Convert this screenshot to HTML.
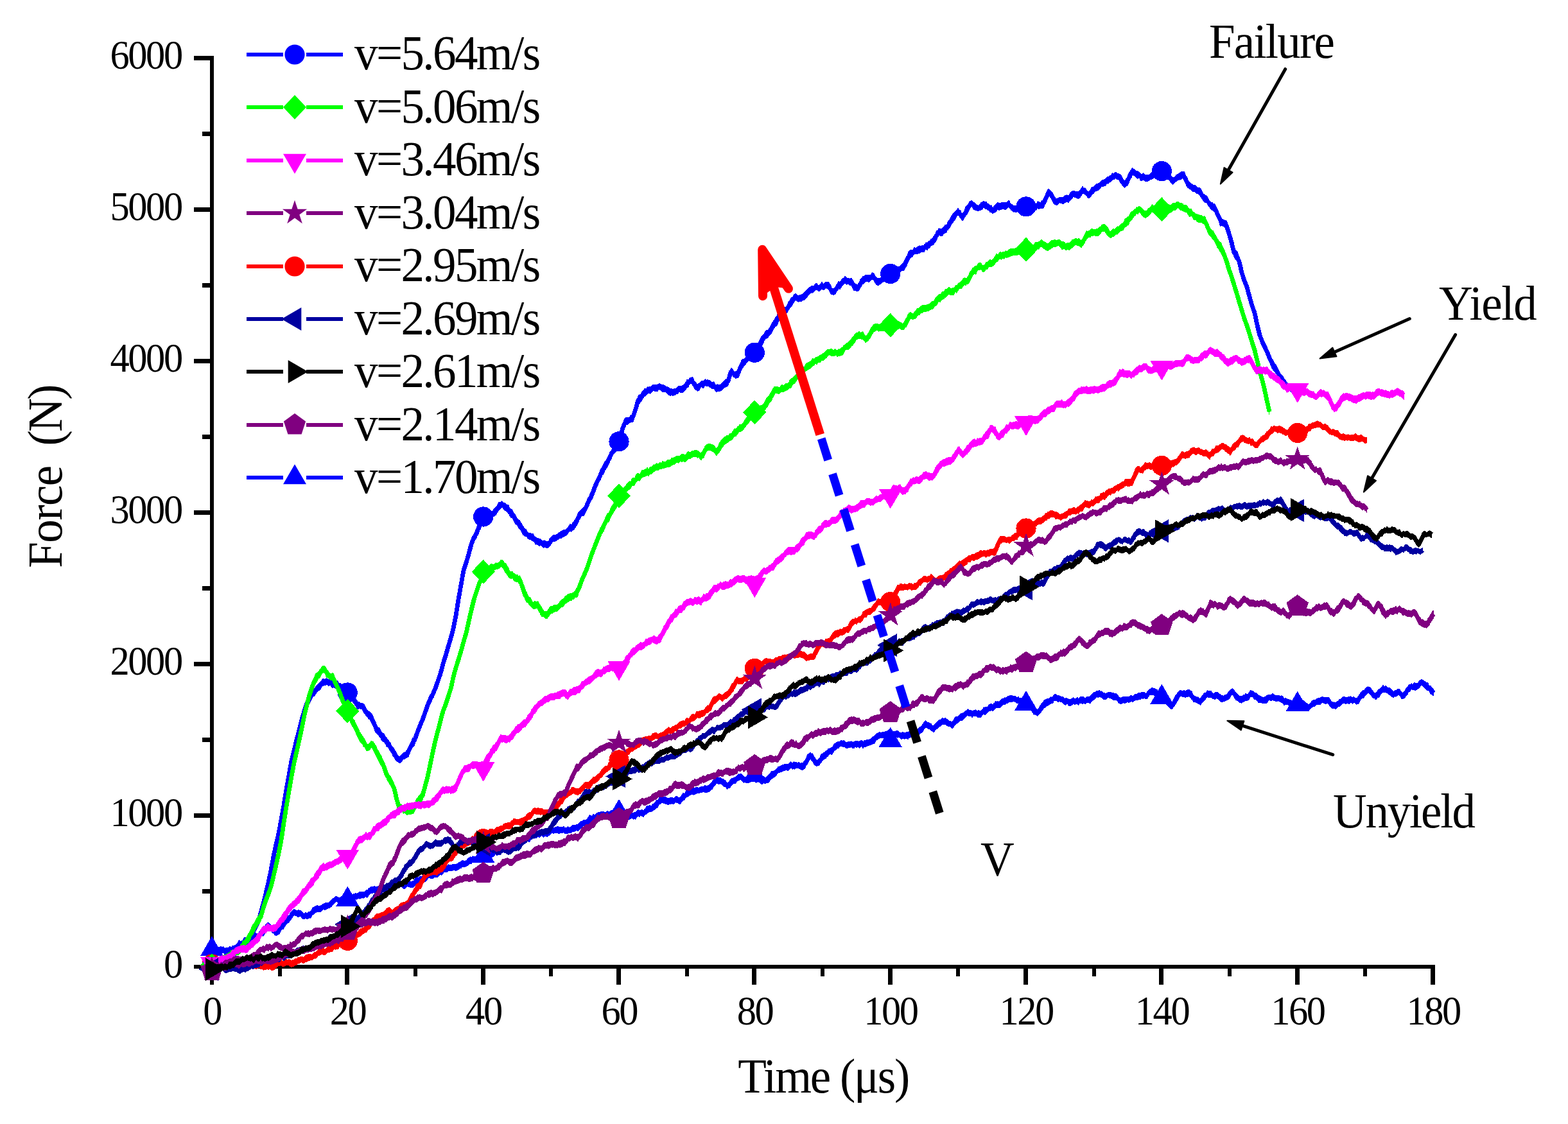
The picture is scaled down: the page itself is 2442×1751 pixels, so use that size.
<!DOCTYPE html>
<html lang="en"><head><meta charset="utf-8"><title>Force-time curves</title>
<style>html,body{margin:0;padding:0;background:#fff}svg{display:block}text{font-family:'Liberation Serif', serif;fill:#000;white-space:pre}</style></head><body>
<svg width="2442" height="1751" viewBox="0 0 2442 1751">
<rect width="2442" height="1751" fill="#fff"/>
<g fill="#000" shape-rendering="crispEdges">
<rect x="327" y="87" width="6" height="1422"/>
<rect x="327" y="1503" width="1908" height="6"/>
<rect x="302" y="1503" width="28" height="6"/>
<rect x="315" y="1385" width="15" height="7"/>
<rect x="302" y="1267" width="28" height="7"/>
<rect x="315" y="1149" width="15" height="7"/>
<rect x="302" y="1031" width="28" height="7"/>
<rect x="315" y="913" width="15" height="7"/>
<rect x="302" y="795" width="28" height="7"/>
<rect x="315" y="677" width="15" height="7"/>
<rect x="302" y="559" width="28" height="7"/>
<rect x="315" y="441" width="15" height="7"/>
<rect x="302" y="323" width="28" height="7"/>
<rect x="315" y="205" width="15" height="7"/>
<rect x="302" y="87" width="28" height="7"/>
<rect x="327" y="1506" width="6" height="28"/>
<rect x="433" y="1506" width="6" height="15"/>
<rect x="537" y="1506" width="7" height="28"/>
<rect x="644" y="1506" width="6" height="15"/>
<rect x="749" y="1506" width="7" height="28"/>
<rect x="855" y="1506" width="6" height="15"/>
<rect x="960" y="1506" width="7" height="28"/>
<rect x="1067" y="1506" width="6" height="15"/>
<rect x="1171" y="1506" width="7" height="28"/>
<rect x="1278" y="1506" width="6" height="15"/>
<rect x="1383" y="1506" width="7" height="28"/>
<rect x="1489" y="1506" width="6" height="15"/>
<rect x="1594" y="1506" width="7" height="28"/>
<rect x="1701" y="1506" width="6" height="15"/>
<rect x="1805" y="1506" width="7" height="28"/>
<rect x="1912" y="1506" width="6" height="15"/>
<rect x="2017" y="1506" width="7" height="28"/>
<rect x="2123" y="1506" width="6" height="15"/>
<rect x="2228" y="1506" width="7" height="28"/>
</g>
<g fill="none" stroke-width="6.8" stroke-linejoin="round" stroke-linecap="butt" shape-rendering="crispEdges">
<g><path d="M330 1479.9l2-.9 2-.6 2-2.7 2 .4 2-1 2-.1 2-1.9 2 2.3 2-1.2 2 3 2-1 2-.1 2-.4 2-2.6 2 2.1 2-2.7 2 .4 2-1 2-1 2-2.6 2-4.1 2 .9 2 2.5 2-4 2-3.5 2 .1 2-.7 2-2.1 2-1 2 .9 2-.8 2-1.1 2-1.5 2-.8 2 1.2 2 .3 2-3.9 2-4 2-.1 2-.6 2-2.7 2-4 2-1.7 2-.5 2 1.3 2 2.5 2 .5 2 .4 2 3.8 2 .2 2 .8 2-3 2-3.9 2-3.1 2-1.8 2-.4 2-3.8 2-3.1 2-1.3 2-.2 2-4.8 2-2.2 2-1.7 2-1.2 2 .8 2 1.3 2-.8 2-.1 2 .9 2 1.2 2 2.5 2 .9 2-2 2 1.7 2-2.4 2-.4 2-.7 2-4 2-2.3 2-.6 2-1.2 2-.9 2 .7 2 .6 2-.4 2-3 2-.4 2-1.3 2-.1 2-.1 2-.6 2-2.4 2-1.9 2-1.8 2-.9 2-2.3 2 .3 2 .2 2 2 2-1 2-2 2 .3 2-.4 2-.7 2 .3 2-1.9 2-.5 2 1.5 2-.4 2-1.7 2-.3 2-.8 2 .8 2-1.4 2-1.2 2-.3 2-.3 2 .7 2-.1 2-3 2 .4 2-2.8 2-1.4 2-2.1 2 1 2-1 2 .1 2 .6 2-.6 2-.5 2-.6 2-.2 2 1.2 2 .5 2-1.5 2-.6 2-.6 2-.1 2-.6 2-1.3 2-.8 2-.5 2-2 2-1.2 2 1.1 2-1.8 2 .5 2 .8 2 1.2 2 1.5 2-1.1 2-3 2 1.6 2-1 2 1.6 2-.2 2-1.3 2-3.1 2-1.4 2-1.2 2 1 2-2.7 2 .7 2-.5 2 1.1 2-2.4 2-1 2-3.5 2-1.4 2 .6 2 1.6 2-1.7 2-.6 2-1 2 1.8 2-2.2 2-2.3 2-.9 2-1.4 2-.1 2-3 2-.6 2 1.1 2-2.2 2 1 2-.1 2-.7 2 .1 2-1.2 2 1 2-1.4 2-1.2 2-1.4 2-.1 2-3 2 1.6 2 .7 2-1.4 2-2.3 2-1.8 2-1.8 2 .9 2-2.1 2 1.2 2-.4 2 0 2-4.2 2 0 2-.6 2-.3 2-2.5 2 .1 2-.1 2-1.6 2-.6 2-.3 2-.1 2 1 2-1.7 2-1.2 2-1 2 1.2 2 .6 2-1.2 2-2.4 2 .6 2-1.9 2 .4 2-1 2-1.2 2-1.5 2-.6 2-1.2 2-1.1 2-.1 2-2 2 2.1 2-.4 2-.4 2-2.6 2 .2 2-1.7 2-3.9 2-.1 2 .6 2-1.9 2 .1 2-3.3 2-1.9 2 .4 2-1.9 2-.7 2 .1 2 .7 2 .4 2-2.9 2-.3 2 1.7 2 .3 2-1.9 2 1.4 2-1.9 2-.4 2-2.9 2-.7 2 1.3 2-.1 2-1 2-.3 2-.1 2 1.3 2-.8 2 .5 2-1.5 2 2.3 2-.1 2-2 2 1.9 2-.8 2-1.8 2-1.4 2 .2 2-.2 2-.7 2-.5 2-2.5 2-2.2 2 .4 2-2.2 2-.6 2 .3 2-1.3 2-2.2 2-4.1 2 .8 2 .9 2-3.4 2 2 2-2.3 2-1.6 2-.5 2 .3 2-1.4 2 .5 2-.4 2 .7 2-.3 2-2.1 2 2.2 2-1.5 2-1.1 2 .3 2-1.7 2-.6 2 1.9 2 .5 2-.9 2 1.8 2-.9 2-.5 2 4.5 2-2 2 3.7 2-1.9 2 .3 2-.8 2-.2 2 .7 2-1.5 2 .2 2-2.4 2-2 2 1.9 2-1.1 2-.4 2 1.2 2-1.3 2-4.4 2-1.4 2 .1 2-1 2 1 2-2.5 2-.8 2-1.9 2-4 2 1.6 2-5.2 2-2 2-.3 2 0 2 .5 2 .5 2 .9 2 1.1 2-.5 2-.2 2-.6 2 .9 2 .2 2-2.2 2-1.1 2 1.6 2 1.3 2-1.8 2-3.4 2-2.6 2 1.3 2-4.3 2-2 2-1.1 2-.3 2-1 2-.1 2-.5 2 .8 2-2 2 0 2 1.5 2-.9 2-1.7 2 1.2 2-1.2 2-1.9 2 2.1 2-1 2-1.1 2-1.6 2-1.9 2-3.5 2-3.3 2-.2 2-2.1 2 .7 2 .5 2-.1 2 1.4 2 .6 2 1.5 2 1.3 2 2.7 2 0 2-2.6 2-2.4 2-1.5 2-.4 2-1.2 2-1.1 2-1.8 2-2.5 2 .7 2-1 2 1.4 2 2.1 2 2.6 2-1.3 2 .7 2-1.3 2 1.2 2-1.5 2-1.4 2-.6 2 .1 2 1.2 2 .6 2 .6 2-.2 2 1.9 2 .5 2-2.4 2 2.8 2-2.5 2-1.3 2-2.4 2-2.6 2-2 2 0 2-.6 2-2.1 2-1 2-3.6 2 .2 2-1.2 2-1.1 2-.3 2-1.7 2 .2 2 .7 2-.4 2-3 2-1 2 2.7 2-2.6 2 1.2 2-.7 2 1.8 2-1.7 2 2.2 2-.6 2 .1 2-2.8 2-2 2-5.4 2-3.6 2-.9 2-1.8 2 2.1 2-.8 2 5.2 2 3.4 2 2.8 2-1 2-2.6 2-5.5 2-1.4 2-1.5 2-1 2-1.7 2-1.6 2-2.7 2 0 2-1 2-1 2-4 2-1.5 2-1.5 2-1.2 2-.7 2-.1 2-1.9 2 1 2-.6 2 .8 2 2.7 2-1.1 2-.2 2-.2 2-.9 2 1.6 2-.4 2-2.2 2 1.3 2-.9 2 1.3 2-1.6 2-.7 2 3 2-3 2 .3 2-.8 2-.5 2 .2 2-1.7 2-1.6 2-1.6 2-1.5 2-1.5 2-1.9 2-.7 2-1.3 2 1.2 2-1.4 2 .7 2-1.2 2-.6 2-.7 2-1.5 2 2 2 1.2 2 0 2-1.1 2 1 2-1.9 2 0 2 1.8 2 1.5 2 .6 2-1.5 2 .9 2 0 2-.8 2 .1 2-1.7 2-.9 2-1.9 2 .3 2 .7 2 1.6 2-2.3 2-1.1 2-2.6 2-.4 2-3 2-2.9 2-3.1 2-.7 2 2.7 2-.1 2 1.1 2 .7 2 2.6 2 1.4 2-1.9 2-4 2-1.1 2-2.3 2 .1 2-1.6 2-2.1 2 1.1 2-1.2 2 2.2 2 .4 2 2.8 2-.6 2 1.4 2-.8 2-4.6 2-2.3 2-.1 2-.2 2-1.9 2-2.9 2 .4 2-1.6 2-1.4 2-1.5 2-1.5 2-1.5 2 2.2 2-.7 2 2.2 2-1.2 2-.5 2-.9 2 2.1 2-1.1 2 .9 2-.4 2-1.7 2-3.6 2 .5 2-1.2 2 .3 2-3.7 2-.7 2-.5 2 1.1 2-1.1 2-3.9 2 .5 2-.3 2 .4 2-2 2-2.4 2-.4 2-1.5 2 .2 2-1.3 2-1.3 2-.6 2-.1 2-.3 2 1.1 2-.5 2 .3 2 2.8 2-2.5 2 3.6 2-1.5 2 1.5 2 1.2 2 1.4 2-.3 2 1.8 2 1.5 2-.9 2 2 2 2.8 2 3.8 2 2.1 2 .1 2 1.9 2-3.1 2-3.7 2-3.4 2-1.5 2-2.8 2-1.2 2-1 2-.6 2 .1 2-2.8 2 .5 2-1.4 2-3.6 2-.2 2 2.3 2 .7 2-.1 2 1.1 2 .5 2 .3 2 2.5 2-.7 2 .2 2 1.5 2-.3 2 .3 2-1.5 2-1.3 2 2.6 2-1.3 2-1.7 2 2.6 2-2.8 2-.1 2-.4 2 .2 2 2.6 2-2.9 2 .8 2-.8 2-1.1 2-1.7 2-2.3 2-1.9 2-.2 2-2.1 2 .6 2-1.6 2 2.1 2-.2 2 2.6 2 .1 2 .8 2-.9 2-1.2 2 .4 2-.6 2 1.9 2-.3 2 .9 2-.4 2 2 2 2.3 2 2.3 2 .4 2-1 2-1.3 2 .8 2-.5 2 0 2 .3 2-1.5 2-1 2 2.4 2-2.3 2-1.8 2 .4 2-1.6 2-.7 2 .6 2-1.4 2-.6 2 .3 2 2.1 2-.6 2-3.2 2-3.3 2-.3 2-1.7 2 .8 2 .5 2 1 2 .8 2 2.4 2-1.1 2 1.7 2-.1 2 1.8 2 1.6 2 3.4 2 2.6 2 4.5 2 1.3 2 3 2-1.4 2-5.5 2-4.1 2-2.2 2-3.6 2-1.3 2-2.2 2 1 2 .5 2-1.5 2 1.3 2-1.2 2-.5 2-.4 2 2.1 2-.1 2 5.9 2 1.9 2 .8 2 1.1 2-.2 2 2.4 2-1.1 2-2.7 2-3.3 2-1.8 2-.4 2-3.8 2 1.5 2 .1 2-.9 2 3.1 2 1.4 2-1.3 2-.7 2 .4 2 .8 2 2 2 1.5 2 .4 2 .9 2-2.3 2 0 2-2.6 2-2.7 2-1.2 2-2.4 2-.6 2 2.4 2 2.8 2 2.7 2 .9 2 2.7 2 .7 2 .1 2-2 2-.2 2-2.5 2 2.1 2-1.7 2-3.2 2-2 2 1.6 2-.1 2 2.2 2 .6 2 .9 2 2.5 2 1 2 .9 2 1.1 2 .4 2-.8 2-1.7 2-1.2 2-.8 2 .7 2-.8 2-2.3 2 3 2 .5 2 .7 2-.7 2 .1 2 1.1 2-.5 2 1.2 2 3.3 2-.7 2 1.3 2 .4 2 .8 2 .2 2 1.4 2-1.6 2 .2 2 .4 2-1.8 2 3.2 2-.1 2 1.2 2-1.5 2-.1 2 1.4 2 1.9 2 .9 2 2.3 2-1.2 2-3.7 2-1.9 2-.6 2-.1 2-1.8 2-.7 2-.4 2-.6 2-1.2 2-.5 2 1 2 .2 2 .2 2-1 2 1.2 2 3.6 2 2.6 2 1 2-.3 2 .8 2-2 2-.6 2-3 2 .5 2-2.4 2-2 2-.1 2 1.3 2 .6 2-1.6 2 .8 2-1.7 2 2.8 2-1.9 2 1.5 2 .6 2-.2 2-3.9 2-2.5 2-3.5 2-1.5 2 .4 2-4 2-1 2-1.5 2 .6 2 .4 2 2.7 2 2.3 2 3.1 2 .6 2-1.1 2-3.6 2-1.3 2-1.9 2-1.3 2-3.6 2 3.3 2-1.5 2 1.6 2 1.7 2-.2 2 1.6 2 1.3 2 2.9 2-1.5 2-.6 2-1 2-1.6 2 1.6 2 2.8 2 2 2 .4 2-3.9 2-3.8 2-1 2-4.6 2 .9 2-2.7 2 2.3 2-2.9 2 .2 2 1.1 2-.8 2-3.2 2-1.6 2-1.6 2 1.5 2 1.7 2 1.2 2 1 2 .4 2 4.5 2 .2 2 2.3 3.1 3.2 0 11.2 -3.1-2 -2-1 -2-3.8 -2-1.8 -2 0 -2-2.5 -2-1.6 -2-2.8 -2-1.6 -2 2.3 -2 3 -2 .8 -2 1.7 -2 .5 -2-.4 -2 .1 -2-1.4 -2 3.6 -2 .5 -2 5.1 -2 .8 -2 3.4 -2 .9 -2 .9 -2-1 -2-3.9 -2-1.9 -2 1.8 -2 1.6 -2-.7 -2 2.1 -2-1.2 -2-1.8 -2-1.1 -2-2.2 -2-.8 -2-1.4 -2 0 -2-.3 -2 1.3 -2 3.5 -2 4.1 -2-1.1 -2 3 -2 1.5 -2-3.1 -2 .3 -2-2.9 -2-2.6 -2-1.9 -2-.9 -2 3.3 -2 1.2 -2 3.3 -2 .1 -2 2 -2 3 -2 4.1 -2 .5 -2 .5 -2-2.4 -2 .2 -2 1.7 -2-3.1 -2 2.4 -2 .1 -2-.5 -2 .9 -2-1 -2-.6 -2 2.3 -2 2.1 -2 1.4 -2 .1 -2 2.1 -2 1.8 -2-1.5 -2-.2 -2 .1 -2-2.1 -2-2.4 -2-3.4 -2 .8 -2 .5 -2-.7 -2-1.1 -2 .6 -2 2.4 -2-.3 -2 .4 -2-.2 -2 2.5 -2 .4 -2 1 -2 1.4 -2 2.3 -2 2.7 -2-3.7 -2 1.6 -2-1.6 -2-2 -2-2 -2 2.1 -2 .1 -2-1.7 -2-2.7 -2 2.8 -2-2.1 -2 1.2 -2 .3 -2 1.1 -2-1 -2-2.2 -2-.9 -2 .3 -2 1.4 -2-2.7 -2-1.7 -2-1.1 -2-.9 -2-.8 -2 1.4 -2-1.4 -2 .4 -2-2 -2 1.7 -2-.6 -2-.8 -2 3.6 -2 1.4 -2-.1 -2 .2 -2 .3 -2-1.4 -2-.5 -2 1 -2-3.5 -2-1.3 -2-.5 -2-2.1 -2-2.2 -2-.3 -2 3.8 -2 1.8 -2 .8 -2-.3 -2 1.5 -2 .6 -2 2.4 -2-1.5 -2 .4 -2-3.1 -2 0 -2-1.7 -2-3.4 -2-4.1 -2 .2 -2 4.1 -2 3.1 -2 0 -2 1.8 -2 .6 -2 .4 -2 1.6 -2-.6 -2-1.2 -2-2.5 -2-1.1 -2-.9 -2 1.8 -2-.7 -2-.5 -2-2 -2 .9 -2-.9 -2-1 -2 3.4 -2 2.2 -2 2 -2 2.1 -2 3.4 -2-1.2 -2-1.1 -2-1.3 -2-1 -2 .1 -2-.9 -2-4.6 -2-1.5 -2-2.5 -2 1.6 -2-.4 -2 1.3 -2-1.7 -2 1 -2-1.7 -2-.5 -2 4.7 -2 3.3 -2 3.9 -2 2.6 -2 2.5 -2 3.1 -2 .5 -2-1.6 -2-1.4 -2-2.6 -2-1.7 -2-4.6 -2-1.5 -2-2.5 -2-1.7 -2-.6 -2-1.4 -2-2.1 -2 .3 -2 .6 -2-1.7 -2 .1 -2-.2 -2 1 -2 3.6 -2 2.5 -2-.6 -2-.7 -2 .5 -2-.6 -2 2.3 -2-.4 -2 .6 -2 .5 -2 .4 -2 1.1 -2 1.1 -2-.6 -2 .7 -2 .9 -2-.5 -2 .3 -2 2 -2-1.2 -2 .4 -2 1.3 -2-.4 -2-1.5 -2-2.4 -2-2.4 -2 1.1 -2-.2 -2-2.2 -2-.5 -2-.6 -2-1 -2 1.6 -2 1.7 -2-.6 -2 .7 -2-3.7 -2-.1 -2-.8 -2 1.1 -2-.9 -2 2.5 -2 2.3 -2 .1 -2 2.6 -2 3 -2-1.2 -2-.7 -2 .9 -2 2.4 -2-1.9 -2 1 -2-1.3 -2-.1 -2 3.6 -2-2 -2-.4 -2 1.7 -2-2.4 -2 3.1 -2 .4 -2 .1 -2 .2 -2-3.2 -2 2.3 -2-1.1 -2-1.3 -2-2.4 -2 .2 -2-1.3 -2 1.3 -2-1.8 -2-.5 -2-.7 -2 4.2 -2 .2 -2 1.2 -2 1.3 -2 1.1 -2 .6 -2 2.5 -2 .8 -2 3.4 -2 2.3 -2 2.9 -2 .9 -2 3.3 -2-1.7 -2-1 -2 .2 -2-3.3 -2-2.9 -2-3.7 -2 .9 -2-.8 -2-3.5 -2 .9 -2-2.1 -2-.6 -2-1.3 -2 .8 -2-1.7 -2-.3 -2-1.3 -2-1.4 -2 0 -2 .4 -2 .2 -2-.4 -2 2.3 -2 .2 -2 1.7 -2 .6 -2-.3 -2 2.5 -2 2 -2 1 -2-.9 -2 .6 -2 .7 -2 2.7 -2 1.7 -2-1.7 -2 1.5 -2-.4 -2 2.9 -2 2 -2 1.4 -2-1 -2 1.4 -2 3.3 -2 .5 -2-.4 -2 0 -2-2.6 -2 1.4 -2-1 -2 2.9 -2-3 -2 0 -2 0 -2-.4 -2 2.9 -2 1.8 -2 1.2 -2 2.5 -2-.4 -2 1.3 -2 2.6 -2 0 -2 2 -2 2.9 -2 2.6 -2 .1 -2-2.4 -2 .2 -2-1 -2-.6 -2-2.1 -2 .3 -2-.3 -2 1.4 -2 1.9 -2 1.6 -2 1.8 -2 .9 -2 2.9 -2 2.4 -2-2.6 -2-.3 -2-2.8 -2 .4 -2-2 -2-.9 -2 1.7 -2 4 -2 2.7 -2 .8 -2 2.1 -2 .9 -2 2 -2 1.6 -2-1.5 -2-1.2 -2 .8 -2 1.8 -2 .8 -2 2.2 -2-.8 -2-.8 -2 1.4 -2-1.8 -2 2.2 -2-2.2 -2-1.3 -2 .8 -2-.3 -2 .8 -2 .1 -2 .1 -2-.8 -2-.3 -2-2.7 -2 1.5 -2 .8 -2-.4 -2 1.8 -2-.5 -2 .8 -2-.1 -2 1.3 -2 1.1 -2 2.2 -2 3.7 -2-.1 -2 1.7 -2 .6 -2 .8 -2 .3 -2 1.1 -2 1.3 -2-.9 -2 3.5 -2-4.4 -2 2.3 -2 .9 -2-1.9 -2 2 -2-2.2 -2 2.6 -2-.2 -2-1.7 -2 .3 -2 .2 -2 .9 -2 .2 -2-1.4 -2-.8 -2-.3 -2-.3 -2 .4 -2 2.8 -2 0 -2 1.8 -2 1.3 -2 3 -2 3 -2 0 -2-.1 -2 2.8 -2 1.5 -2 2.6 -2 .7 -2 1.8 -2 2.1 -2 2.6 -2 3.6 -2 0 -2 .8 -2-1.1 -2-.9 -2-3.8 -2-2.8 -2-2.7 -2 1.7 -2 5.9 -2 1.9 -2 5.5 -2 .9 -2 2 -2-1.2 -2-.5 -2-1.7 -2 .5 -2-1.1 -2 2.5 -2-1.1 -2 1 -2-2.4 -2 1.5 -2 2.5 -2 .2 -2-.9 -2 1.4 -2 .2 -2 1 -2 .5 -2 1.3 -2 0 -2 2.9 -2 1.9 -2 2.1 -2 1.3 -2 .7 -2 2.5 -2 3.3 -2 1 -2 .1 -2 1.8 -2-1.7 -2 1.5 -2 .6 -2-1.5 -2-2.1 -2-.3 -2 1.6 -2-1.5 -2-.9 -2 .5 -2-.4 -2 1.7 -2 .5 -2 .6 -2-.6 -2-.4 -2 .3 -2-2.4 -2-2 -2 .2 -2 1 -2 .8 -2 3.1 -2 .5 -2 .8 -2 1.8 -2 2.5 -2 2.4 -2 .1 -2 1.8 -2-4.3 -2 .1 -2-1.7 -2-2.1 -2-.9 -2 .4 -2-.2 -2-1.4 -2 3.4 -2 1.8 -2 3.7 -2 1.7 -2 1.2 -2 2.3 -2 .1 -2 1.3 -2-.9 -2-.9 -2 .8 -2 .3 -2 .5 -2 1 -2-.5 -2 1 -2 1.2 -2 .6 -2-1.2 -2 1 -2 .6 -2 1.8 -2 .9 -2 1.9 -2 2.6 -2 .6 -2 2.7 -2 2.7 -2 .8 -2-1.6 -2-.4 -2-1.1 -2 2.6 -2 .1 -2-.4 -2 .6 -2 .4 -2 .6 -2-1.5 -2 .1 -2-.6 -2-1.7 -2 1.2 -2 1.5 -2 1.3 -2 5.3 -2-.6 -2 2.2 -2 1.4 -2 1.4 -2 1.6 -2-.4 -2 1 -2 .9 -2 2.1 -2 1 -2 3.2 -2-1.5 -2-1.1 -2 2.4 -2-1.4 -2 1.9 -2 3.1 -2-1.1 -2 1.2 -2-2 -2 1.1 -2 1.4 -2 .1 -2-.1 -2-1.5 -2 .2 -2-3.4 -2-.1 -2 .8 -2-1.4 -2 .6 -2-1.7 -2 .1 -2 0 -2 .5 -2 1.1 -2 1.4 -2 1.4 -2-1.1 -2 1.1 -2 1.2 -2-1.9 -2-1.3 -2 .9 -2 2.2 -2-1.3 -2 1 -2 1.8 -2 1.9 -2 .1 -2 .9 -2 0 -2 1 -2 4.4 -2 .2 -2 .9 -2-1 -2 1.4 -2 3.3 -2 .4 -2 2 -2 1.5 -2-1.2 -2 1.1 -2 1.2 -2 0 -2 1.4 -2 .8 -2-.1 -2 1 -2-.7 -2 1 -2-2.6 -2 1.6 -2-.6 -2 .8 -2 0 -2-.3 -2-.5 -2 .2 -2 .9 -2-1.8 -2 1.9 -2 2.1 -2 1.6 -2 1.8 -2-1.5 -2 0 -2 2 -2-2.9 -2 .9 -2 2.6 -2-1.8 -2 1.5 -2 .5 -2 .5 -2-.3 -2 1.9 -2 1.7 -2 3.5 -2-2.8 -2 1.6 -2 2.4 -2 .5 -2 2.9 -2 2.6 -2-2.8 -2 3.3 -2 .6 -2 0 -2-2 -2 2.2 -2-.1 -2 .5 -2 .9 -2 2.9 -2 1.1 -2 .2 -2 2.1 -2-1.4 -2 1.2 -2 .6 -2 2.6 -2-.8 -2 2.2 -2-2.8 -2 2.4 -2 1.9 -2 .6 -2-1.7 -2-.5 -2 .1 -2 .4 -2 1.7 -2 2.3 -2 .5 -2 .7 -2 .9 -2-1.2 -2 1 -2 4 -2 .1 -2 0 -2-.8 -2 3.5 -2-1.2 -2 2.5 -2 .9 -2 .9 -2 1.4 -2-.1 -2-.4 -2 2.7 -2-.3 -2 1.8 -2 1 -2 1.5 -2-1.6 -2 .2 -2 1.1 -2-.7 -2 .7 -2 .1 -2 1.8 -2-.5 -2-.3 -2 3.1 -2 2.8 -2-2.2 -2 2.1 -2 2.2 -2 1.1 -2-.5 -2 .2 -2 1.9 -2-.2 -2-.2 -2-.9 -2 2.3 -2 2.4 -2 1.6 -2 1.4 -2-1 -2-.6 -2 2 -2 .2 -2 0 -2 1.1 -2 3.9 -2 1.6 -2 .6 -2-.1 -2-.6 -2-.1 -2-1.2 -2 1.9 -2 2.5 -2-.8 -2-2.3 -2-1.2 -2 .9 -2 1.8 -2-1 -2 1.4 -2 1.2 -2-1 -2 2.8 -2 2 -2 .5 -2-.9 -2 1.1 -2 0 -2 1.8 -2-1.9 -2-.7 -2 1.4 -2-.9 -2 1.4 -2-.8 -2 .4 -2-.2 -2 2 -2-.6 -2 1.5 -2 2.1 -2 3.8 -2-2.3 -2 1.5 -2 1.2 -2-.8 -2 .7 -2 1.1 -2-1.2 -2 2.5 -2-1.3 -2 3.6 -2-1.6 -2 2.7 -2-.5 -2-2.2 -2 1.3 -2 .8 -2 0 -2 .4 -2 1.4 -2-.4 -2 .3 -2 .9 -2-1.1 -2-1.4 -2 1.1 -2 2.1 -2 2.6 -2 2.3 -2 1.6 -2 .1 -2 1.4 -2 .8 -2 .7 -2-.7 -2 1.5 -2 2.2 -2 .6 -2-.9 -2 1 -2 .3 -2 2 -2 1.1 -2 1.8 -2 4 -2-.2 -2 .9 -2 1.6 -2-1.9 -2 .9 -2 .8 -2-2.1 -2-3.3 -2 1 -2 1 -2-1.8 -2-.7 -2-.7 -2 1.3 -2 4.7 -2 1.8 -2 4.5 -2-.2 -2 2.9 -2 1.4 -2 5.2 -2-.1 -2 2.2 -2 4.8 -2 1.8 -2 .4 -2 1 -2-.4 -2-2.8 -2-1.4 -2-2.5 -2-1.9 -2-.3 -2 1.1 -2 2.3 -2 4.5 -2 2.3 -2-.4 -2 1.7 -2 2.8 -2 3.1 -2 .1 -2-2.5 -2-.3 -2 2.7 -2-.1 -2 2 -2-.8 -2 .7 -2 2.2 -2 .9 -2 1.4 -2 2.4 -2 2 -2-1.1 -2 0 -2 4 -2 3 -2 .9 -2-.2 -2-.3 -2 1.6 -2-.3 -2 2 -2 1.4 -2 0 -2-.4 -2-2.6 -2 .8 -2-1.4 -2 .8 -2 1.3 -2-.2 -2 1.6 -2 2.8 -2-.8 -2-.8z" fill="#0000ff" stroke="none"/>
<path d="M330 1484.3l4-.1 4-2.9 4-1.1 4-.5 4 2.3 4-.2 4-2.9 4-.4 4-1.5 4-3.6 4-2.9 4-2.2 4-2.6 4-2.9 4-.7 4-1.4 4-2 4 .7 4-5.8 4-2.1 4-6.4 4-2.1 4 3 4 2.2 4 3.7 4-1.8 4-7 4-2.7 4-6.5 4-2.2 4-5.7 4-4.8 4 1.6 4 .7 4 1.3 4 2.7 4-.7 4-2 4-3.2 4-3.1 4-2.6 4-.3 4-2.8 4-1.2 4 .2 4-3.1 4-3.8 4-3.7 4 .5 4 .7 4-1.6 4-.4 4-1.9 4 1.1 4-1.7 4-1.5 4-1.3 4-1.1 4-.2 4-2.2 4-2.3 4-2.8 4-.2 4-.4 4-1.5 4-.9 4 2.7 4-1.9 4-.6 4-2.1 4-.8 4-3.3 4-1 4 1.1 4 2.3 4-3.7 4 .9 4 .7 4-3.5 4-2.9 4-1.7 4-.3 4-1.3 4-3.1 4-1.1 4-.8 4-2.2 4-.4 4-3.1 4-1.2 4-2.8 4-1 4-.9 4 .2 4-.3 4-1.4 4-2.6 4-2.2 4-.3 4-3 4-1.2 4-1.8 4-.1 4-4.7 4 .3 4-2.4 4-2.8 4 .1 4 .5 4-2.6 4 .5 4-1 4-2.1 4-.3 4-3.1 4-3 4-1.8 4-1.2 4 .7 4-2.9 4-1.2 4-4 4-2 4-1.9 4-2.6 4-1.4 4-.5 4-1.7 4 1.7 4-1.3 4-.8 4-4.5 4 .7 4-1.3 4 .6 4 0 4-.6 4 2.1 4-1 4-1 4-2.1 4-1.6 4-1.5 4-2.2 4-2.9 4-1.2 4-5.1 4-.3 4-1.2 4-2.8 4-.8 4-1.7 4 2.1 4-2.8 4 .3 4-1.8 4-.5 4 .9 4 1.3 4-.2 4 2.5 4 1 4-.3 4-.4 4 0 4-5.1 4 .6 4 .7 4-4.5 4-1.7 4-1.2 4-2.2 4-4.4 4-4.4 4-2.6 4 .6 4 1.2 4 0 4-1.3 4 .6 4-2 4 2.3 4-4.4 4-2.2 4-4.4 4-2.8 4-1.6 4 .2 4-.9 4-.7 4-.9 4-1.2 4 0 4-2.6 4-4 4-3.9 4-2.7 4 .8 4 1.7 4 3.2 4 1.7 4-2.9 4-3.4 4-2.4 4-3.8 4 .5 4 3.1 4 1.6 4-1.1 4-1.5 4-.3 4 1.1 4 0 4 2.3 4-1.1 4-.4 4-2.8 4-5.3 4-.8 4-3.6 4-3.3 4-2.6 4-.9 4 1 4-3.5 4 .6 4-.3 4 .2 4 .4 4 1.1 4-4.8 4-7.3 4-6.1 4 4.3 4 6.6 4 .7 4-5.3 4-4.1 4-3.4 4-3.7 4-2.2 4-3.2 4-3.1 4-2.6 4-2.4 4 .5 4 2.2 4-.4 4-.7 4 .4 4-.5 4-.1 4-2 4 .7 4-.7 4-1.1 4-1.8 4-2.7 4-5 4-1.4 4-.8 4-.8 4-1.5 4 1.2 4 .9 4-.1 4-.8 4 2 4 .1 4 .1 4 .3 4-2.5 4-2.6 4 2 4-2.9 4-2.8 4-5.1 4-4.4 4 3.3 4 1.2 4 3.4 4-5.6 4-3.1 4-1.9 4-1.6 4 1 4 3.3 4 1 4-3.6 4-3.2 4-2.9 4-2.1 4-3.4 4-3.1 4 0 4 2.7 4-2.5 4 1.3 4 .9 4-3.4 4-1.8 4-2.2 4-3.3 4-.1 4-4.4 4 .1 4-1.9 4-3.6 4 0 4-2.9 4-1.3 4 .7 4 .6 4 .6 4 2.2 4 2.4 4 .5 4 3.2 4 3.3 4 5.4 4 2.1 4-1.5 4-5.4 4-4.5 4-3.7 4-.7 4-2.6 4-3.8 4 .2 4 1.5 4 .8 4 3.9 4-1.5 4 2.1 4-1 4 0 4-1.4 4-.5 4 0 4 1.1 4-2.2 4 0 4-5.3 4-1.2 4-2.7 4 1.2 4 2.1 4 1.3 4-3.3 4 .7 4 2.6 4 0 4 3.6 4 3 4-1.7 4-.9 4 .7 4-2.5 4-.8 4-.7 4-1.5 4-.9 4-1.1 4 1.4 4-5.9 4-1.2 4 1.4 4 .4 4 2.5 4 1.6 4 4.1 4 6.6 4 4.8 4 .8 4-7.2 4-6.5 4-6 4 1.1 4 1.7 4-1.9 4 1.2 4 5.8 4 2 4 1.1 4 2.2 4-5.8 4-3.1 4-2.5 4 .3 4 2.7 4-.9 4 1.6 4 2.7 4 .9 4-1.2 4-4.4 4-4.4 4 2.4 4 4.9 4 2.9 4 1.4 4-3.2 4-.6 4-3.1 4-2.2 4 2.8 4 2.4 4 2.7 4 2.2 4-1.1 4-1.8 4-1.2 4-1.8 4 2.4 4-.8 4 2.4 4 1.4 4 2.5 4 .3 4 2.6 4-.4 4 .2 4 .2 4 1.4 4-.4 4 3.6 4 2 4-4.5 4-3.2 4-1.7 4-1.2 4-2 4 1.4 4 0 4 1.3 4 5.4 4-.1 4 .5 4-3.5 4-2.1 4-2.9 4 1.1 4 .3 4 .3 4-.8 4 1 4-5.6 4-4.9 4-3.6 4-2.5 4 1.5 4 4.7 4 3.5 4-4.3 4-3.3 4-4.9 4 1.7 4 1.8 4 2.1 4 3.2 4-1.8 4-2.2 4 4.9 4 1.3 4-5.4 4-5.7 4-3.3 4 .3 4-.1 4-2.1 4-4.1 4 3.3 4 3.1 4 3.2 4 3.9 3.1 2.7" stroke="#0000ff"/>
<g stroke="none"><path d="M312 1489.3L348 1489.3L330 1458.3Z" fill="#0000ff"/><path d="M523.3 1411.6L559.3 1411.6L541.3 1380.6Z" fill="#0000ff"/><path d="M734.7 1344.3L770.7 1344.3L752.7 1313.3Z" fill="#0000ff"/><path d="M946 1275.7L982 1275.7L964 1244.7Z" fill="#0000ff"/><path d="M1157.3 1217.5L1193.3 1217.5L1175.3 1186.5Z" fill="#0000ff"/><path d="M1368.7 1163.6L1404.7 1163.6L1386.7 1132.6Z" fill="#0000ff"/><path d="M1580 1106.9L1616 1106.9L1598 1075.9Z" fill="#0000ff"/><path d="M1791.3 1096.7L1827.3 1096.7L1809.3 1065.7Z" fill="#0000ff"/><path d="M2002.7 1107.7L2038.7 1107.7L2020.7 1076.7Z" fill="#0000ff"/></g></g>
<g><path d="M330 1499.7l2 .1 2 2.3 2-1 2-2.6 2 1.9 2-1.6 2 1.8 2-1.3 2 2.5 2-1.5 2 2.3 2 .7 2-1.2 2 1.5 2-.3 2-1.9 2 .3 2-1.6 2 1.9 2-1.2 2 .1 2-2.3 2 .3 2 1.5 2 .8 2-1.4 2-1.4 2 1.2 2-1.3 2-1.5 2 2.4 2-2.2 2 2.2 2-.4 2 .5 2-1.4 2 1.1 2 .1 2-.2 2 1.8 2-.5 2 1.1 2-1 2 .9 2-.6 2-.4 2 1.9 2-2 2-.8 2-1.4 2-2.2 2-.6 2-1.1 2-.4 2 3.3 2-1.2 2-1 2-.3 2 .3 2-.6 2 .8 2 1.7 2-1.5 2-.6 2-1.4 2 0 2-2.3 2 .8 2-2.1 2 0 2 1.3 2-.8 2-3.2 2 .2 2-1.5 2 1.2 2-1.5 2 2 2-3 2-1.4 2-.2 2-2.4 2-2.4 2 .1 2 .3 2-.7 2-.3 2 1.1 2-1.1 2-3.9 2-.5 2-.6 2-.6 2 .5 2-3.5 2-.1 2-.2 2-1.1 2-2 2-2.6 2-2.3 2-.6 2 .5 2-.3 2-1.1 2-.1 2 .8 2-3.3 2-1.4 2-3.6 2 2.2 2-3.1 2 1.2 2-1.2 2-3.2 2-1.4 2 0 2-1.3 2-1.7 2-1.8 2-.4 2-3.5 2-2.1 2-1 2-4.7 2-.2 2-3.7 2-1.7 2-.8 2 .1 2-1.3 2-.2 2-1.1 2-.5 2-2.5 2-2.6 2-.5 2-1 2 1.2 2 2.8 2-.9 2-1.5 2-1.9 2-1.2 2-.4 2-3.1 2-2.2 2 .1 2-1.6 2 .9 2-1.9 2-.9 2-3.1 2-5.1 2-2.7 2-2.8 2-3.9 2-2.1 2-6.2 2-.6 2-1.5 2-3.6 2-2.3 2-4.2 2-5.8 2-.4 2-1.9 2 0 2-.4 2-1.3 2-1.3 2 .2 2-.2 2-1.1 2 .6 2-1.3 2-2.3 2-.2 2-2.5 2-1.6 2-5.8 2-1.2 2-3.2 2-1.3 2-2.2 2-.4 2-.1 2-4 2-4.8 2-2.8 2-1 2-3.1 2-2.3 2-1.7 2 2.5 2-1 2-3.2 2 0 2-2 2-1.2 2-.4 2-2.7 2-2 2 1.9 2-1.9 2 .8 2-1.6 2-2.3 2-1.5 2-1.6 2 .8 2 .1 2-1.3 2-2.2 2 1.8 2-3.4 2 .8 2-.2 2 .1 2 .5 2-3 2-.8 2-.1 2-1.1 2-1.5 2 .9 2-2.7 2-.8 2-1.3 2 0 2-1.2 2 1.3 2-3.1 2-.6 2-3.3 2 .4 2 1.4 2-.4 2-.2 2-.4 2-1.3 2-.5 2-1.1 2-.9 2-3.6 2-1.2 2-1.5 2 .1 2-2.8 2-3.1 2-1 2-.2 2 1.2 2-1.5 2 1.3 2-.8 2 0 2 2 2 .9 2-.1 2-.2 2-.3 2-1 2-.1 2-.8 2-1.2 2-6.5 2-.5 2-1.9 2-1.3 2-6.1 2-1.9 2 1.3 2-4.8 2-2.9 2-2.5 2 1 2-.7 2-.9 2-4.4 2 .9 2-.3 2 1.7 2 .1 2-.3 2-.2 2-2 2-2.1 2-2.1 2-2.4 2-.7 2-.6 2 .9 2-1.9 2-1.7 2-2.2 2-3.3 2 .7 2-1 2-2.5 2-1.5 2-1.8 2-3.6 2-2.1 2-2.5 2-1.8 2-.3 2-.2 2-5.8 2 .2 2-2.8 2-2.7 2-2.1 2 .1 2-2.5 2-.8 2-.3 2-.4 2-2.5 2-1.6 2-.9 2-2.4 2-1.5 2-1.5 2-1 2-2.7 2-3.2 2 1.5 2-.8 2-3 2-2.2 2 .2 2-.8 2-2.8 2-1.6 2-.9 2-.4 2-1 2 .1 2-.7 2-.3 2 .2 2-3.4 2-.6 2-.6 2-.7 2 2.4 2-.5 2-1.2 2-.6 2-.7 2-1.8 2-1.8 2-1.2 2-2.1 2-1.1 2 2.7 2-2.6 2-1 2-.3 2-2.3 2 .1 2-2.6 2-1.7 2-.7 2-.4 2-1.5 2 1.5 2-4.4 2-.7 2 1.2 2-1.9 2-3.6 2-1.4 2-.4 2 .9 2-4.2 2-1.2 2 1 2-1.6 2-.4 2-.9 2 .1 2-2.7 2-2.9 2-1.8 2 .4 2-4.2 2-4.6 2-3.4 2-2.6 2 .9 2-1.6 2-1.7 2-2 2 1.5 2 1 2 .2 2-3.3 2-1 2-1.3 2-.9 2-4.2 2-3.7 2-3.4 2-.3 2-4.7 2-3.8 2-1.6 2 1.8 2-.3 2 .5 2-.9 2-2 2-1.8 2-.4 2-.7 2-2.9 2-2.6 2-3.6 2-1.4 2-.3 2-1.2 2-4.4 2-.4 2-3.3 2-.3 2 .4 2-2 2-1.9 2-.6 2-1.4 2 1.7 2-.3 2 .1 2 1.2 2 .2 2-1.6 2-2.3 2 .9 2-1.8 2-.4 2-.1 2-1.4 2-.1 2-1.1 2 .4 2-.4 2 .7 2-2.1 2-1.5 2-1.2 2 1.1 2-1.3 2-.6 2-.5 2 1.6 2-2.1 2 .2 2 1.3 2-.1 2 1.6 2 2.8 2 .7 2-1 2-.6 2 .1 2-.5 2-4.2 2-4.1 2-4.4 2-4.3 2 .2 2-3.5 2-.6 2 2 2-1.8 2-2.6 2 .9 2-1.5 2-.5 2-3.1 2-3.5 2-2 2-2.7 2-.4 2-.9 2 .5 2-2.2 2 1 2-1 2-2.3 2 .5 2-1.7 2-.3 2-2.6 2-4.9 2-2.8 2-1.6 2 1.2 2-3.3 2 1.8 2-2.2 2-1.6 2 .7 2-3 2-5.2 2-.5 2-1.2 2-1.3 2-.9 2-1.4 2 1.2 2-3.4 2-2.6 2-2.6 2-2.2 2-2.9 2-2.8 2 2.3 2-1.3 2 1.3 2 .6 2-.5 2 1.4 2-2.6 2-.1 2 1.4 2-5.1 2-2.6 2-5.9 2-1.8 2-4.1 2-3.8 2 1.3 2-3.2 2 .7 2 .6 2-.5 2 0 2 1.1 2-1.2 2-1.4 2 .8 2-.6 2 2.4 2-3 2 .4 2-.7 2-3.8 2-1.6 2-.5 2-1.8 2-2.5 2-.1 2 .6 2 .2 2-.3 2-1.1 2-2.4 2 1.8 2 2.3 2 1.2 2 1.5 2-2.9 2-.5 2-1.1 2 .2 2-.7 2-.8 2-3.4 2-1.1 2-1.7 2-.6 2-3.6 2 0 2-2.1 2-.3 2-3.1 2-1.5 2-1.9 2-2.6 2 1.2 2-1.7 2-.8 2-1.7 2-1.5 2-.7 2-2.8 2-.5 2 .7 2-3 2 1.6 2-1.2 2-1.5 2-1.1 2-.1 2-2.8 2-.1 2 1.5 2-1.9 2 0 2 1.3 2-1.6 2 .4 2-1.7 2 .3 2-.1 2-1.7 2-.7 2-6.9 2-5.5 2-2.8 2-2.8 2 .1 2 .4 2-.5 2 1.2 2 1.1 2-.9 2-.1 2 .2 2-3.1 2-.5 2-2.4 2 0 2-1.5 2-3.3 2-2.5 2-1.8 2-.8 2 1 2-.8 2-1.9 2-2.3 2-1.2 2-2.1 2 1.3 2-1.3 2-1.7 2-.5 2-2.6 2-1.4 2-.7 2-.4 2 .2 2-2.9 2 .1 2-3.8 2 0 2-2.8 2 .5 2-2.7 2 1.1 2-.3 2 1.5 2 .8 2-.3 2 1.3 2 2.3 2-.1 2-.9 2-.4 2-1.7 2-1 2-1.3 2-3.1 2 .1 2-.2 2-1.6 2-.2 2-.1 2 2 2-3.4 2 .1 2-2.2 2-1.2 2-1.5 2-2.4 2-3.4 2 1.8 2 0 2 1.3 2-1.2 2-2.7 2 1.7 2-1.6 2-4.2 2 .3 2-1.1 2 .5 2-5 2 .5 2-2.4 2 1.1 2-2.8 2-1.4 2-1.4 2-.8 2-.4 2-.6 2-1.2 2-1.7 2-.9 2-2.1 2 .3 2-1.5 2-1.7 2-1.5 2 .5 2-4.1 2 .1 2 .2 2 .1 2-.1 2-.6 2-3.6 2-6.7 2-5.8 2-2.7 2-1.3 2 .2 2 2.7 2-1.2 2-.6 2-5.4 2-1.2 2 1.3 2-.8 2-.3 2 .7 2 .8 2-.9 2 .4 2-1 2-1.4 2 1.1 2-.8 2 1.9 2-1.3 2-1.9 2 .4 2-1.7 2 .4 2 .6 2 .1 2-.5 2-.8 2 .1 2-1.5 2-.5 2-2.6 2-1.9 2-3.5 2-3.3 2-.5 2 2.3 2-1 2-.7 2-.8 2-1.1 2-3 2-1 2-.2 2-1.3 2 2.8 2-.9 2-.5 2-.2 2 2.9 2-.9 2 1.9 2 .1 2-1.1 2 1.5 2 1.2 2 4.2 2-5.1 2-3.7 2 1.8 2-2.8 2-3.6 2 .6 2-.2 2-2 2-1.3 2-.5 2 .2 2 2.1 2-.4 2 3.4 2-.6 2 4.4 2-3.5 2-4.6 2-1.6 2-1 2-2.2 2-1.4 2-3.2 2-4.1 2 0 2-.3 2 .9 2 2.3 2 .9 2 1 2-2 2 3.9 2-1.3 2 .8 2 4.3 2 0 2-.5 2-2.9 2-2.6 2-2.2 2-1.4 2-.7 2-1.4 2-3.8 2-.9 2-2.5 2-2.2 2-3.4 2 1.3 2-2.3 2 .7 2 .9 2 .3 2-1.5 2 .4 2 .8 2 1.5 2 1.3 2 1.3 2 1.6 2-.8 2-.7 2 1.5 2 1.1 2 1.1 2-2.3 2-.1 2-.4 2 1 2-.4 2 .4 2-1.6 2-.2 2-.5 2-4.2 2 .1 2-4.2 2 .3 2-.3 2-2.4 2 1.3 2-1.9 2-.4 2-1.1 2 1.5 2 .5 2 .9 2 2.4 2 .1 2-.7 2 1.8 2 .5 2 3.4 2 1.7 2 1.9 2-1 2 .9 2 .8 2-.3 2 .6 2 3.2 2 2.1 2 .7 2-1.9 2 2 2 .5 2-.1 2-.5 2 1.6 2-.6 2 .4 2-.4 2-2 2-.1 2 2.5 2 .3 2-.2 2-1.2 2 2.4 2 1.3 2 1 2.6-.4 0 9.5 -2.6 1.1 -2-1.8 -2-1.7 -2-.5 -2 2 -2 0 -2-1.2 -2-1.5 -2-.7 -2 1.4 -2 .1 -2-.1 -2-.7 -2-.9 -2 1 -2-1.6 -2 2.2 -2-1.9 -2 1.1 -2-2.3 -2 1 -2-3.7 -2-.6 -2-1.5 -2 .5 -2-2.7 -2 1.3 -2-1.5 -2-.1 -2-2.8 -2-1.3 -2-2.9 -2 .5 -2-.1 -2-2 -2-2.1 -2 0 -2-1 -2 1.6 -2-.3 -2 .9 -2 0 -2 2.6 -2 1.9 -2-.2 -2 4.9 -2-.7 -2 2.4 -2 .8 -2-.5 -2 1.7 -2 .4 -2 1 -2-3.3 -2 1 -2 .5 -2 2 -2-.7 -2-.1 -2-1.7 -2-.9 -2-.4 -2 1.7 -2-2.4 -2-.3 -2-1.7 -2-.2 -2-2.2 -2 2.2 -2-1.7 -2-1.4 -2 .6 -2 2.8 -2 .5 -2 1.7 -2 4.6 -2 2.4 -2 .7 -2 1.3 -2 2.2 -2-.3 -2 1.4 -2 2.7 -2 3.4 -2 2.3 -2-.5 -2-.6 -2-3.3 -2 .3 -2 .4 -2-4.1 -2 1.5 -2-1.7 -2 .1 -2-.5 -2-2.2 -2 1 -2 1.2 -2 4.4 -2 2.9 -2 .1 -2 3.3 -2 1.2 -2 .6 -2 4.1 -2 3.6 -2-3.1 -2-.8 -2-2.5 -2-.3 -2-2.8 -2-.8 -2 .1 -2 2.9 -2 1.6 -2 1.1 -2-.1 -2 1.2 -2 4 -2 .4 -2 1 -2 4.5 -2-2.3 -2-1.8 -2-1.6 -2 .3 -2-.2 -2-2.1 -2 .6 -2-1.6 -2-.8 -2 1.2 -2 1 -2-2.4 -2-.2 -2 2 -2 2 -2 2.8 -2-.2 -2 .7 -2 1.4 -2-1.5 -2 .2 -2 .5 -2 4.9 -2 2.2 -2 2 -2 1 -2 .7 -2 2.3 -2-.4 -2 .6 -2 1 -2-.8 -2-.8 -2-.5 -2 2.2 -2 .4 -2 1.6 -2-1.1 -2-.6 -2-.3 -2 .7 -2 1.6 -2-.2 -2-.7 -2 .8 -2 .9 -2-1.6 -2-.2 -2 .7 -2 1.2 -2 1.3 -2 4.7 -2-1.6 -2 .5 -2-1.6 -2 .1 -2 5.7 -2 4.8 -2 4.9 -2 5.8 -2 .5 -2 .1 -2 .4 -2 .2 -2-1.5 -2 1.3 -2 2.2 -2 1.2 -2 .8 -2 1.2 -2 2.9 -2-2.6 -2 2.5 -2 2.3 -2 1.3 -2-1 -2 3.2 -2-1.3 -2 1.8 -2 2.7 -2 1.7 -2 3 -2-2.5 -2 2.5 -2 .1 -2 4.1 -2 .3 -2-.5 -2 1.3 -2 2.8 -2 1.9 -2-1.8 -2 2.7 -2 2.1 -2-1.9 -2-.5 -2-1 -2 3.1 -2 4.2 -2-.2 -2 .3 -2 4.1 -2-1.2 -2 2.4 -2-1.1 -2-.4 -2 .1 -2 1.8 -2 .3 -2-.2 -2 4.3 -2 1.1 -2-.1 -2 .3 -2 1.7 -2 1.1 -2-1.8 -2 0 -2-1 -2 1.4 -2-3.4 -2-.6 -2 0 -2 .2 -2 2.9 -2-.3 -2 3 -2-.5 -2 3.1 -2 1.1 -2 1.5 -2 .1 -2 .3 -2 .8 -2 2.6 -2 .2 -2 1.7 -2 1.2 -2 .9 -2-.9 -2 3.1 -2 .2 -2 1.7 -2 1.1 -2 3 -2-2.7 -2 3 -2 2.4 -2 1.9 -2 4.5 -2-.9 -2 1.7 -2 .4 -2 .5 -2 2.6 -2 1.4 -2-2.1 -2 .8 -2-.7 -2-.2 -2-.8 -2 2 -2 .8 -2 4.6 -2 4.3 -2 6.6 -2 3.6 -2-.3 -2-.7 -2-.9 -2 2 -2 .9 -2-.9 -2 2.6 -2-1.2 -2-1.2 -2 .8 -2 1.3 -2 .5 -2 2.1 -2 .5 -2-.1 -2 2.2 -2 .2 -2-1.8 -2 2.9 -2 1.3 -2-1.3 -2 4.5 -2 .7 -2 1.6 -2 1.5 -2-.8 -2 1.4 -2-1.2 -2 3.8 -2 3.8 -2-.7 -2 3.8 -2 .7 -2 .1 -2 1.4 -2 4.4 -2 .6 -2 2.1 -2-.5 -2 2.7 -2 .5 -2 1.2 -2-.8 -2 2.9 -2 .2 -2 2.3 -2-1.4 -2-1.9 -2-2.2 -2-.3 -2 0 -2 1.3 -2 1.2 -2-1 -2-.5 -2 .8 -2 1.8 -2 3.7 -2-.9 -2 3.7 -2 1.6 -2 1.9 -2-.8 -2 .7 -2 .9 -2-1.6 -2-.6 -2 1.9 -2-.7 -2 .5 -2-.2 -2 1.1 -2-1 -2 .5 -2 1.7 -2 3.2 -2 3.4 -2 5.7 -2 2.4 -2 3.6 -2 2.2 -2 2 -2-.5 -2-.6 -2 1.2 -2 .7 -2-2 -2 .2 -2 .3 -2-.3 -2 0 -2 3.2 -2 3.4 -2 3.4 -2 .4 -2 1.6 -2 2.8 -2 0 -2-1.1 -2 4.7 -2 .6 -2 .5 -2 3.6 -2 2.8 -2 1.9 -2-.9 -2 .3 -2 3.5 -2-2.5 -2 2.5 -2 1.8 -2 1.4 -2 4.6 -2 4 -2 .7 -2-1.1 -2 1.9 -2 2.2 -2 .6 -2-.4 -2 .9 -2 2 -2 .5 -2 .8 -2 1.4 -2 .4 -2 4.6 -2 1.1 -2 2.4 -2 1.2 -2 1.5 -2-.6 -2 3.3 -2-.9 -2-.8 -2 2.4 -2 3.4 -2 2.7 -2 3.5 -2 5.8 -2 2.9 -2 .4 -2-.5 -2 .1 -2 1.2 -2-.5 -2 2.2 -2-2.9 -2-1.9 -2-.6 -2-.7 -2-.8 -2 .6 -2 1.1 -2-1.5 -2 2.5 -2-1.4 -2-.4 -2 1.3 -2 1.6 -2 3.2 -2-.4 -2 .3 -2-.1 -2-.3 -2-.2 -2 1.7 -2 .1 -2 .6 -2 1.5 -2 1.4 -2-.3 -2 3.7 -2-2.4 -2 .2 -2-1.2 -2-1.2 -2-.6 -2 .8 -2 3.6 -2 .2 -2 2.5 -2-.3 -2 1.7 -2 1.1 -2 1.9 -2 3.5 -2 1.7 -2-.1 -2 2.3 -2 5 -2 1.5 -2 2.2 -2 1.3 -2-1.2 -2 2.9 -2 2.4 -2-1.3 -2 1.1 -2-.4 -2-1.9 -2 5.4 -2 3.1 -2 5 -2 1.5 -2 3.3 -2 1.6 -2 2.8 -2 1.4 -2 .7 -2 .3 -2 3.8 -2-.4 -2-2.6 -2-.2 -2 2.6 -2 1.7 -2 2.6 -2-.4 -2 3.8 -2 6.1 -2 1.5 -2 2 -2 1.8 -2-1.3 -2 4.5 -2 1.2 -2 1.2 -2-.3 -2 2 -2 .2 -2-1.3 -2 1.6 -2 2.9 -2 1.3 -2 .3 -2 1.9 -2 1 -2 2.4 -2 1.1 -2-.1 -2 2.2 -2-.6 -2 1.4 -2 1.9 -2-.4 -2 2.1 -2 2.9 -2-.7 -2 1.2 -2 2.2 -2 .3 -2 .8 -2-.3 -2 0 -2 2.5 -2 1.3 -2 2.8 -2 .9 -2 .5 -2-1 -2 2.5 -2-1.4 -2-.5 -2 .7 -2 1.5 -2 .8 -2 2.3 -2 .7 -2-.6 -2 1.3 -2 .4 -2 0 -2-.8 -2 2.8 -2 2.8 -2 1.8 -2-.1 -2 1.9 -2 1.2 -2 1.1 -2 2.2 -2 0 -2 1 -2 3.8 -2 .4 -2 1.8 -2 2.4 -2 2.5 -2 .1 -2 .2 -2 1.9 -2 2.2 -2 .4 -2 .4 -2 2 -2 1.4 -2 1.1 -2 4.1 -2 2.9 -2 .5 -2 2.6 -2 .8 -2 2.8 -2 .6 -2 4.3 -2 .6 -2 2.3 -2 2.4 -2 2.7 -2 .2 -2 2.1 -2-.4 -2 3.6 -2 2.9 -2 1.5 -2-.2 -2 .9 -2-2.2 -2 2.8 -2 2.7 -2 1.9 -2 2.4 -2 .1 -2 1.9 -2-1 -2-.3 -2-1.8 -2 1 -2 1 -2 1.7 -2 .8 -2 1.9 -2 .2 -2 2.9 -2 3.2 -2 4.1 -2 .4 -2 .9 -2 5.1 -2 2.6 -2 1.3 -2 .7 -2 5.6 -2 .5 -2 .6 -2-.2 -2 .3 -2 1.6 -2-.2 -2-.6 -2-1.7 -2-1.3 -2 1.7 -2-1.2 -2 .4 -2-1 -2 0 -2-.2 -2 2.9 -2 3.3 -2 2.5 -2-.6 -2 1.8 -2 2.6 -2 2.2 -2 .8 -2 .7 -2 1.4 -2 1 -2-1.6 -2-.7 -2 .9 -2-.4 -2 1.1 -2 3.7 -2 1.2 -2 1.3 -2 .1 -2-1.3 -2 .9 -2 .5 -2 1.7 -2 1.5 -2 1.2 -2-.2 -2 1.1 -2 1.7 -2-.5 -2 4.1 -2-1.4 -2 .2 -2-.5 -2 0 -2 1.7 -2 .4 -2 .8 -2 .8 -2 0 -2 0 -2 3.6 -2 .5 -2 1.4 -2 1.9 -2-1.1 -2 1.6 -2-.8 -2 2.1 -2 2.6 -2 .2 -2 1.5 -2 .2 -2 2.6 -2 .7 -2 .8 -2 .1 -2 2.1 -2 2.4 -2 4.5 -2 1.7 -2 1.7 -2 4.8 -2 1.5 -2 .2 -2 .4 -2 2.4 -2 2.6 -2 4.6 -2 2.9 -2 2.4 -2 2.1 -2-.3 -2 2 -2 1.4 -2 1.8 -2-1.1 -2-.1 -2 0 -2 .8 -2 .5 -2 .7 -2 2.5 -2-1.1 -2 6 -2 2.4 -2 4.8 -2 5 -2 0 -2 2.8 -2 2.1 -2 .7 -2 6.8 -2 3.3 -2 2.5 -2 5.6 -2 2 -2 2.3 -2 1.6 -2-.6 -2 1.6 -2-.7 -2 2.2 -2-.2 -2 4.4 -2 1.1 -2 1.4 -2 1.2 -2 1.9 -2-.1 -2 1.2 -2-4.2 -2 1.4 -2 0 -2 1.7 -2 1.3 -2 3.2 -2 .4 -2-.9 -2 2.5 -2-.7 -2-.3 -2 4.2 -2 2.2 -2 1.6 -2 1.5 -2 3.1 -2 3.1 -2 .4 -2 2.6 -2 2.5 -2 0 -2 1.6 -2 .9 -2 2.8 -2 .9 -2 .7 -2 1.5 -2 .6 -2 .3 -2 .3 -2 1.4 -2 3.1 -2 1 -2 .8 -2-.9 -2 2 -2 .9 -2-.4 -2 1.4 -2 2.6 -2 2.1 -2 2 -2 0 -2 .7 -2-1 -2 3.8 -2 .4 -2 .6 -2 .3 -2 .1 -2 2.6 -2 1.8 -2-.5 -2-.9 -2 .8 -2 .8 -2 .1 -2 2.8 -2 2.3 -2-.4 -2 .9 -2 1.8 -2-.3 -2 1.4 -2 .5 -2 .8 -2 .6 -2 1.5 -2 .6 -2-2.1 -2 .7 -2 1.9 -2-.3 -2 2.3 -2 .1 -2 1.9 -2 .1 -2 1.7 -2-1.5 -2-1.3 -2-.7 -2 0 -2 1.1 -2 .8 -2 .9 -2-2.4 -2 .8 -2-.4 -2 2.1 -2 1 -2 2.5 -2 1 -2 1.1 -2-.7 -2-1.7 -2 1.1 -2-1 -2 1.1 -2-.1 -2 .8 -2-1.9 -2 .4 -2-2.8 -2 .9 -2 1.3 -2-.2 -2-.6 -2-.6 -2 .6 -2-1.7 -2 1.4 -2 .9 -2-1.2 -2 2.1 -2 1.8 -2-.8 -2-1.7 -2-.8 -2 .9 -2-.2 -2 1.2 -2 .1 -2 1.6 -2 .2 -2 1.7 -2-.3 -2-1.1 -2 .8 -2-.3 -2-1.4 -2-1.5 -2-1.1 -2 1.1 -2-.7 -2 .6 -2-1.7 -2 2.8 -2 1.3 -2-2.9 -2-1.2z" fill="#ff0000" stroke="none"/>
<path d="M330 1504.8l4 2.1 4-2.8 4 .6 4 0 4 1.7 4 2 4 .1 4-1.8 4-1.1 4-.2 4-1.2 4 1.6 4-.5 4-1.1 4-1.7 4-.3 4 2.5 4-1.2 4 1.6 4 1.2 4-.6 4-.3 4 .4 4-.1 4-2.6 4-3.3 4-.4 4 1.3 4-1.2 4 .8 4 1.4 4-1.9 4-2.1 4-1.4 4-1.5 4 .7 4-2.3 4-1.8 4 .2 4-3.1 4-3.2 4-2.1 4-1.5 4 .9 4-3.2 4-1.4 4-1.6 4-2.1 4-1.7 4-3.7 4-3.9 4 .3 4-1.7 4-2.4 4-4.1 4-.7 4-.7 4-3.5 4-2.8 4-2.6 4-4 4-3.5 4-4.9 4-4.3 4-2.4 4-2 4-1 4-4.3 4-1.5 4 2.9 4-1.2 4-3.1 4-2.9 4-4 4 0 4-1.5 4-6.5 4-6.6 4-6.7 4-6.2 4-5.1 4-5.4 4-7.6 4-3.6 4-1.6 4-1.8 4 .2 4-.8 4-3.3 4-3.5 4-6.3 4-5.4 4-2.4 4-3.1 4-6.6 4-5.1 4-4.9 4 .7 4-3.5 4-1.7 4-3.3 4-1.3 4-1.4 4-2.6 4-2.9 4-.4 4-2.1 4-1.7 4 0 4 .5 4-3 4-2 4-1.4 4-3 4-1 4 .5 4-3.8 4-3.1 4-.1 4 1 4-1.6 4-2.9 4-3.9 4-1.6 4-5.6 4-1.3 4-.4 4 .4 4 .9 4 1.4 4-.3 4-1.4 4-1.6 4-6.5 4-3.4 4-7.5 4-2.7 4-7.1 4 .3 4-4.4 4-1.3 4 2.7 4-1.3 4-3.1 4-4.3 4-1.1 4-1.1 4-4.4 4-2.7 4-2.8 4-3.7 4-4.3 4-5 4-2.1 4-3.8 4-6.6 4-1.7 4-3 4-2.1 4-2.5 4-2.7 4-4.4 4-4.3 4-.9 4-3.2 4-3 4-2.7 4-3.9 4-.8 4-.5 4-.9 4-2.3 4-1.8 4 .7 4-1.9 4-1.3 4-3.1 4-3.5 4-.2 4-2 4-1.7 4-4.3 4-1.6 4 .5 4-3.8 4-2.2 4-3.3 4-1.2 4-4.1 4-.4 4-1.8 4-2.7 4-3.4 4-3.9 4-7.1 4-3.7 4-3.6 4-1.4 4 1.8 4-3.6 4-2.5 4-5.8 4-4.9 4-7.7 4-2.4 4 .3 4-1.2 4-3.4 4-3.3 4-5.8 4-2.5 4-5 4-3.4 4-1.1 4-2.6 4-2.7 4 .5 4 1.5 4-.6 4-1.7 4-2.2 4-1.5 4-.5 4-.5 4-2 4-2.3 4 .6 4-.9 4-1.9 4 1.4 4 2.8 4 2.3 4-1.6 4 .8 4-6.6 4-8.6 4-4.7 4-.6 4-3 4-1.8 4-2.5 4-5.6 4-2.4 4-1.4 4-2 4-1.6 4-2.8 4-.7 4-8.8 4-1.5 4-1.1 4-3 4-2.8 4-4.6 4-2.5 4-2.8 4-2 4-4.3 4-5.4 4-1.8 4-.9 4 1.4 4-1.1 4 .9 4-5.8 4-7.5 4-7.6 4-4 4 1.3 4-1.9 4 .1 4 .2 4 .8 4-1.1 4-3.5 4-3.8 4-3.8 4-.3 4-.4 4-1.9 4 2.7 4 3 4-2.9 4-2 4-.1 4-3.7 4-3.1 4-4.7 4-.7 4-5.3 4-4.9 4-.2 4-1.7 4-3.3 4-2.8 4-2.1 4-.1 4-2.4 4-2.7 4-.2 4-.6 4-1.2 4-.1 4-.7 4-1.3 4-10.3 4-8.2 4-.8 4 .8 4 .8 4-.5 4-2.7 4-2.8 4-3.4 4-4.7 4-.2 4-3.3 4-3.1 4-.8 4-2.1 4-3.3 4-2.2 4-1.5 4-2.9 4-2.2 4-2.6 4-3.2 4 1.5 4 2 4 1.8 4-.4 4-1.8 4-2.2 4-2.7 4-2.4 4 .8 4-1.3 4-3.4 4-1.4 4-5.9 4 1.3 4-.7 4-.9 4-4.8 4-.8 4-3.8 4-2.7 4-1.2 4-2.9 4-1.4 4-3 4-2 4-1.1 4-3.7 4-1.2 4-4.1 4 .9 4-.1 4-8.9 4-8.1 4-4.3 4 .8 4-4.1 4-1.6 4-.8 4 1.1 4-.7 4-.6 4-.6 4 1 4-1.9 4-.5 4 .1 4-1.2 4-.8 4-2.8 4-5.3 4-4.1 4 1.1 4-1.8 4-3 4-3.4 4 2.1 4-1.9 4 2.9 4 .7 4 .7 4 2.3 4-2.4 4-1.4 4-4.7 4-1 4-3.8 4 .5 4 1.8 4 3.5 4-.3 4-5.2 4-3 4-5.1 4-4.4 4 1.1 4 2.1 4 .3 4 2.4 4 4.1 4-.6 4-4.9 4-3.9 4-1.3 4-3.9 4-5.8 4-2 4-2.5 4 2.1 4-.9 4 1.9 4 2.5 4 0 4 1.5 4 1.3 4-1.2 4 1 4-1.4 4-1.1 4-3.3 4-4.3 4-2.3 4-.8 4-2.3 4 .7 4 1.9 4 2.3 4 1.8 4 3.2 4 2.9 4 .2 4 1.9 4 3.6 4 1.7 4 .7 4 0 4 .5 4 .7 4-2.6 4 2.3 4 1 4 0 4 3.3 2.6-.9" stroke="#ff0000"/>
<g stroke="none"><circle cx="330" cy="1502" r="15.6" fill="#ff0000"/><circle cx="541.3" cy="1465.3" r="15.6" fill="#ff0000"/><circle cx="752.7" cy="1306.8" r="15.6" fill="#ff0000"/><circle cx="964" cy="1183.9" r="15.6" fill="#ff0000"/><circle cx="1175.3" cy="1041.4" r="15.6" fill="#ff0000"/><circle cx="1386.7" cy="937.7" r="15.6" fill="#ff0000"/><circle cx="1598" cy="823" r="15.6" fill="#ff0000"/><circle cx="1809.3" cy="725.4" r="15.6" fill="#ff0000"/><circle cx="2020.7" cy="674.5" r="15.6" fill="#ff0000"/></g></g>
<g><path d="M330 1499.3l2 1.3 2-.7 2-1 2-3.1 2-1.7 2-1.4 2-1.9 2-.7 2-.2 2-1.9 2-1.6 2-.6 2-1.1 2-2.9 2 .2 2 .5 2-.6 2-2.3 2-3.7 2-2.3 2-.5 2-.7 2 .6 2-2 2 .3 2-3.1 2-2.9 2-3.2 2-.6 2-5.9 2-4.2 2-5.5 2-3.7 2-6.1 2-3 2-4.2 2-8.6 2-6.2 2-4.5 2-9.5 2-7.2 2-7.8 2-8.8 2-8.2 2-11.1 2-9.4 2-10 2-11 2-9 2-10.5 2-6.8 2-10.3 2-10.2 2-9.9 2-8.6 2-14.3 2-13.4 2-10.6 2-13.5 2-10.2 2-9.5 2-12.8 2-7.3 2-6.9 2-10.4 2-7.1 2-8.1 2-7.4 2-8.3 2-7.6 2-7.1 2-7.5 2-6.5 2-5.7 2-2.4 2-5.2 2-.8 2-4.4 2-.7 2-2.3 2-2.9 2-2.4 2-1.7 2-2.1 2-1.1 2-3.9 2 0 2 .5 2-1.4 2 .5 2 1.9 2-1.4 2 2.3 2 1 2 1.1 2 1 2-1.3 2-1.6 2 3.7 2 .1 2 1.8 2 1.4 2 1.4 2 3.2 2 .4 2 1.6 2 .4 2 4 2 1.5 2 3.4 2 1.1 2 2.7 2 5.1 2 1.4 2 .1 2 2.3 2-.7 2 1.1 2 1.5 2 5.4 2 2.5 2 2.8 2 .5 2 2.1 2 2.2 2 4.4 2 5.5 2 4.6 2 5.2 2 0 2 2.1 2 5 2 1.8 2 1.1 2 4 2 2.2 2 3 2 2.4 2 1.9 2 5 2 2.2 2 3 2 3.9 2 2.7 2 3.8 2 1.5 2-1.5 2-2.2 2-1.6 2-1.2 2-.5 2-4.2 2-3.3 2-4.8 2-4 2-5 2-1.4 2-3.9 2-7 2-3.5 2-6.6 2-4.2 2-6.1 2-3.5 2-3.9 2-7.4 2-6.7 2-5.5 2-4.9 2-3.7 2-2.4 2-6.4 2-3.5 2-5 2-3.5 2-6.5 2-6.2 2-5.6 2-7.2 2-9.4 2-5.4 2-6.2 2-6.7 2-6.6 2-7.7 2-6.9 2-7.4 2-7 2-9.2 2-10 2-10.6 2-15.9 2-11.4 2-12 2-12.4 2-10.1 2-6.5 2-4.9 2-5.8 2-6.9 2-8.3 2-7.4 2-5.4 2-4 2-3.7 2-3.9 2-5.7 2-5.5 2-2.5 2-4.9 2-6.5 2-4.4 2 0 2 1.8 2-1.8 2-.2 2 1 2 1.6 2-2.5 2-1.9 2-2.8 2-2.1 2-4.5 2-.5 2-.5 2-1.8 2 3 2-.3 2 1.4 2 2.7 2-1 2 6.4 2 .6 2 1.2 2 4.4 2 1.8 2 4.3 2 3.2 2 1.6 2 1.7 2 4.4 2 2.7 2 3.2 2 2.1 2 1.6 2 3.9 2 1.5 2-.8 2 2.3 2-1.2 2 3.8 2 1.9 2 1.2 2 .7 2 .7 2 0 2 2.9 2 .1 2-.7 2 1.7 2 .4 2-.1 2-4.9 2-2.1 2-1.2 2-2 2-.1 2-.1 2-1.4 2-1.8 2-1.2 2-1.5 2-.8 2-.9 2-.1 2-1.3 2-2.4 2-3.1 2-2.4 2 1 2-3.4 2-.6 2-3.9 2-4.9 2-5.1 2-2 2-2.2 2-1.9 2-1.9 2-3.1 2-4.2 2-4.5 2-3.1 2-5.6 2-5 2-1.8 2-4.9 2-5.8 2-5.1 2-5.1 2-3.5 2-3.7 2-5.4 2-4.7 2-3.3 2-3.9 2-2.1 2-4.2 2-3.1 2-6.1 2-.5 2-4.9 2-4.9 2-.9 2-3.5 2-3.4 2-4.5 2-4.3 2-10.1 2-6 2-7.3 2-2.5 2 .1 2 .1 2-.6 2-2.8 2-.9 2-4.5 2-2.9 2-9.3 2-6.7 2-6.6 2-1.6 2-.7 2-4.4 2-.8 2-3.8 2 .8 2-3 2 .4 2-1.2 2 .3 2-2.4 2-.3 2 .2 2 .1 2-.6 2-1.7 2 .3 2 1.1 2 .2 2 .6 2 .9 2 1.9 2 .5 2 .8 2 2.3 2-1.2 2 1.4 2-1.1 2 0 2-.9 2-2.5 2-.3 2-.2 2-.2 2-.8 2-1.9 2-3.3 2-4.3 2 1.2 2-3.8 2 .3 2-1.6 2 1.9 2 5.5 2 .9 2 3.7 2-1.5 2-1.2 2-2.3 2-.3 2-.8 2-2.4 2 1.9 2-.8 2 1.3 2-.4 2 2.6 2 1.2 2-2.1 2 5 2 0 2-.4 2 1.3 2-1.2 2-2.1 2-1.2 2-2.9 2-1.5 2-1.4 2-2.5 2-7.3 2-6.4 2-.3 2 3.1 2 2.9 2-.5 2-.5 2-5.6 2-2.2 2-7.9 2-2.8 2-.3 2-1.6 2-2.4 2-2.9 2-1.8 2 .2 2-1.6 2-3.9 2-.4 2-.1 2-3.2 2-6.4 2-3.2 2-5.1 2-3.2 2-2.2 2-2.2 2-4 2-1 2-.3 2-3.3 2-3 2-4.2 2-3.5 2-2.6 2-3.6 2-1.4 2-3.7 2-5.8 2-2.1 2-.2 2-2.3 2-.1 2 0 2-3.5 2-5.5 2-1.3 2-4.3 2-.8 2-3.7 2-1.6 2 .1 2 2.2 2 .7 2-1.1 2-.6 2-1.3 2-1.8 2-1.3 2-3.1 2-1.2 2-2.1 2-1.4 2-1.7 2 1.1 2-1.5 2-2.9 2-.6 2 2.8 2 .4 2-1.9 2-3.6 2 4 2-1.2 2-2.5 2 0 2-.1 2 2.3 2 3 2 5.2 2 .2 2-1.3 2-4.3 2-2.3 2-3.9 2 1.5 2-2.9 2-2.8 2-.6 2-3.1 2 2.1 2 1.6 2 0 2 .6 2-1.8 2 5.3 2 2.4 2 1.8 2 1.1 2 .7 2-4.7 2-4.5 2-1.6 2-3 2 .1 2-1.8 2-.2 2-.1 2 .7 2-.7 2-3.3 2 .4 2 1.9 2 5.1 2 1 2 .8 2-.1 2-2 2-2.5 2-1.7 2-.8 2-1.9 2-.1 2-2.4 2-2.9 2 1.5 2-1.3 2-2.3 2 1 2-2 2-.8 2-.4 2-.9 2-2 2-2.4 2-1.8 2-5.3 2-2.3 2-6.7 2-3.5 2-1 2 .8 2-1.5 2-4.2 2 2.3 2-1.6 2-1.5 2-.9 2 .8 2-1.8 2 1.5 2-1.4 2-4.5 2 1.1 2-2.4 2-1.2 2-2.6 2-.4 2-4 2-2.2 2-5.6 2-.6 2-3.8 2 1.1 2 .1 2-1.5 2-2.3 2-3.2 2 .8 2-5.6 2-1.6 2-4.6 2-3.1 2-3.1 2-1.4 2-2.2 2-1.8 2-3.5 2 4 2-.2 2 4.9 2 .3 2-6.2 2-5 2-1.6 2-2.3 2-3.9 2-.9 2-.2 2 3 2 .3 2 2.4 2 1.2 2 .6 2-2.6 2-2.2 2-1.1 2-.5 2 .5 2-.3 2 2.7 2 1.4 2 2.4 2-.7 2 4 2-2.9 2-1.8 2-1.7 2-2.2 2 1.4 2-.1 2-1.2 2 .5 2 .1 2-.6 2-.1 2-2.3 2-.1 2 4.4 2 1.2 2 1.8 2 1 2-1 2 .2 2-1.3 2 .1 2 .2 2 1 2 .8 2 0 2-1.8 2-.8 2-1.1 2 .2 2 .1 2 1.3 2-3.9 2 2 2 .1 2-3.8 2 .7 2 1.8 2-3.1 2-.5 2-2.9 2-6.4 2-5.1 2-3.9 2 1.1 2 1.3 2 2.9 2 1.7 2 4.8 2 3.6 2 .3 2-1.2 2-1.4 2 .5 2-.5 2 .4 2-2.7 2-.5 2-.6 2 1.2 2-4 2-2.6 2-.2 2-.9 2 .8 2-.1 2 1 2-1.1 2-2.3 2-.7 2-5.5 2 4.4 2-1.3 2 2.7 2 3.8 2-.7 2-2.4 2-4.3 2-.1 2-1.6 2-1.5 2-2.1 2-.3 2-1.2 2-2 2-1.8 2-.5 2-1.1 2-.8 2-2.8 2-.1 2-1.6 2-.8 2-4.3 2 1.7 2-1.6 2-.7 2 1.6 2 .7 2 .7 2 1.8 2 2.8 2 4.5 2 2 2-3.7 2-4.4 2-5.5 2-2.4 2-3.3 2-1.6 2 2.1 2 .8 2 2.1 2 .5 2 .4 2 2.2 2 2.5 2-2.7 2 1.7 2 1.2 2 .4 2-.7 2-.1 2-1.8 2-2.5 2 .6 2-2.4 2-1.3 2-.8 2 2.4 2 1.1 2-3.3 2-.2 2 1.8 2-1 2 2.5 2 .9 2-.5 2 3.6 2 2.6 2 2.6 2 .4 2-1.8 2-2.7 2-.7 2-1.8 2-.7 2-1.9 2 .3 2-.4 2 4 2 5 2 3.9 2 3.2 2 2.3 2 1.1 2 1.4 2 .7 2 .5 2 2.3 2 1.1 2 0 2 .9 2 3.9 2 5.2 2 .6 2 1.8 2 .3 2 4.1 2 3.8 2 2.3 2-.1 2 2.5 2-.4 2 3.9 2 4.7 2 4 2 8.4 2 1.5 2 1.7 2 .7 2 1.4 2 .3 2 3.5 2 8.8 2 6.9 2 7.2 2 8.7 2 7.9 2 1.8 2 1.7 2 3.2 2 7.4 2 7.1 2 10.3 2 8 2 3.7 2 4.1 2 6.1 2 5.4 2 10.4 2 7.4 2 5.5 2 5.2 2 6.6 2 8.9 2 10.6 2 9 2 6.4 2 4.9 2 4.5 2 5.5 2 3.8 2 2.8 2 4.4 2 6.2 2 4.3 2 5.3 2 2.3 2 3.3 2 3.9 2 2.3 2 4.1 2 4 2 4 2 2.7 2 1.9 2 3.6 2 1.9 2 4.4 2 1.2 2 0 2 2 2 1.6 2 .9 2 0 2 .6 2.9 .3 0 11.9 -2.9-1.7 -2-1.4 -2 .3 -2-.5 -2 .1 -2-2.1 -2-1.1 -2-1.3 -2-.3 -2-2.2 -2-4 -2-2.2 -2-2.3 -2-3.2 -2-4.1 -2-4.3 -2-2.4 -2-3.2 -2-1.6 -2-3.7 -2-5.5 -2-4.1 -2-6 -2-4.2 -2-4.5 -2-3.5 -2-4.6 -2-3.1 -2-6.7 -2-7.3 -2-9.6 -2-10.4 -2-8 -2-7.5 -2-4.2 -2-5.9 -2-8.2 -2-10.3 -2-4.8 -2-4.4 -2-5.4 -2-4.4 -2-7.8 -2-8.5 -2-8.3 -2-6 -2-4.4 -2-.5 -2-3.1 -2-7.6 -2-9.1 -2-8.2 -2-4.4 -2-10.1 -2-2.2 -2-4.6 -2-2 -2-.7 -2-.4 -2 .8 -2-8.2 -2-3.5 -2-4 -2-6.1 -2-1.7 -2-1.4 -2-1.3 -2-3 -2-1.9 -2-4.1 -2-2.2 -2 .3 -2-2.4 -2-2.9 -2-3.9 -2-2.3 -2-1.9 -2-.3 -2-2.2 -2-1.1 -2 .1 -2-1.2 -2-2.2 -2-1.1 -2-1.4 -2-2.3 -2-4.9 -2-6.8 -2-1.6 -2 1.8 -2 1.4 -2-.5 -2 1.5 -2 1.3 -2 1.9 -2 1.8 -2 1.5 -2-3 -2-2.2 -2-2.8 -2-.4 -2-1.9 -2-2.8 -2 1.5 -2-2.9 -2 1.1 -2 3 -2-2.4 -2 .2 -2 .6 -2-.2 -2 2.2 -2 1.3 -2 .2 -2 1.5 -2 1.4 -2 .1 -2 .4 -2-2.1 -2 .1 -2 .9 -2-.3 -2-4.6 -2 1.8 -2-1.3 -2-2.7 -2-1.2 -2-.3 -2 4.3 -2 3.1 -2 5 -2 4.1 -2 .3 -2 2.8 -2-1.6 -2-1.7 -2-3 -2-2.6 -2-3.6 -2-.3 -2-2.2 -2 1.9 -2 .3 -2 0 -2 4.1 -2-.2 -2 3 -2-1.3 -2 4.2 -2 0 -2 1.2 -2-.7 -2 3.5 -2 1.6 -2 1.7 -2 .3 -2 0 -2 3.7 -2 1.2 -2 2.6 -2 2.3 -2 2 -2-.4 -2-4.6 -2-1 -2-.7 -2-.9 -2 4 -2 2.6 -2 1.2 -2-.1 -2-.9 -2-.5 -2-1.2 -2 2.2 -2 2.6 -2 1.7 -2 3.1 -2-1.8 -2 .7 -2 .7 -2 2.8 -2-1.8 -2 .5 -2-1.6 -2 2.2 -2 2.4 -2-1.2 -2-1.1 -2-2.1 -2-4.6 -2-3.8 -2-2 -2 .9 -2 7.9 -2 3.1 -2 6 -2 1.4 -2-.6 -2 .5 -2 1.1 -2-1.7 -2 3.3 -2 .3 -2-.9 -2 .9 -2 0 -2-.9 -2 0 -2 1.6 -2 1.3 -2 1.8 -2-.3 -2-1.1 -2 .2 -2-1.8 -2-.5 -2 2.9 -2 0 -2-.8 -2 .2 -2-1.7 -2-1.8 -2-2.5 -2-1.5 -2 2.8 -2 1.5 -2-.7 -2-.8 -2 .7 -2 .2 -2 1.6 -2-2.2 -2 3.2 -2 1.7 -2 .9 -2 1.6 -2-2.2 -2-.2 -2-2.7 -2-1.1 -2-1.7 -2-.2 -2-2.2 -2 3.2 -2 .9 -2 .5 -2 1.5 -2-.2 -2-1.3 -2-.4 -2-.9 -2-3.9 -2-1 -2 4.8 -2 4.1 -2 3.9 -2 2.6 -2 2.5 -2 4.9 -2-.7 -2-4.7 -2-1.2 -2-3.3 -2 3.3 -2 4.3 -2 2.2 -2 3.2 -2 2.1 -2 4.4 -2 2.5 -2 1.2 -2 5.6 -2-.2 -2 1.3 -2 3.3 -2-.3 -2 .1 -2-1 -2 5.2 -2 4.3 -2 2.5 -2 2.9 -2 1.3 -2 .1 -2 3.8 -2 .6 -2 3.1 -2-2.5 -2 4.6 -2 1.2 -2-.8 -2 .1 -2 2 -2 .3 -2 1.2 -2-.5 -2-.2 -2 3.2 -2 2.1 -2 1.2 -2 3.8 -2 3.7 -2 5.5 -2 2.9 -2 3.2 -2 .5 -2 .3 -2 2.1 -2 1.6 -2 0 -2 .9 -2 2.2 -2-.5 -2 .2 -2 3.1 -2-.2 -2 0 -2 5 -2 0 -2 1.2 -2 1.4 -2 1.3 -2 2.2 -2 .2 -2 2.5 -2-.7 -2-1.3 -2-3.6 -2-3.3 -2-.4 -2 .9 -2 3.2 -2-.9 -2-.7 -2 .1 -2 3.7 -2 .4 -2 1.5 -2 4.7 -2 4.2 -2 1.2 -2-.2 -2-1.7 -2 1 -2-3.5 -2-5.4 -2 .6 -2-2 -2-.4 -2 1.1 -2-2.5 -2 1.6 -2 2.9 -2 2.2 -2 3.8 -2-1.9 -2 2.7 -2 4.9 -2 1.7 -2 .7 -2-1.1 -2-.3 -2-3.9 -2-3.3 -2-1.2 -2-1.5 -2 3.7 -2 0 -2-1.8 -2 2.3 -2 1.3 -2-.6 -2-1.8 -2 .6 -2 2.6 -2 1.7 -2-.4 -2 1.4 -2 2 -2 2.4 -2 2.1 -2 2.6 -2 1.4 -2 .3 -2 1.4 -2 0 -2 .8 -2-.7 -2-1.7 -2-.1 -2 2.7 -2 5.9 -2 1.5 -2 2.5 -2 3.6 -2 3.7 -2 1.4 -2 .3 -2-.9 -2 2.4 -2 3.2 -2 2.5 -2 7.1 -2 3.9 -2 .8 -2 2.5 -2 3.5 -2 4.4 -2 2 -2 2.2 -2 3.2 -2 1 -2-.3 -2 5.6 -2 3.8 -2 3.5 -2 3.3 -2 4.4 -2 3.9 -2 2.8 -2 2.5 -2 .8 -2-1.7 -2 4.1 -2 1.3 -2-.1 -2 2.8 -2 2.7 -2 2.6 -2 2.2 -2 2.9 -2 4 -2 6.3 -2 3.5 -2 0 -2 1.6 -2-1.3 -2-1.4 -2-2.9 -2 2.9 -2 8.1 -2 6 -2 1.3 -2 .8 -2 .6 -2 2.5 -2 1.6 -2 1.5 -2 0 -2 .1 -2 .9 -2-1.1 -2-4.3 -2 1.4 -2-1.7 -2-.8 -2-2 -2-.3 -2-.1 -2-1.1 -2 4.3 -2-.7 -2-1.2 -2 4.3 -2 1.5 -2 .7 -2-1.9 -2-.8 -2-4.5 -2-4 -2-.9 -2 1.4 -2 4.8 -2 0 -2 4.1 -2 2 -2 1.6 -2 0 -2 .3 -2-1 -2 2.7 -2 .2 -2 1.8 -2 .1 -2 1.6 -2-1.7 -2 1.4 -2-.7 -2-1.2 -2-2.6 -2-1.9 -2 .4 -2 0 -2-1.1 -2-1.9 -2-1.1 -2 3.7 -2-1.3 -2 1.3 -2-1.4 -2 1.5 -2 2.4 -2 .7 -2-1.1 -2 1.3 -2 3.5 -2 .3 -2 2.5 -2 3.9 -2 2 -2 3.4 -2 1.4 -2 6.8 -2 6.2 -2 9.5 -2 4.4 -2-.3 -2 .6 -2 1.7 -2 1.7 -2 .3 -2 1.4 -2 6 -2 5 -2 5.2 -2 10.6 -2 5.7 -2 4.1 -2 3.5 -2 1.9 -2 2.5 -2 3.1 -2 5.4 -2 2.5 -2 5.5 -2 3.7 -2 3.4 -2 2.8 -2 5.8 -2-.3 -2 7.5 -2 2.4 -2 5.3 -2 3.3 -2 4.9 -2 5.3 -2 6.4 -2 4.1 -2 2.8 -2 4.3 -2 4.3 -2 4.2 -2 4.9 -2 4.2 -2 .3 -2 .7 -2 3.4 -2 3.5 -2 4.8 -2 3.4 -2 2.9 -2 3.2 -2 .1 -2 3.3 -2-1.3 -2 1.9 -2 2.9 -2 1.7 -2 1.5 -2 .3 -2 1.8 -2 1.8 -2-1.2 -2 2.3 -2 .7 -2 1.9 -2 .2 -2 .3 -2 1.4 -2 4 -2 1.9 -2 2.9 -2 0 -2-.4 -2-1.3 -2 1.6 -2-2.6 -2-1.5 -2 1.7 -2-2.1 -2-1.2 -2 .4 -2-4.2 -2-.9 -2-1 -2-2.1 -2 .1 -2-.8 -2-3.4 -2 .1 -2-1.9 -2-1.2 -2-5 -2-3.1 -2-1.6 -2-3.8 -2-2.2 -2-1.5 -2-4.1 -2-4.7 -2-.1 -2-2.4 -2-5.4 -2-.7 -2-2.9 -2 .1 -2-2.8 -2-2.4 -2 1.6 -2 2.6 -2 .2 -2 5.4 -2 2.6 -2 1.2 -2 1 -2 2 -2-1.9 -2 .7 -2-1.6 -2 2.4 -2-2.4 -2 3.3 -2 5.6 -2 7.6 -2 4.8 -2 1.5 -2 6.3 -2 5.3 -2 3.2 -2 4 -2 5.7 -2 3.8 -2 7.7 -2 7.9 -2 6.5 -2 6 -2 6.4 -2 6 -2 9.7 -2 12.8 -2 11.8 -2 11.4 -2 15 -2 10.4 -2 9.9 -2 8.7 -2 8 -2 7.1 -2 8.8 -2 5 -2 8.1 -2 6 -2 5.5 -2 7.9 -2 8 -2 7.1 -2 6 -2 5.3 -2 6.3 -2 5.8 -2 4.9 -2 3.4 -2 5.4 -2 3.3 -2 3 -2 6.1 -2 4.7 -2 6.7 -2 5.7 -2 5.4 -2 4.5 -2 3.7 -2 5.3 -2 5.5 -2 3.9 -2 8.6 -2 3.2 -2 1.1 -2 4.8 -2 5.2 -2 4.6 -2 .6 -2 1.1 -2 1.9 -2 0 -2 3.4 -2 2 -2 .8 -2-2.5 -2-.3 -2-2.2 -2-3.7 -2-2.2 -2-4.6 -2-3.1 -2-2.8 -2-3.8 -2-.5 -2-5 -2-2.4 -2-1.2 -2-1.2 -2-5.4 -2-1.5 -2-2.8 -2-2.3 -2-1.9 -2-6.2 -2-4.4 -2-3.3 -2-5.1 -2-.1 -2-4.1 -2-.8 -2-3.6 -2-2.5 -2-4.7 -2-.2 -2-1.2 -2 1.1 -2-.7 -2-3.3 -2-3 -2-2.7 -2-2.7 -2-2.8 -2-3.5 -2 .6 -2-3.8 -2-1.1 -2-2 -2-.6 -2-2 -2-2.3 -2-1.4 -2-1.3 -2 .3 -2-.3 -2-1.3 -2 1 -2-1.8 -2-2.8 -2 1.7 -2-2 -2 .2 -2 .9 -2-.1 -2 1.2 -2 3.7 -2 2.9 -2 .2 -2 2.2 -2 3.2 -2 2.6 -2 1.5 -2 2.7 -2 4 -2 4.5 -2 2.6 -2 4.1 -2 6.3 -2 5.4 -2 6.6 -2 5.8 -2 8.6 -2 8.8 -2 6.7 -2 8.4 -2 7.4 -2 8.4 -2 9.8 -2 7.7 -2 11.1 -2 10.7 -2 9.3 -2 12.8 -2 10.4 -2 13.9 -2 13.8 -2 8.9 -2 9.5 -2 11.6 -2 7.7 -2 9.2 -2 10.6 -2 8.4 -2 11.4 -2 9.7 -2 8.8 -2 10.5 -2 11 -2 6.6 -2 7.8 -2 7.5 -2 9.1 -2 4.9 -2 6.9 -2 8.2 -2 3.8 -2 4.7 -2 4.9 -2 3.5 -2 6.2 -2 3.5 -2 4.5 -2 .8 -2 2.5 -2 .8 -2 3.6 -2 .6 -2 1.1 -2 0 -2-.8 -2 1.2 -2 4.3 -2 2.1 -2 1.5 -2 .1 -2 1.1 -2-.4 -2 2.7 -2 1.5 -2-1.1 -2 2.8 -2 1.2 -2 2 -2-1.7 -2 3 -2 3.4 -2-.1 -2 3.7 -2-.6 -2 1.6 -2-.9z" fill="#0000ff" stroke="none"/>
<path d="M330 1505.4l4-.6 4-2.7 4-4.4 4-1.4 4-3 4-1.4 4-3.7 4-.5 4-2.5 4-5.6 4-1.6 4-.7 4-3.6 4-4 4-7.2 4-9.2 4-9.5 4-7.4 4-14.2 4-14.1 4-16.3 4-17.1 4-19 4-21.7 4-18.7 4-16.9 4-21.9 4-22.1 4-25 4-22 4-22.2 4-15.9 4-17.1 4-15 4-16.5 4-13.3 4-11.8 4-7.4 4-6.5 4-4.2 4-4.9 4-3.7 4-5 4-1.3 4-.4 4 .9 4 2.5 4 2.1 4-1.6 4 3.5 4 3.3 4 3.7 4 3.7 4 3.5 4 5.1 4 4.8 4 5 4 1.6 4 2.6 4 5.9 4 5.4 4 4.4 4 7.2 4 9 4 5 4 6.9 4 3.2 4 6.6 4 4.1 4 7.1 4 4.9 4 7.5 4 3.9 4-2.9 4-3.8 4-3.5 4-7.4 4-8.2 4-6 4-11.2 4-10.4 4-9.2 4-11.2 4-11.6 4-9.2 4-8.1 4-8.6 4-11.8 4-11.5 4-15.4 4-12.5 4-14 4-13.1 4-15.2 4-20.1 4-25.2 4-22.8 4-22.8 4-11.9 4-12.9 4-15.9 4-9.7 4-6.6 4-10.8 4-8.1 4-10.6 4-.9 4-1.1 4 1.9 4-2.8 4-4.9 4-6 4-2.3 4 3.7 4 3.1 4 5.8 4 2.7 4 7.3 4 5.1 4 3.8 4 8.3 4 4.2 4 4 4 2.2 4 1.1 4 4.7 4 2.7 4-.4 4 4 4-.6 4 1.3 4-5.9 4-3.6 4-1 4-2.9 4-1.9 4-3.1 4-1.4 4-5.1 4-1.3 4-3.4 4-8 4-7.3 4-5.4 4-2.8 4-8.5 4-9.3 4-7 4-11.1 4-9.6 4-7.4 4-10.2 4-6.2 4-6.3 4-8.4 4-7.7 4-4.8 4-6.6 4-10.1 4-15.9 4-9.1 4-1.2 4-3.5 4-3.5 4-12 4-14.1 4-4 4-4.4 4-3.2 4-3.9 4-.7 4-3.1 4 .4 4-2 4 2 4 1.6 4 2 4 2 4 .9 4 .3 4-2 4-3.2 4 .1 4-1.9 4-6.2 4-3.8 4-.7 4 6.7 4 4.7 4-3.8 4-1.9 4-3 4 .4 4 2.2 4 2.5 4 2.9 4-.2 4 .4 4-2.9 4-3.6 4-4 4-13.9 4 1.6 4 2.5 4-3.4 4-10.5 4-4.8 4-3.7 4-4.9 4-1.3 4-4.2 4-3.4 4-7.9 4-7.8 4-6 4-5.7 4-3.4 4-6 4-6.5 4-5.1 4-9.5 4-3.7 4-2.4 4-2.5 4-6.9 4-4.9 4-6.3 4 2.5 4-1.2 4-2 4-1.6 4-4.9 4-3.6 4-1.7 4-2.9 4 .6 4-1.4 4 .1 4-3.8 4 2.5 4 5.7 4 3.6 4-4 4-6.8 4-1.9 4-4.7 4 .1 4 1.1 4-.6 4 7.8 4 2.9 4-3 4-7.5 4-2.5 4-2.6 4 1 4-4.3 4 3.6 4 5.4 4-.7 4-2.7 4-3 4-3 4-4 4-1.6 4-1.1 4-1.8 4-1.8 4-3.6 4-5.8 4-8.4 4-5.5 4-2.7 4-1.9 4-1.8 4-1.8 4 .1 4-5.2 4-.7 4-4.2 4-3.4 4-6.5 4-6.8 4 1.1 4-3.2 4-2.7 4-6.7 4-6.5 4-6.3 4-4.7 4 .5 4 4.9 4-3.8 4-6.6 4-6.9 4-2.6 4 4.6 4 2 4-1.8 4-2.4 4-1 4 2.9 4 3 4 3 4-2.5 4-4.3 4-.3 4 .2 4 .1 4-3.2 4 3.9 4 2.6 4 1 4-2 4 1.8 4 .2 4-1 4-2.3 4 1 4-2.2 4 .5 4-1.2 4-1.5 4-3.1 4-9.5 4-5.8 4 4.9 4 6.1 4 3.2 4-3.3 4 1.3 4-1.9 4-2.1 4-1.7 4-3.6 4-1.1 4 1.6 4-1.4 4-7 4 2.8 4 4.9 4-2.1 4-3.8 4-4.4 4-.7 4-4 4-2.5 4-1.5 4-2.6 4-2.9 4-3.2 4-2.1 4 2 4 4.2 4 6.2 4-.9 4-7.5 4-7 4-2.5 4 3.8 4 .8 4 4.1 4-.4 4 1.6 4-1.1 4-2.6 4-3.1 4-1.4 4 2.2 4-2.5 4 .9 4 3.9 4 2.3 4 5.6 4-1.9 4-3.8 4-1.2 4-3.2 4 6.1 4 9 4 3.2 4 3.4 4 1.4 4 2.3 4 3.6 4 7 4 2.3 4 5.1 4 5.3 4 3.4 4 4.8 4 9.3 4 7.7 4 2.4 4 3.3 4 12.4 4 13.7 4 16.7 4 4.2 4 9.5 4 16.9 4 12.8 4 9.6 4 15.2 4 13.8 4 11.5 4 18.8 4 16 4 10.2 4 8.5 4 8.5 4 10.1 4 8.1 4 5.4 4 7.3 4 7.9 4 4 4 6.3 4 3.7 4 2.4 4 .9 4 1.1 2.9 1.3" stroke="#0000ff"/>
<g stroke="none"><circle cx="330" cy="1504.5" r="15.6" fill="#0000ff"/><circle cx="541.3" cy="1079" r="15.6" fill="#0000ff"/><circle cx="752.7" cy="805" r="15.6" fill="#0000ff"/><circle cx="964" cy="687.8" r="15.6" fill="#0000ff"/><circle cx="1175.3" cy="549.2" r="15.6" fill="#0000ff"/><circle cx="1386.7" cy="426.5" r="15.6" fill="#0000ff"/><circle cx="1598" cy="321.9" r="15.6" fill="#0000ff"/><circle cx="1809.3" cy="266.6" r="15.6" fill="#0000ff"/></g></g>
<g><path d="M330 1501l2-1.9 2-1.8 2-3.1 2-1.6 2 .6 2-2.9 2-1.2 2-1 2-.2 2-.6 2-.9 2-1.6 2-.8 2-1.9 2-2.2 2 .6 2-1.6 2-.5 2-1.4 2-1.7 2 .3 2-3.6 2-2.1 2-4.5 2-.4 2-3 2-3.3 2-3.8 2-2.1 2-4.3 2-5.4 2-3.5 2-2.2 2-4.5 2-3.6 2-2.5 2-3.2 2-3.6 2-5.5 2-7.9 2-5.4 2-5.9 2-4.7 2-5.6 2-5 2-7.3 2-7 2-8.5 2-9.1 2-8.5 2-10.3 2-7.8 2-10.5 2-10.4 2-12.5 2-14.2 2-12.4 2-12.1 2-12.3 2-11.7 2-11.5 2-11.1 2-10.1 2-11.1 2-9.9 2-8.3 2-10 2-7.7 2-9.2 2-9.8 2-9.5 2-9.2 2-9.2 2-8 2-7.9 2-7.1 2-6.7 2-6.3 2-3.8 2-6.9 2-4.1 2 0 2-2.3 2-3 2-2.5 2-2.9 2-.2 2 .1 2 3 2 3.5 2 2.4 2 2.6 2 .6 2-1.5 2 1.4 2 6.9 2 2.4 2 4.4 2 5.5 2 4.7 2 4 2 7.2 2 5.3 2 2.9 2 5 2 2.5 2 5.5 2 4.8 2 4.3 2 4.5 2 2 2 5.1 2 4.4 2 2.9 2 5.5 2 3 2 3.3 2 2.9 2 2.3 2 4.7 2 3.2 2 .9 2-3.1 2-2.6 2 .7 2 1.4 2 3.5 2 2.9 2 5 2 3.1 2 4.3 2 2 2 5.8 2 5.5 2 2.1 2 7.9 2 4.1 2 4.5 2 1.8 2 3.3 2 5.3 2 4 2 8.3 2 9.5 2 6.4 2 6 2 1.2 2 1.1 2 3.1 2-1.1 2 1.1 2 3.4 2-.9 2 0 2-1.6 2-2.5 2-.3 2-4.2 2-5.3 2-2.3 2-3.5 2-1.1 2-3.9 2-1.9 2-7.3 2-7.7 2-8.8 2-6.9 2-8 2-10.6 2-9 2-8.7 2-9.4 2-9.2 2-9.6 2-6.7 2-6.8 2-9.3 2-5 2-9.1 2-6 2-5 2-4.8 2-7.1 2-4.7 2-6.7 2-9.5 2-9.7 2-6.1 2-9.4 2-3.8 2-7.6 2-5.8 2-8.3 2-6.3 2-6.7 2-5.5 2-9 2-7 2-10.1 2-9.8 2-8.8 2-10.3 2-5.9 2-6 2-6.7 2-7.1 2-3.4 2-6.4 2-4.2 2-5.1 2-1.5 2-.2 2-1.4 2-1.9 2-1.5 2-2.3 2-1.2 2 1.6 2-1 2-1.9 2 .8 2-.9 2-1.7 2-2.6 2 .4 2 .9 2 4.2 2 .1 2 4 2 2.8 2 5.3 2 .6 2-.6 2 3.3 2 1 2 1.1 2 0 2 2.4 2-1 2 5.3 2 5.7 2 6.1 2 6.8 2 .7 2 5.1 2 3.9 2 .5 2 3.5 2 4.7 2-2.5 2 .6 2 .6 2-1.6 2 3.9 2 4.9 2 1.3 2 3.9 2 2.8 2-.2 2 0 2-3.8 2-3.1 2-1.1 2 .2 2-1.9 2-.4 2-.4 2 .1 2-2.5 2-2.5 2-2 2-1.9 2-1.2 2-4 2-.1 2-2.1 2-.3 2-1.6 2 .3 2-.6 2-1.5 2-2.2 2-4.4 2-1.5 2-5.7 2-5.4 2-6.3 2-4.6 2-4.6 2-5.9 2-2.1 2-7.7 2-4.4 2-5.3 2-7.5 2-3.2 2-7.6 2-5.9 2-4.5 2-3.9 2-5.9 2-3.3 2-3.8 2-3.1 2-5.5 2-4.7 2-3.2 2-.8 2-5.4 2-4.9 2-2.6 2-2.4 2-4.9 2-3.4 2-4.3 2-2.1 2-4 2-.7 2-2.3 2-3.7 2-1.4 2-3.5 2-1 2-3.2 2 .8 2-4.5 2-1.7 2 1.2 2-4.8 2-2.5 2-.9 2 2 2-3.5 2-3.7 2 .7 2-1.4 2-.5 2-2.7 2 3.4 2-3.8 2-.2 2-1.1 2-3 2 1.4 2-3.5 2 1.4 2-.1 2-2.1 2 1.3 2-3.9 2 1.7 2 .5 2-2.2 2-1.4 2 .1 2-.4 2-2.8 2 .2 2-.8 2-1.5 2-.3 2-.9 2 .7 2-2.2 2-.7 2 .1 2 .4 2-.2 2-3 2-1.7 2 1.4 2-.4 2-2.4 2 1 2-1.4 2 .1 2 .3 2 1.1 2 2 2 .5 2-3.2 2-3.2 2-4.6 2-1.5 2-1.2 2-.3 2 .2 2 .3 2 1 2 .1 2 3.6 2 2.8 2-3.6 2-5.3 2-3.4 2-1.8 2-2.3 2-2.9 2 0 2-2.1 2 .9 2-4 2 .5 2-1.7 2-3.6 2-2.8 2 .8 2-3 2-1.3 2-2.7 2 .6 2-1.7 2-2.9 2-3.5 2-2.5 2-2.8 2-2.6 2-3.1 2-.6 2-3.5 2-1.2 2-.2 2-1.2 2-.4 2 0 2-4.5 2 .5 2-1.1 2-3.2 2-3.5 2-3.9 2-1.7 2-2.9 2-3.3 2-3.1 2-4.1 2-2.7 2 .7 2-.5 2 .7 2 1.1 2-3.1 2-1.5 2 1.2 2-1.7 2-2 2 .4 2-1.1 2-4.9 2-1.5 2-.8 2-2.3 2-1.2 2-3.2 2-3.1 2-2 2-1 2-1 2-2.2 2 .1 2-5 2-2.9 2-.3 2-1.4 2-.5 2-2.8 2-2.1 2 1.1 2-2.5 2-.5 2-.8 2-1.8 2-.7 2-1.2 2-1.2 2-1.3 2-2.2 2-2 2-1 2 .3 2-.9 2 .1 2 1.8 2-1.8 2 1.2 2 1.4 2-2.4 2 .4 2-2.2 2-.9 2-3.1 2-1.3 2-1.9 2-.7 2-1.6 2-2.4 2-2.7 2-2.6 2-2.3 2-2.7 2-1.7 2-.2 2-1.6 2 2.1 2-.7 2-1.2 2 4.4 2 2.1 2-.3 2-4.1 2-2.5 2-5.4 2-1.1 2-4.4 2-.3 2-1 2 .1 2 1.2 2-.1 2-.8 2 .8 2-1.3 2 2.2 2-1.4 2 .6 2-1.2 2-.3 2 .7 2-.3 2-1.5 2-1.9 2-.6 2 1.4 2-.9 2 1.7 2 .8 2 1.2 2-2.3 2-5.2 2-2.4 2-4.7 2-2.4 2-1 2 1.5 2 .8 2-2.6 2-2 2-3 2-1 2-.3 2-3.4 2-.5 2-.1 2-.4 2 0 2-1.1 2-.1 2-.9 2-2.3 2-1.4 2-.5 2-3.4 2-3.1 2-.8 2-3.3 2 .6 2-2.5 2-2.5 2 .1 2-3.4 2 .1 2-1.9 2-1.5 2 1.6 2 .8 2-1.4 2-.5 2-3.1 2 .1 2-2.9 2-1.6 2-1.9 2-1.1 2-3.5 2-1.3 2 .9 2-.6 2-3.2 2-5.4 2-2.3 2-3.9 2-1.5 2-1.8 2-.3 2-1.8 2-3.5 2 .8 2-.9 2 4.2 2-.2 2-1.5 2-3.6 2 .3 2-2.3 2-1.5 2 .7 2-.8 2-3 2-2.7 2-4 2 2.4 2-3.8 2-1.1 2 2.1 2-2.3 2 .7 2-2.3 2 1.3 2-2 2-1.1 2-1.2 2 0 2-.2 2 .1 2-1.2 2 .1 2-.8 2 .4 2-.7 2-1.4 2 1.1 2-.5 2-.1 2-.8 2-3.6 2 1.7 2-1.1 2 .9 2-.4 2-3 2-.9 2 .5 2-.8 2-1.3 2-2.2 2 1.7 2 1.7 2 .6 2 1.6 2 1 2-1.4 2-2.9 2-.8 2 .2 2-2 2 1.1 2 .4 2-1 2 .2 2 1.2 2 1.8 2-.2 2 .9 2 2.2 2-1.4 2 0 2 .2 2-2.8 2-2.3 2-.2 2-1.4 2-.2 2 1.6 2-2.4 2 2.6 2 1.4 2-3.4 2-4 2-3.3 2-4.6 2 1.2 2-1.2 2-1.3 2-2.3 2 1.6 2 .3 2 .2 2-1.8 2 .3 2-2.7 2-.6 2-2.9 2-.6 2-.7 2 2 2 1.8 2 2.6 2 4.6 2 .5 2-2.9 2-.8 2 .6 2-1.8 2-2.8 2 1.2 2-3.6 2-.9 2-1.7 2-2.1 2-5 2-.7 2-2 2-1.1 2-4.7 2-2.7 2 0 2-2.4 2-1 2-3.9 2 1.5 2-2.6 2 1.4 2 1.5 2 2.4 2 2.2 2 .3 2-.4 2-3.3 2-1.3 2-1 2-4.3 2 1.6 2 0 2-.2 2 1.5 2-1.3 2 3.1 2 0 2-.3 2-1.5 2-4.9 2 1.6 2-1 2 1.3 2 1.8 2-.9 2-2.1 2-1.4 2 1.1 2-2.1 2-.9 2 .6 2 2.1 2-.6 2 1.4 2 2.3 2-.6 2 .4 2 3.3 2 2.7 2-.4 2 1.1 2 3.8 2 .8 2 2.3 2 0 2 1.4 2 .4 2 1.2 2-.4 2 2 2-1.6 2 3.8 2 4.8 2 5.3 2 4 2 3.1 2 1.9 2 1 2 4.2 2 3.7 2 3.4 2 3.2 2 2.5 2 1.3 2 5.3 2 5.1 2 4.1 2 6 2 7.8 2 5.7 2 6.4 2 5.1 2 7.2 2 6.1 2 4.5 2 7.6 2 7.4 2 5.7 2 7.9 2 5.9 2 7.8 2 5.4 2 4 2 7.6 2 5.3 2 7.4 2 4.9 2 8.3 2 4.8 2 6 2 10.8 2 7.1 2 8.4 2 9 2 5.7 2 7 2 8.7 2 8.9 2 9.8 2 8.2 2 8.9 1.2 5.5 0 13.9 -1.2-5.3 -2-8.6 -2-9 -2-8.3 -2-9.8 -2-8 -2-6.9 -2-6.8 -2-6.4 -2-10.6 -2-6.1 -2-11 -2-5.9 -2-4.7 -2-6.7 -2-7.6 -2-7.3 -2-5.7 -2-4.4 -2-6.2 -2-4.7 -2-8.2 -2-5.3 -2-8 -2-7.3 -2-6.3 -2-6.2 -2-5.7 -2-5.3 -2-8.1 -2-6.3 -2-5.4 -2-5.3 -2-7 -2-6.4 -2-4.7 -2-3 -2-5.2 -2-2.7 -2-4.1 -2-1.7 -2-4.6 -2-4.2 -2-3.8 -2-1.7 -2-3 -2-2.2 -2-1.9 -2-5.1 -2-5.7 -2-4.5 -2-1.1 -2-1.9 -2 .2 -2 .2 -2-.8 -2-1.5 -2-2.3 -2 0 -2-1.5 -2-4.3 -2 .4 -2 .2 -2-3 -2-3.2 -2-.6 -2-.7 -2-1.3 -2-1.1 -2 .3 -2-3.8 -2 .1 -2 2.4 -2 1.1 -2 .3 -2 1 -2 2.1 -2 .3 -2-3.1 -2-.4 -2 1.1 -2-1.4 -2 4.5 -2 3.1 -2-1.3 -2-.4 -2-2.6 -2 .8 -2-.6 -2 .1 -2 .4 -2-1.5 -2 3.6 -2 2.1 -2 1.5 -2 .5 -2 2 -2-.9 -2-1.7 -2-1.6 -2-3.9 -2-.6 -2 3.3 -2-2 -2 3.9 -2 1.2 -2 3.3 -2 2.3 -2 1.9 -2 4.9 -2 1.8 -2 1.8 -2 .2 -2 4.2 -2 1.7 -2 .5 -2 .2 -2 3.5 -2 1.7 -2-.4 -2 1.7 -2 2.1 -2 .2 -2 2 -2-1.3 -2-1.8 -2-1.4 -2-3.4 -2-2.8 -2 .3 -2 .2 -2 3.5 -2 2.2 -2 1.4 -2-.8 -2 .7 -2-1.2 -2 1.3 -2-.7 -2 2.9 -2-.7 -2 2 -2-.1 -2 6 -2 3.7 -2 2.6 -2 2.2 -2-1.5 -2-1.4 -2 .3 -2-1.4 -2-.1 -2 2.3 -2 2.4 -2 .5 -2 3 -2-.9 -2 .2 -2 .7 -2-2 -2 0 -2 1.3 -2-3 -2-2.5 -2-1.5 -2 1.5 -2 1.8 -2-1.4 -2 1.3 -2 1.4 -2 1.3 -2 1.3 -2 1.2 -2-.5 -2-.7 -2-1.8 -2-.7 -2-3 -2 1.3 -2 3.6 -2-1.5 -2 1.5 -2 .2 -2 2.2 -2-.2 -2 .1 -2 1 -2-1 -2 2.2 -2 2.1 -2-1.1 -2 1.5 -2-1.4 -2 2 -2-.7 -2 1.3 -2 .8 -2-.3 -2 .1 -2 .2 -2 1.3 -2-.2 -2 1.4 -2 .4 -2 1 -2-.7 -2 2.6 -2-.8 -2 1.6 -2-.3 -2-1.3 -2 4.9 -2 .2 -2 2.5 -2 3.3 -2 .8 -2 1.5 -2 .1 -2 .1 -2 3 -2 .2 -2 3.2 -2 .9 -2 .4 -2-3.9 -2 .8 -2-.5 -2 2.4 -2 4.7 -2-.7 -2 1.2 -2 4.3 -2 3.2 -2 4.4 -2 2.6 -2 .2 -2 2.3 -2-1 -2 2 -2 3.7 -2-.3 -2 1.2 -2 2.6 -2 3.7 -2-2.2 -2 4.8 -2 .2 -2-.3 -2 .8 -2-2 -2 2.5 -2 2.1 -2 .8 -2 2.3 -2 .7 -2 1 -2 3.8 -2-1.5 -2 4 -2 2.4 -2 .3 -2 4.1 -2 1.2 -2 .3 -2 1.1 -2 1.6 -2-.6 -2 2 -2-1.1 -2 1.4 -2 1.5 -2 .2 -2 2.7 -2 .1 -2 2.9 -2 2.8 -2-.4 -2 1.4 -2-.5 -2-.3 -2 2.9 -2 4.8 -2 4.7 -2 1 -2 3.2 -2 .7 -2-.5 -2-1.9 -2 .5 -2-.3 -2-.3 -2-.7 -2 3.1 -2 .7 -2-.5 -2-1.6 -2 3 -2 .3 -2-.7 -2 1.1 -2-1.4 -2 .9 -2-.4 -2 .3 -2 .8 -2-2.5 -2 1 -2 2 -2 .3 -2 4.2 -2 4.1 -2 2.7 -2 2.8 -2 .7 -2 1.9 -2-2.3 -2-3.2 -2 .7 -2-1.1 -2-.7 -2 .7 -2 1.3 -2 3.4 -2 2.7 -2 2.6 -2 1.6 -2 3.1 -2 2 -2 .5 -2-.9 -2 2.5 -2 4.1 -2 2.5 -2 .2 -2 1.6 -2-.2 -2 1.1 -2-2.5 -2 .5 -2 1 -2-.8 -2 0 -2-1.1 -2 .4 -2 3.6 -2 .9 -2 2.5 -2 1.7 -2-.7 -2 2.6 -2 .9 -2 .2 -2 2.7 -2-2 -2 3.7 -2 .8 -2 1.7 -2 1.9 -2 1.2 -2 1.3 -2 1.2 -2 1.4 -2 6.2 -2 .5 -2 .7 -2 .5 -2 1.2 -2 2.6 -2 3.1 -2 3.4 -2 1.1 -2 1.8 -2 4.1 -2 .4 -2 1.4 -2 1.8 -2 .6 -2 1.3 -2 1.3 -2-.4 -2 .6 -2 2.1 -2 1 -2-1.6 -2 0 -2 .4 -2 5.1 -2 5.5 -2 2 -2 3.1 -2 4 -2 2.4 -2 2.6 -2 2.9 -2 1 -2 1.4 -2-1.3 -2 3 -2 2.2 -2-.5 -2 1.4 -2 1.5 -2 1.5 -2 2.1 -2 3.1 -2 3.6 -2 .9 -2 3.3 -2 2.2 -2 2.7 -2 1.9 -2 1.8 -2-.1 -2 2.2 -2 2.8 -2 2.3 -2 .3 -2 2.5 -2 2.7 -2 .8 -2 1 -2 2 -2 1 -2 1.7 -2 1.5 -2 2.9 -2 2.5 -2 3.6 -2 2.8 -2 2 -2 3.5 -2-3 -2-4.3 -2 .4 -2-1.4 -2-.2 -2-.2 -2-.5 -2 3 -2 4.5 -2 5 -2-.1 -2 3.4 -2-2.3 -2-2.4 -2 1 -2-2.1 -2-.1 -2 .5 -2 .6 -2 1.9 -2 0 -2 .4 -2 2.7 -2 2 -2 .5 -2-1.9 -2 2.2 -2-2.2 -2 2.7 -2 .9 -2-1.6 -2 2.6 -2 1.2 -2 .3 -2 1 -2 1.8 -2 .9 -2-.5 -2 .8 -2 .8 -2 1.2 -2-.4 -2 .7 -2-.1 -2 2.4 -2-.3 -2-.2 -2 2.1 -2 .7 -2 2.6 -2 1.4 -2 .1 -2 3 -2-1.6 -2 1.3 -2 .9 -2 .6 -2 1.2 -2 2 -2 3.6 -2-2.3 -2 2.2 -2 2.6 -2 3.8 -2 .4 -2 .5 -2 4.8 -2 .4 -2 2 -2 1.7 -2 4.9 -2-.1 -2 3.5 -2 2.5 -2 1.6 -2 4.7 -2 3.5 -2 4.6 -2 3.4 -2 3.2 -2 3.5 -2 2.4 -2 5.6 -2 4.5 -2 .2 -2 3.6 -2 5.9 -2 4.9 -2 2.3 -2 3.9 -2 4 -2 4.2 -2 5.7 -2 5.8 -2 5.6 -2 5.1 -2 5.6 -2 4.9 -2 5.7 -2 5.8 -2 6.3 -2 3.9 -2 6.3 -2 3.9 -2 3.2 -2 6.6 -2 4.9 -2 7.3 -2 1.1 -2-.6 -2 3.7 -2-.7 -2 3.1 -2-.8 -2 1.9 -2 .9 -2 1.7 -2 .5 -2 4.4 -2 1.1 -2-.1 -2 3.1 -2 1.2 -2 2.8 -2-.3 -2 .3 -2 1.7 -2 1.2 -2-.1 -2 3 -2 2.8 -2 2.4 -2 .2 -2-1.9 -2-1.8 -2 .5 -2-2.4 -2-4.6 -2-4.3 -2-2.7 -2 1.6 -2-.2 -2 .1 -2-1.6 -2-2.8 -2-1.2 -2-4.1 -2-.6 -2-3 -2-7.4 -2-4.5 -2-7.4 -2-4.2 -2-1.9 -2-3.5 -2 .9 -2-1.4 -2-1.1 -2-3.8 -2 .7 -2-.7 -2-1.2 -2-3.5 -2-2.7 -2-2.9 -2-5.1 -2-1.8 -2-.7 -2 2.3 -2 1.1 -2 .9 -2-.2 -2 1.3 -2 2.6 -2-2.7 -2 2.8 -2 1.8 -2 1.1 -2 2.7 -2 .9 -2 3.5 -2 0 -2 6.8 -2 4.8 -2 4.5 -2 5.2 -2 6.9 -2 5.7 -2 6.4 -2 6 -2 10.5 -2 8.4 -2 9.2 -2 10.7 -2 7.8 -2 7.8 -2 6.1 -2 8.3 -2 5 -2 6.6 -2 6.4 -2 7.3 -2 6.2 -2 7.7 -2 7.2 -2 8.2 -2 10.6 -2 6.8 -2 5.2 -2 6.7 -2 5.8 -2 4.7 -2 4.4 -2 7.7 -2 6.8 -2 8.9 -2 7.8 -2 5.4 -2 8.7 -2 10.2 -2 9.2 -2 9.4 -2 9.6 -2 9.1 -2 10.2 -2 5.6 -2 8.2 -2 9.5 -2 6.6 -2 .8 -2 2.9 -2 1.5 -2 4.2 -2 3.2 -2 3 -2 4.4 -2-.3 -2 1.5 -2 .2 -2-1.2 -2 2.1 -2-1.7 -2-1.7 -2 .8 -2-3.1 -2 .6 -2 2.8 -2-6.8 -2-7.5 -2-9.8 -2-7.4 -2-5.8 -2-2.2 -2-4.6 -2-3.2 -2-3.3 -2-3.5 -2-8.2 -2-3.8 -2-3.6 -2-4.7 -2-2.2 -2-5.1 -2-3.1 -2-5 -2-2.6 -2-5.3 -2-5.2 -2-.2 -2 3.5 -2 .7 -2 1.4 -2-1.4 -2-4.9 -2-.6 -2-4.5 -2-2 -2-2.2 -2-4.1 -2-4.1 -2-4.1 -2-6 -2-2.3 -2-3.7 -2-3.8 -2-5.2 -2-5.2 -2-3.3 -2-4.4 -2-3.4 -2-5.1 -2-7.1 -2-4.7 -2-3 -2-6.8 -2-3.7 -2-4.1 -2-6.3 -2-4.4 -2 .1 -2-.6 -2-2.1 -2-1.7 -2-.5 -2-5.7 -2-1.2 -2-.6 -2 5.3 -2 3.7 -2 .6 -2 4.3 -2 3.2 -2 2.8 -2 5.3 -2 4.2 -2 7.5 -2 5 -2 8.3 -2 6.5 -2 9.2 -2 8.3 -2 9.1 -2 10 -2 8.6 -2 10.8 -2 9.4 -2 8.3 -2 9.6 -2 8.5 -2 11.7 -2 8.9 -2 11.4 -2 12 -2 12.6 -2 10.1 -2 12.3 -2 13.2 -2 15.3 -2 11.7 -2 10.8 -2 10.3 -2 7.4 -2 9.9 -2 9.9 -2 8.3 -2 9.1 -2 6.7 -2 6.6 -2 5.9 -2 4.7 -2 5.2 -2 5.8 -2 5.5 -2 7.3 -2 7.5 -2 2.9 -2 2.6 -2 3.4 -2 3 -2 5.4 -2 2.4 -2 2.7 -2 5.3 -2 4.3 -2 1.2 -2 2.2 -2 3.7 -2 4.4 -2-.4 -2 2.5 -2 3.4 -2 2.4 -2-.2 -2 .9 -2 .1 -2 1.7 -2 1.3 -2 1.6 -2 .4 -2 2.4 -2 .3 -2 1 -2 .9 -2 1.7 -2-1.2 -2 2.2 -2 2.7 -2 1 -2 .1 -2 1 -2 4 -2 1.1 -2 1.6z" fill="#00ff00" stroke="none"/>
<path d="M330 1506.6l4-3.3 4-3.9 4-2.1 4-4.2 4-.1 4-2.3 4-2.4 4-3 4-1.5 4-2 4-2.8 4-6.4 4-3.6 4-6.3 4-7.1 4-7.3 4-7.3 4-7.1 4-5.2 4-13.9 4-12.1 4-10 4-11.7 4-16.4 4-17.2 4-17.9 4-20.6 4-27.3 4-24.9 4-24 4-23.1 4-21.1 4-17.4 4-18 4-18.5 4-20 4-17.1 4-14.9 4-12.2 4-10.2 4-6.2 4-4.4 4-6.8 4 .6 4 6.5 4 3.6 4 .5 4 9.3 4 8.1 4 9.6 4 11.2 4 8.6 4 7.8 4 10.1 4 8 4 7.2 4 8.3 4 7.7 4 5.9 4 6.2 4 2.4 4-4.9 4 4.3 4 7.2 4 7 4 7.2 4 9.4 4 11.6 4 7.3 4 6.3 4 9.1 4 16.9 4 14 4 .1 4 1.1 4 3.5 4-.7 4-2.4 4-4.2 4-6.4 4-6.5 4-4.8 4-14.3 4-15.3 4-18.8 4-19.2 4-18.3 4-15 4-16 4-14.6 4-10.3 4-12.3 4-12.2 4-18.1 4-15.2 4-12.3 4-13.3 4-14.6 4-13.4 4-18 4-17.8 4-16 4-12.7 4-11.8 4-9 4-7.4 4-3 4-4.4 4-3.2 4 .2 4-1.2 4-2.9 4-1 4 5.7 4 5.7 4 5.8 4 .7 4 3.7 4 1.5 4 3.3 4 10.8 4 12.4 4 4.5 4 5.5 4 5.9 4-.6 4-.2 4 8.5 4 4.3 4 2.4 4-3.5 4-4.4 4-1.2 4-1.2 4-3 4-4.3 4-2.3 4-4.8 4-2.1 4-1.2 4-3 4-3.9 4-7.8 4-11.2 4-9 4-9.1 4-12 4-11.6 4-10.5 4-10.2 4-10 4-8 4-7.9 4-8.5 4-5.9 4-6.8 4-8.2 4-7.1 4-6.8 4-4.2 4-4.5 4-5.2 4-3.4 4-4.7 4-3.5 4-4 4-1.8 4-3.3 4-1.9 4-.2 4-2.4 4-4.7 4-1.5 4 .1 4-1.4 4-1.9 4-2 4 .2 4-3.4 4-1 4-2.7 4 .1 4-1.3 4-.2 4-2.4 4-1.7 4-2.3 4-.5 4 .4 4 3.2 4-2.1 4-6.4 4-5.5 4 .1 4 2.1 4 4.1 4-1.7 4-6.1 4-5.8 4-3.6 4-1.7 4-2.9 4-4.9 4-2.7 4-4.8 4-1.2 4-4.6 4-4.5 4-5.9 4-4.6 4-3.7 4-3.1 4-.9 4-3.1 4-2.6 4-6.7 4-5.8 4-5.6 4-8.6 4 .7 4 .2 4-2.7 4-1.3 4-2.3 4-3.9 4-4.2 4-2.7 4-6.5 4-3.3 4-2.2 4-5.7 4-2.4 4-2.9 4-4.2 4-2.9 4-1 4-1.3 4-3.2 4-3.4 4-3.7 4-.6 4 1.8 4-.9 4 .7 4-1.3 4-4.4 4-4.6 4-1.1 4-5.2 4-4.6 4-4.4 4-1.7 4 .4 4 3.8 4 .6 4-5.1 4-6.2 4-4.4 4-1.7 4 .4 4-.3 4 1.1 4-.1 4-2.8 4 1.4 4-3.4 4 1 4-.2 4 2.2 4-4.9 4-6.8 4-5.9 4 1.9 4-3.1 4-4.9 4-2.8 4-2 4-.3 4-1.8 4-2.2 4-2.5 4-4.5 4-5 4-3.3 4-1.8 4-2.8 4-3 4 1 4-1.3 4-3.1 4-4.6 4-2.4 4-4.9 4-.6 4-5.1 4-7.5 4-3.8 4-3.3 4-2.8 4 2.9 4-.9 4-3.6 4-3 4-1.3 4-4.5 4-2.8 4-3.3 4-.8 4-1.3 4-.7 4-2 4-1.1 4-.7 4-.3 4-1.3 4-.7 4-.4 4-3.8 4 .3 4-.3 4-2.5 4-.5 4-3.4 4 3.7 4 1.9 4-1.5 4-2.5 4-1.8 4 .1 4-1 4 4.7 4 .6 4 .7 4 .4 4-4.6 4-3.6 4 2 4 1.3 4-2.2 4-6.3 4-5.3 4-1.3 4-1.6 4-.3 4 0 4-4.3 4-3.2 4 2 4 5.2 4 3.4 4-2.6 4-2.9 4-1.3 4-3.9 4-3.7 4-4.6 4-4.2 4-6.5 4-3.9 4-4.3 4-1.9 4 3.9 4 3.7 4-.6 4-3.7 4-5 4 2.2 4 1 4 1.6 4 .4 4-6.9 4-.1 4 3.7 4-2.7 4-1.1 4-3.8 4 4.2 4 .9 4 1.8 4 2.8 4 3.5 4 3.6 4 2.6 4 2.9 4 1.3 4 .5 4 4.6 4 10 4 6 4 4.1 4 7.6 4 6.9 4 4.8 4 9.1 4 10.7 4 13.6 4 11.1 4 12.8 4 13.2 4 13.4 4 13.1 4 13 4 11.1 4 12.3 4 13.5 4 12.1 4 16.5 4 17.6 4 13.3 4 16.8 4 18.6 3.2 13.5" stroke="#00ff00"/>
<g stroke="none"><path d="M312 1504L330 1485L348 1504L330 1523Z" fill="#00ff00"/><path d="M523.3 1107.7L541.3 1088.7L559.3 1107.7L541.3 1126.7Z" fill="#00ff00"/><path d="M734.7 890.6L752.7 871.6L770.7 890.6L752.7 909.6Z" fill="#00ff00"/><path d="M946 772.5L964 753.5L982 772.5L964 791.5Z" fill="#00ff00"/><path d="M1157.3 642.3L1175.3 623.3L1193.3 642.3L1175.3 661.3Z" fill="#00ff00"/><path d="M1368.7 506.6L1386.7 487.6L1404.7 506.6L1386.7 525.6Z" fill="#00ff00"/><path d="M1580 388.8L1598 369.8L1616 388.8L1598 407.8Z" fill="#00ff00"/><path d="M1791.3 326.2L1809.3 307.2L1827.3 326.2L1809.3 345.2Z" fill="#00ff00"/></g></g>
<g><path d="M330 1497.8l2-2 2-1.2 2-1.6 2-3.3 2 1.3 2-1.8 2-.3 2-1 2 1.5 2-1.3 2 .5 2-2.9 2-.1 2-.7 2-2.6 2-3.6 2 1.3 2-3.6 2-.9 2-.9 2-.5 2-1.1 2-.6 2 .2 2-.5 2 .6 2-.5 2-1.2 2-3.1 2-1.1 2-2.6 2-.3 2-2.6 2-1.2 2-4.1 2-2.1 2-1.7 2-4.9 2-3 2-1.6 2-1.4 2 1.2 2-4.1 2 .4 2 1.7 2 .8 2-.5 2-.9 2 .3 2-2.2 2-3 2-2.9 2-2.8 2-1.7 2-4.5 2-2.2 2-2 2-3.7 2-3.5 2-1.7 2-2.3 2-1.4 2-3.7 2 .5 2-3.2 2-1.7 2-3.2 2-2 2-3.1 2-4 2-2 2-.8 2-2.3 2-3.3 2-2.9 2-2.6 2-3.4 2-1.8 2-.5 2-6.2 2-2.1 2-2.2 2-2.6 2-4.3 2-1.8 2-1.4 2-1.9 2 2.6 2-1.9 2-1.1 2-1 2-.7 2 .2 2-1.1 2-1.2 2-1.6 2-.5 2-1.2 2-1.6 2-1.7 2 .2 2-2.7 2 .3 2-2 2-.5 2-1.4 2-1 2-.2 2-2.6 2-6.1 2-2.4 2-5.6 2-2.5 2-3 2-1.1 2-.8 2-.1 2-1.5 2-1.3 2-3.3 2 3.1 2-2 2-.5 2-1.9 2-4.6 2-2.8 2-.1 2-3.5 2-1.3 2-.5 2-.7 2-1.7 2-2.8 2-.7 2-.2 2-3.6 2-1.9 2-1.4 2-2.9 2-.4 2-2.3 2-.6 2 .2 2-3.4 2-1.3 2-1 2-2 2-.3 2 0 2-2.3 2 1.4 2-3.6 2 1.4 2-.8 2 .3 2-.9 2 .2 2-1.5 2 0 2 .5 2-1.6 2 1.5 2 1 2-2.4 2 1 2-1 2 .1 2-1.3 2 .9 2-.2 2-1.9 2-3 2-.3 2-3.4 2-2.4 2-1 2-3.6 2-2.1 2-3.2 2-1.4 2 1.2 2-1.1 2-.6 2 1.5 2-.8 2 1.2 2-2.5 2 .5 2-2.6 2-2.6 2-5.1 2-5.4 2-3.3 2-5.6 2-2 2-3.4 2-2.6 2 .9 2-1.8 2-.3 2-.9 2-2.5 2-.8 2 .5 2-.7 2-.3 2 .9 2 .9 2 .4 2-1.9 2 .5 2-2.6 2-5.6 2-2.3 2-1.9 2-2.8 2-5.2 2-1.8 2-3.9 2-.8 2-2.8 2-2.9 2-4.1 2-3.6 2-2.2 2 1.8 2-1 2 .5 2 .4 2 .8 2-.7 2-1.7 2-3.1 2-2.2 2-1.5 2-4.8 2-1.2 2-2.7 2-.2 2-2 2-1.4 2-2.7 2-1.8 2 .2 2-2.9 2-4.4 2-1.2 2-3.2 2-4.5 2-2.5 2-3 2-1.8 2-1.9 2-2.7 2-1.2 2-1.5 2-1.1 2-1.8 2-2.4 2-.5 2-.5 2-1.5 2-.9 2-.8 2 0 2-.2 2-1.1 2-.1 2-1.3 2-.6 2-.9 2-1.3 2-.5 2-.2 2-.1 2 1.9 2 2.2 2-2.2 2-3.5 2 .6 2-2 2-.7 2-.1 2-1.3 2-.5 2 0 2-3.1 2-4.5 2 .4 2-1.2 2-3.2 2 .3 2-3 2-.5 2-1.3 2-.1 2-3.2 2-3.3 2-2.2 2-.7 2-1.2 2 1.7 2-.3 2-1 2-3.9 2 .8 2-1.9 2-.7 2-1 2-.3 2-.5 2 .9 2-1.1 2 .8 2-.6 2-.7 2 2.8 2-1.6 2-2.9 2-2.9 2-.6 2-5.8 2-2.6 2-.3 2-2.6 2-5 2-1.9 2-2 2 .3 2-2.9 2-1.5 2-1.5 2-1.1 2-1.8 2 1.3 2-1 2-2 2-3.7 2 .7 2-2.1 2-.4 2-.3 2-1.1 2-1.4 2 .5 2 1.9 2 0 2-4.3 2-1.2 2-2.8 2-5.2 2-4.8 2-1.7 2-4.5 2-3.5 2-2 2-4.9 2-.7 2-1.7 2-2.7 2-4.2 2 1.2 2-4.6 2-.8 2-1.7 2 .6 2-5.1 2-1.6 2-1.2 2-2.5 2 .6 2-1.3 2-.6 2 1.7 2 .6 2-3.9 2 1.3 2-.7 2-1 2 1.5 2 .3 2-2.9 2-3.6 2 1.8 2-2.4 2 .8 2-3.9 2-1.8 2-2.2 2-3.3 2-2.8 2 .1 2 1 2-3.1 2 .8 2-4 2 2.5 2-1.5 2-.5 2-1 2 .9 2 .4 2-2.5 2-2.2 2 1.4 2-2.4 2-2.4 2-.3 2-1.5 2 .1 2 .3 2 .5 2-1.5 2 .4 2 .5 2 1.5 2 0 2-.8 2-.6 2-.6 2 .7 2 .3 2 .7 2-1.2 2-.8 2-3.4 2-2.4 2-2.8 2-2.1 2-2 2 2 2-2.1 2-.1 2-3.3 2 .5 2-2.6 2-1.2 2-4 2-2.6 2-1.4 2-1.4 2-.7 2-3.4 2-.8 2-1.7 2-3 2-2.1 2-1.3 2-2 2-.1 2 .7 2-.7 2 .5 2-.9 2-3.5 2-.9 2-1.5 2-3.4 2-3.8 2-1.6 2-1 2-3.9 2-3.2 2 0 2-1.1 2 .8 2 0 2 .7 2 .9 2-4.5 2-1.8 2-3.3 2-1.8 2 .2 2-4.6 2-2.1 2-1.1 2-1.6 2 1.3 2 .1 2-1.1 2-3.3 2-1.9 2 1.4 2-1.3 2 .5 2-2.7 2-2.3 2-4.7 2-2.1 2 1 2-3.6 2 .1 2-.8 2-3 2-.7 2 1.1 2 .8 2-.4 2 .2 2-.9 2-1.7 2-.8 2-2.1 2-3.2 2 .3 2-.4 2 .3 2-1.8 2-1.6 2 .2 2 0 2 .8 2-.5 2 .3 2-1.9 2-3.1 2 .7 2 0 2-2.2 2 0 2-1.4 2-1.3 2-1.5 2 1.1 2-2.4 2 .5 2-2.4 2-3.1 2-3.4 2-1.5 2 1 2 0 2 1 2-2.2 2-.4 2 3.5 2 1.2 2 .5 2-1.4 2-3.2 2-2.1 2-3.2 2-5 2 1.3 2-3.1 2 1.3 2-2 2-.4 2 1.6 2-2.2 2-1.2 2-1.2 2-4.1 2 .5 2-1.8 2 2.5 2 .3 2 .4 2 .4 2 .6 2-2.4 2-6 2-3.1 2-2.7 2-1.5 2-4 2 .3 2-2.4 2-.6 2-.4 2-1.6 2-.7 2-.1 2-.5 2-.2 2-4.3 2-1.8 2-4.1 2-2.5 2-3.2 2-.6 2 3.8 2 2.4 2 1.5 2-3.2 2-2.7 2-3.6 2-.7 2-3.3 2-1.4 2-2.3 2-1.5 2-.8 2 2.1 2-3.2 2 .9 2-.8 2 0 2-1.8 2-4.1 2-2.4 2-3.2 2-1 2-2.3 2-5.6 2-.3 2 1.1 2 2.1 2-.6 2 5 2 4.9 2 2 2-4.8 2-2.2 2-.4 2-1.4 2-4.6 2-1.6 2 1 2-4.3 2-1.5 2 1.8 2-.8 2-.4 2-1.3 2 1.2 2 .1 2-2.1 2-1.1 2-2.1 2 1.8 2-1.8 2-.5 2-3.3 2-.6 2-.3 2 0 2 .7 2 .8 2 .6 2-.2 2-1.1 2-1.3 2-3.4 2-1 2-2.8 2-1.9 2 .5 2-2.4 2-2.3 2 .9 2-2.1 2-.6 2-.6 2-2.8 2-2.8 2-1.1 2-.2 2 .1 2-.4 2-1.4 2 3.2 2-.7 2 .5 2-2.6 2-1.4 2-1.1 2-2.5 2-1.9 2-4.7 2-2 2-1.7 2-1.8 2-1.8 2 .9 2-3.1 2 1.4 2-1.1 2 1.1 2-1.8 2 1.5 2 .2 2-.6 2-.7 2 .7 2-.9 2 .3 2 .2 2 .2 2-.7 2-1.6 2-1.1 2-.6 2 .5 2-.1 2-3.9 2-.8 2-2 2 .9 2-.9 2-1.4 2-3.2 2-1 2-4.7 2-3.4 2-3.2 2 1.7 2-2.2 2 .5 2 3 2-1 2 .4 2-.7 2 .7 2 2.3 2-2.1 2-1.7 2-2.1 2-2 2-.4 2-2.8 2 .4 2 .3 2-2.6 2-.3 2-.7 2 1.1 2 3.9 2 .1 2 1 2 .1 2-1.8 2-1.1 2 .5 2 .2 2 .5 2-1.4 2-2.9 2 .4 2 .1 2 .1 2-.2 2-3.6 2 .7 2 .7 2 .9 2-.5 2-1.3 2-1.7 2 .2 2-.8 2 .1 2 .3 2-.4 2-.7 2-2.7 2-3.2 2-2.3 2-.1 2 .7 2 1.1 2 1.7 2 1.5 2-.3 2-.7 2 .3 2-.3 2-2 2-3.1 2-1.6 2-.9 2-2.4 2 1.1 2-1 2-4 2-.4 2-1.1 2 2.2 2 .3 2 2.2 2-1.3 2-.2 2 1.6 2 3.1 2 .5 2 2.7 2 .3 2 2.8 2 3 2 .7 2 .8 2-2.4 2-.3 2-2.2 2 .1 2-1 2-.1 2 2 2 1.1 2 1.6 2 .2 2 .3 2-2.4 2 .2 2-2.4 2-.1 2-1 2 2.3 2 3 2 3.7 2 4.5 2 3.5 2 2.5 2-.8 2-1.2 2 .9 2 1.2 2-1.9 2 2.6 2-2.2 2 .9 2 3.3 2 1.9 2 1.1 2 2.4 2 .9 2 1 2 2.2 2 .8 2 1.8 2 1.9 2 3.1 2 .4 2 1.8 2 2.7 2 2.9 2 .8 2-3.2 2 1.9 2 .1 2 .8 2 .4 2 2.4 2-.4 2 1.9 2-.2 2-.3 2 .7 2 .8 2 1.1 2-1.4 2-.6 2 2.6 2 1 2 .6 2 .9 2-.2 2 2.9 2 .9 2-2.4 2-2.4 2-2.2 2-.1 2 1.9 2-.7 2 2.1 2 .7 2-.7 2 3.3 2 4.9 2 4.2 2 4.4 2 3.5 2-.4 2-2.4 2-2.3 2-5 2-3.8 2-1.1 2-2.6 2 1.5 2-1.7 2-.3 2 1.5 2-.3 2 1.2 2 .9 2 1.6 2-.2 2 .2 2-.8 2-1.6 2-.2 2-1.6 2-1 2-1 2 1.7 2-2.2 2 .7 2-.4 2-.2 2 1.9 2-1.9 2 .9 2-2.8 2-2.1 2-1.4 2 .4 2 2.1 2-1.3 2 1.6 2 .7 2-.7 2 1.6 2 .2 2 1.1 2-2.4 2-.9 2 .9 2-.6 2-1.6 2-1.4 2 .5 2 1.7 2 1.4 2 .3 2.5 1.5 0 12.9 -2.5-1.5 -2-2.5 -2-.4 -2-1.8 -2-1 -2 1.2 -2 1.7 -2 1.2 -2 .2 -2-.3 -2 1.7 -2-.9 -2-.4 -2-.7 -2-.2 -2-1.1 -2 0 -2-.6 -2-.9 -2 .5 -2 2.4 -2 1.1 -2 3 -2-1.3 -2 .9 -2-.3 -2-.7 -2-.5 -2 .5 -2 1 -2-1.8 -2 2.2 -2 1.1 -2 1.4 -2 .2 -2 1.1 -2 2.2 -2-1.2 -2-.3 -2-.7 -2-1.5 -2-.3 -2-.5 -2-1.6 -2 .2 -2 1.5 -2 .8 -2 1.8 -2 4.7 -2 2.9 -2 1.9 -2 4.6 -2-.6 -2 1.2 -2-2.3 -2-1.4 -2-5.6 -2-4.3 -2-4 -2-2.5 -2-1.7 -2-1.8 -2-.7 -2 1 -2-1.1 -2 1.2 -2 1.9 -2 2.4 -2-.8 -2-.5 -2-2.1 -2 .4 -2-1.4 -2-.2 -2-2.7 -2-.6 -2 1.2 -2 .1 -2-.7 -2-1.9 -2 .6 -2 .5 -2-2.9 -2 .8 -2-2.7 -2 2.1 -2-2.4 -2-.7 -2 .2 -2 1.5 -2 .8 -2-3.6 -2-1.1 -2-.7 -2-2 -2-3.5 -2-2.1 -2-2.1 -2-.3 -2-1.8 -2-1.5 -2-1.4 -2-1.7 -2-.6 -2-2 -2-4.6 -2-.3 -2 1.5 -2-2.4 -2 1.4 -2-.6 -2 .2 -2-1.1 -2 1.9 -2-1.1 -2-2.9 -2-2.9 -2-2.9 -2-5.5 -2-3.2 -2 1.3 -2-1.2 -2 2.5 -2 1 -2 .1 -2 1.7 -2-1.6 -2-1.8 -2-.3 -2-4 -2 .9 -2 2.1 -2 2 -2 0 -2 1.3 -2 2 -2 .2 -2-2 -2-1.7 -2-1.1 -2-3.7 -2-1.3 -2-1.9 -2-3 -2 .1 -2-.8 -2 .3 -2-1.5 -2-1.4 -2-1.7 -2 .3 -2 2.5 -2 3.1 -2 1.6 -2-1.3 -2 2.6 -2 2.8 -2-.4 -2 3.6 -2-.1 -2 .3 -2 .1 -2-.1 -2 .7 -2-1.1 -2-.6 -2-3.5 -2 1.7 -2-.8 -2 4.7 -2 2.7 -2 1.6 -2-.2 -2-.6 -2 .2 -2 .4 -2 .6 -2 .2 -2 1.4 -2 1.3 -2 .6 -2 .1 -2-1 -2-1.2 -2 2.9 -2 .7 -2 .4 -2-.3 -2 .3 -2 3.4 -2 .4 -2-1.9 -2 .6 -2 .3 -2 1.3 -2 .4 -2 .6 -2-1.2 -2 .3 -2-3 -2-3.4 -2 1.6 -2 1.6 -2 1.6 -2 .4 -2-.4 -2 3.4 -2 1.2 -2-.2 -2 4 -2-1.4 -2 3.8 -2-2.7 -2-1.2 -2 1.9 -2-.4 -2-.7 -2-.3 -2-.2 -2-.1 -2 1.2 -2 3.6 -2 3.7 -2 3.7 -2 1.7 -2 .6 -2 .8 -2 2.1 -2-1 -2 1.1 -2 1.7 -2 2.2 -2 2 -2-1.3 -2 2.1 -2-.8 -2 1.6 -2 .7 -2-.7 -2-.8 -2 2.4 -2-.8 -2 0 -2 1.1 -2-.6 -2 1.1 -2-1.4 -2 .2 -2-.4 -2 .4 -2 .1 -2 .6 -2 .9 -2 2.2 -2 2.6 -2 4.8 -2 .2 -2 3.5 -2 1.9 -2 1.7 -2 2.5 -2-1.8 -2 3.5 -2-.9 -2 .5 -2-1.1 -2-.2 -2 0 -2 .7 -2-.6 -2 3.3 -2 3.6 -2 .4 -2-.5 -2 1.9 -2 2 -2 .6 -2 2.3 -2 2 -2-.9 -2 2.6 -2 2.9 -2 1.1 -2 2.4 -2 2.2 -2-.3 -2 .7 -2-.6 -2-.6 -2-2 -2 .3 -2 .6 -2 1.6 -2 3.7 -2-2 -2 1.7 -2-.1 -2 2.7 -2 1 -2 2.2 -2-.5 -2-1 -2 .5 -2 .4 -2 .1 -2-1.2 -2 2.3 -2 2.3 -2 3.5 -2-.6 -2 4.3 -2 2.7 -2 .4 -2 1.6 -2 2.8 -2-2 -2-1.3 -2-4.4 -2-2.2 -2-2.4 -2-1.9 -2 3.8 -2 5.5 -2 2.2 -2 0 -2 2 -2 4.3 -2 2.2 -2 0 -2 1.4 -2-.5 -2 1.4 -2 .6 -2-.1 -2 1.6 -2-.4 -2 3.8 -2 2.9 -2 2.1 -2 2.7 -2 .8 -2 2.5 -2 2.4 -2-.7 -2-3.5 -2-3.8 -2 2.1 -2 4.8 -2 2.4 -2 4.2 -2 .8 -2 2.7 -2 1.4 -2-.3 -2 .7 -2 .4 -2 1.3 -2 .3 -2-.3 -2 3.1 -2 1.8 -2 3.4 -2 3.1 -2 4 -2 2.3 -2 2.7 -2 2.1 -2-.7 -2 .6 -2 0 -2-2.4 -2-.6 -2 1.3 -2 .2 -2 3.3 -2 1.5 -2 1.8 -2 .6 -2-2.1 -2 1.7 -2 .4 -2-.2 -2 2.9 -2 1.5 -2 3.5 -2 4.9 -2-.1 -2 3.3 -2-.7 -2 1.5 -2-2.2 -2-1.6 -2-1.1 -2 .8 -2-.6 -2 1.2 -2 .2 -2 3 -2 3 -2 1.7 -2 3 -2-2.1 -2 1.7 -2 .6 -2-1.4 -2 1.6 -2 3.1 -2 0 -2 .2 -2 .5 -2 1.3 -2 .6 -2 3.6 -2-1.3 -2 .9 -2-1.3 -2-.2 -2 .1 -2 2.4 -2 2.5 -2-.4 -2 1.4 -2 .4 -2 1.6 -2 2.2 -2 .1 -2 1.4 -2 .1 -2 .5 -2 2.3 -2-2.1 -2-1.7 -2 2.3 -2 2.9 -2-.3 -2-.5 -2 3.6 -2 2 -2 2 -2 3.4 -2 2.5 -2 .5 -2-.1 -2 .4 -2 .3 -2 2.4 -2 1.9 -2 .8 -2 .2 -2 .4 -2 0 -2 4.2 -2 2.4 -2 2.5 -2 .4 -2 1.5 -2 4.5 -2 .6 -2 3.6 -2-.7 -2-1.7 -2-.8 -2 1.5 -2 .4 -2 2.1 -2 2.6 -2 4.7 -2 .6 -2 1.3 -2 4.7 -2 1.9 -2 2.7 -2-1 -2 3.8 -2 .1 -2 .5 -2 .5 -2-1 -2 .7 -2 .1 -2 3.3 -2 .8 -2 4.3 -2 1.3 -2 1.7 -2 1.4 -2 1.6 -2 1.7 -2 3 -2 3.2 -2 2.6 -2-.5 -2 1.8 -2 1 -2 2 -2 1.5 -2 .1 -2-1.2 -2 4.2 -2 1.5 -2 3.6 -2 .4 -2 5.6 -2-1 -2 1.5 -2-1.9 -2 .7 -2 .2 -2-.3 -2-1.1 -2 1.5 -2 1.3 -2-1.7 -2-1.9 -2 .7 -2 1 -2-.4 -2-.7 -2-.5 -2 2.7 -2 2.1 -2 .7 -2 2.2 -2 .1 -2 1.1 -2 1.3 -2 .1 -2 .8 -2 .7 -2 0 -2-.1 -2-1.9 -2 2.7 -2 1.9 -2 1.7 -2-.7 -2 1.6 -2 3.2 -2 2.7 -2 3.7 -2 1 -2 1.7 -2 .9 -2 .2 -2 .2 -2 1.9 -2 4.3 -2-1.5 -2-1.5 -2 1.5 -2-.9 -2-.2 -2 2.4 -2 0 -2-1.3 -2 1 -2 .3 -2 .9 -2 2.6 -2 3.8 -2-.5 -2 4.6 -2-.2 -2 1 -2 2 -2 4.1 -2 .5 -2 1.3 -2 4.9 -2 1.4 -2 2.3 -2 5.1 -2 3 -2 2.3 -2 5.2 -2 2.6 -2 3.8 -2 4.4 -2 3.7 -2-.9 -2 2 -2 1.2 -2-2 -2-.2 -2-1.6 -2 2.8 -2 .8 -2 .5 -2 1.6 -2 0 -2 3.7 -2 .9 -2 1.5 -2-.1 -2 .4 -2 2.1 -2 .9 -2 3.1 -2 1.4 -2 1 -2 2.9 -2 .8 -2 5.5 -2 2.2 -2 2.7 -2 2.3 -2 3 -2 2.9 -2 1 -2 1.6 -2 1 -2-.8 -2 .9 -2-.8 -2-1.5 -2 .9 -2-1.9 -2 2.7 -2 .1 -2-.2 -2 1.1 -2 3 -2-.5 -2 3.5 -2 1 -2-.3 -2-.1 -2 .7 -2 2.2 -2 .8 -2 2.4 -2 2.4 -2 2 -2 1.1 -2 .2 -2 1.7 -2 .2 -2 3.1 -2 3 -2-.1 -2 4 -2 2.3 -2-.2 -2 .9 -2 2 -2-.2 -2 .4 -2 .8 -2 1 -2 3.1 -2 2 -2-1.3 -2-1.8 -2-2.7 -2 1 -2 1.1 -2 2.8 -2-.3 -2 .5 -2-.8 -2 2.1 -2 .8 -2-.8 -2-.2 -2 1.4 -2 2.2 -2-.6 -2 2.3 -2 .7 -2 1.3 -2 2.5 -2 .1 -2 2.6 -2 1.6 -2 3 -2 3.7 -2 .5 -2 4.8 -2 3.3 -2 2.1 -2 4 -2 1.4 -2 2.8 -2 3.2 -2-.1 -2 1.1 -2 2.7 -2 2.1 -2 2.1 -2 .5 -2 1.9 -2 2.5 -2 3.4 -2 3.4 -2-.6 -2 4.3 -2-.8 -2 1.7 -2-.1 -2-.3 -2-1.1 -2 .8 -2-.7 -2 5 -2 3.2 -2 5.3 -2 0 -2 4.9 -2-.9 -2 6 -2 1.7 -2 5.8 -2 .6 -2 1.8 -2 1.9 -2 5.3 -2 2.8 -2-1.8 -2 .5 -2-1.7 -2 .1 -2-.7 -2 .9 -2 1.6 -2-.8 -2-.5 -2 4.1 -2 1.3 -2 .1 -2 .6 -2 .4 -2 2.9 -2 5.4 -2 2.7 -2 5.6 -2 3.8 -2 6.6 -2 3.3 -2 .7 -2 1.6 -2-1.1 -2 1.9 -2-2.7 -2 2.2 -2-1.2 -2 .4 -2 1.8 -2-1.8 -2 2.4 -2 4.5 -2 2.2 -2 3.5 -2 1.3 -2 2.1 -2 2.2 -2 .8 -2 .8 -2 2 -2 1.3 -2-.6 -2 0 -2 .6 -2 .8 -2-1.9 -2 3.3 -2-1.1 -2-.4 -2-.5 -2 .5 -2-.7 -2 1.4 -2 .8 -2 .1 -2 .7 -2 .1 -2-.8 -2 2.2 -2 1.3 -2-.8 -2 1.4 -2 .8 -2 3.6 -2-.1 -2 1.9 -2 2.7 -2 1.1 -2-1.1 -2 1.6 -2 .1 -2 4.7 -2 2.2 -2 2.2 -2 1.7 -2 .4 -2 1.8 -2 1.2 -2 1.5 -2 2.8 -2 .1 -2 .7 -2 3.9 -2 2.2 -2 1.2 -2 4.7 -2 1.4 -2-.6 -2 1 -2-2.1 -2 2.1 -2 2.5 -2 2.2 -2-.4 -2 1.4 -2 2.2 -2 4.1 -2 4.1 -2 4.7 -2 3.6 -2 2.9 -2 .4 -2 .9 -2 1.6 -2 .9 -2 .2 -2 .5 -2 .8 -2 2.5 -2 .9 -2 1.6 -2 0 -2 .7 -2 1.7 -2 1.2 -2 1.5 -2 .8 -2-.2 -2 1.5 -2 1.9 -2 .3 -2 .4 -2 0 -2 1.3 -2 4.8 -2 1.8 -2 4.4 -2 1.6 -2 1.9 -2 2.6 -2 5.3 -2 1 -2 2.1 -2 1.5 -2 4 -2 2.6 -2 1.8 -2 2.1 -2 1.7 -2 3.5 -2 4 -2 2.8 -2 1.6 -2 2.3 -2 .6 -2 2.9 -2 .6 -2 3.9 -2 1.2 -2 2 -2 4.8 -2 4.3 -2 2.3 -2 2.6 -2 1 -2 2.7 -2 3.9 -2 1.8 -2 2 -2 3.3 -2 0 -2 .7 -2-.3 -2-.2 -2 .2 -2-.1 -2-.2 -2 3.1 -2-.7 -2 .8 -2 4.2 -2 3.6 -2 4.5 -2 2.3 -2 .7 -2 1.7 -2 2 -2 3 -2 .2 -2 2.6 -2 .8 -2 3.8 -2 .7 -2 0 -2-.7 -2-.2 -2 .6 -2-.7 -2 2.5 -2 0 -2 .5 -2 3.1 -2 2.5 -2 .3 -2 1.4 -2 2.3 -2 .5 -2 1 -2 2.8 -2-1 -2 .3 -2-.3 -2 .9 -2 1.2 -2 1.2 -2-1.4 -2 1.6 -2 3.5 -2 1 -2 1.2z" fill="#ff00ff" stroke="none"/>
<path d="M330 1503.2l4-3.4 4-3.8 4-.4 4-1.4 4 .2 4-3.3 4-.9 4-4.5 4-2.5 4-3.4 4-1.2 4-.5 4 .7 4-.9 4-5.6 4-2.3 4-4.3 4-4.4 4-5.6 4-6.6 4-.2 4-3.9 4 1.3 4-.8 4-1.3 4-5 4-5.4 4-5.1 4-5.7 4-6.8 4-3.8 4-3.3 4-3.7 4-5.4 4-7.1 4-4.1 4-4.1 4-6.7 4-3.5 4-6.3 4-5.2 4-6.1 4-4.7 4-1.1 4-1.6 4-2.1 4-1.5 4-2.6 4-1.8 4-2.4 4-2.3 4-2.5 4-1.4 4-1.8 4-6.1 4-8.2 4-5.9 4-3.6 4-1 4-4.2 4 .4 4-2.3 4-5.9 4-4.1 4-2.3 4-2.9 4-3.4 4-2.7 4-5.1 4-3.2 4-1.8 4-3.8 4-2 4-3.1 4-1.8 4-1.9 4 .7 4-.7 4-2.4 4 0 4 .2 4-1.3 4 .3 4-1.2 4 1 4-3.7 4-3.8 4-4.3 4-5.3 4-5.3 4 .6 4-.1 4-.1 4-.1 4-4.9 4-8.7 4-9.6 4-7.3 4-2.1 4-1.9 4-3.9 4 .2 4-2.1 4 1.7 4 .1 4-2.5 4-6.4 4-4.3 4-7.5 4-4.4 4-5.8 4-7.3 4-3.2 4 .7 4 .6 4-1.6 4-4.5 4-6.8 4-3.9 4-2.6 4-4 4-1.8 4-6 4-5.3 4-6.2 4-6 4-5.1 4-3.2 4-2.6 4-2.1 4-2.6 4-2.4 4 .2 4-1.6 4-.8 4-3 4-.7 4 2.9 4-.7 4-3.7 4-1.8 4-.9 4-1.5 4-5.8 4-2.4 4-3.2 4-3.1 4-1.8 4-5.3 4-3 4-1.1 4-1 4-2.8 4-3.1 4-.5 4 .4 4-.2 4-1 4 0 4-3.7 4-5.9 4-4 4-7.4 4-3.5 4-3.1 4-3.2 4-2.6 4-1 4-4.7 4-1.7 4-1.6 4-1.4 4 2.7 4-3.7 4-4.4 4-8.2 4-6.6 4-6.7 4-5.6 4-5.4 4-2.9 4-4.8 4-1.5 4-6.1 4-4.3 4-1.3 4 .8 4-1.9 4-.3 4 .5 4-1.9 4-2.6 4-1.4 4-4.8 4-5.3 4-4.7 4-.4 4-3.6 4 1 4-1.3 4 .6 4-3.7 4-1.3 4-3.8 4-1.9 4 1.5 4-1.3 4 2.6 4-1.7 4 .3 4 .8 4-1 4-4.2 4-4.7 4-4.2 4 .1 4-3.2 4-2.9 4-3.8 4-5.7 4-2.5 4-3.9 4-4.5 4-3.7 4-2 4 .8 4-1 4-3 4-4.2 4-6.5 4-4.8 4-5 4-.5 4 2.3 4-2.8 4-5.2 4-3.1 4-5.1 4-3.7 4 .7 4-3.6 4-1.6 4-.9 4-3.4 4-6.7 4-3.3 4-.3 4-4.2 4 2.2 4-1.5 4-2 4-2.4 4-2.6 4-.8 4-3.5 4-.3 4 .8 4-2.3 4-2.2 4-1 4-2.3 4-1.5 4-1.5 4-1.2 4-6.4 4-2.3 4 .7 4-1.1 4 4.4 4-1.7 4-4.7 4-6.8 4-2.8 4-1.3 4 .3 4-2.5 4-4.8 4-1.7 4 3.2 4-.2 4-1.1 4-7.4 4-6.1 4-4 4-3.1 4-1.6 4-.7 4-.8 4-5.4 4-6.2 4-4.8 4 6.5 4-2.1 4-4.6 4-5.2 4-4.7 4-1.4 4-1 4-.1 4-1.8 4-6.4 4-2.7 4-8.7 4-.7 4 4 4 7.2 4-1.9 4-2.9 4-5.9 4-1.5 4-4.7 4 .9 4-1.4 4 .7 4-3.3 4-1.1 4-1.3 4-4.1 4-1.1 4 1.8 4 .6 4-2 4-4.2 4-3.9 4-2.2 4-2.2 4-3.3 4-2.2 4-5.5 4 1.1 4-1.4 4 .8 4-1.9 4-2.3 4-2.7 4-5.8 4-5.6 4-1.5 4-1.2 4-.4 4 .8 4-.4 4-.6 4-1.1 4 1.3 4-3.1 4-.5 4-1 4-3.4 4-1.3 4-2.4 4-3.5 4-7.2 4-4 4-.2 4 .9 4-1.2 4 3.7 4-2.5 4-4.6 4-2.6 4-1 4-2.2 4 1.1 4 3 4 .5 4-2.4 4 .7 4 .2 4-3.5 4-.3 4-3 4 1.4 4 .4 4-2.2 4-.9 4-1.1 4-.5 4-4.8 4-3.4 4 2.1 4 2.4 4-.9 4-.1 4-3.5 4-3 4-.7 4-5 4-2.4 4 1.8 4 2.4 4 1.4 4 3.4 4 4 4 5.1 4 .7 4-2.7 4-2 4-2 4 3.4 4 2.7 4-1.7 4-2.4 4-.5 4 6.5 4 6.9 4 4.5 4-.8 4 .8 4 .7 4-.9 4 5.6 4 3.1 4 2 4 3.4 4 3.4 4 4.4 4 3.6 4 3.5 4-2.1 4 2.3 4 1.5 4 1.3 4-.3 4 2 4-.4 4 1.9 4 1.2 4 1.5 4 3.3 4-4.5 4-1.5 4 .6 4 2.6 4 4.5 4 9.8 4 5.9 4-1.6 4-7.3 4-6 4-2.3 4-.6 4 .5 4 2.4 4 2 4-1.4 4-1.6 4-3.2 4 .2 4-.8 4 0 4 .3 4-2.4 4-3.5 4 1.3 4 .3 4 1.1 4 2.3 4-2 4-.6 4-1.3 4-1.3 4 3 4.5 2.5" stroke="#ff00ff"/>
<g stroke="none"><path d="M312 1490.7L348 1490.7L330 1521.7Z" fill="#ff00ff"/><path d="M523.3 1323.5L559.3 1323.5L541.3 1354.5Z" fill="#ff00ff"/><path d="M734.7 1186.7L770.7 1186.7L752.7 1217.7Z" fill="#ff00ff"/><path d="M946 1029.6L982 1029.6L964 1060.6Z" fill="#ff00ff"/><path d="M1157.3 900.1L1193.3 900.1L1175.3 931.1Z" fill="#ff00ff"/><path d="M1368.7 761.6L1404.7 761.6L1386.7 792.6Z" fill="#ff00ff"/><path d="M1580 648.2L1616 648.2L1598 679.2Z" fill="#ff00ff"/><path d="M1791.3 561.8L1827.3 561.8L1809.3 592.8Z" fill="#ff00ff"/><path d="M2002.7 596.7L2038.7 596.7L2020.7 627.7Z" fill="#ff00ff"/></g></g>
<g><path d="M330 1502.9l2 .1 2-.8 2-2.8 2 0 2 2.8 2 .6 2 .4 2-.3 2 2 2-.8 2 2.4 2-1.9 2 .8 2-.9 2 .8 2-2.8 2 1.6 2 .6 2-.4 2 1.4 2-.1 2 .8 2-.6 2-2.2 2 .3 2 2.5 2-3.4 2-1.1 2-1.3 2 .4 2-1.5 2 .5 2-1.2 2-.6 2-.9 2-.5 2-.4 2-2.4 2-1.2 2 .4 2-2.3 2-1.5 2 1.6 2 1.6 2-.9 2-.4 2 .1 2-.5 2 .6 2-1.9 2 1.1 2-1.1 2-.9 2-2.6 2-.1 2 .6 2-3.3 2-.1 2 .7 2-1.7 2 .7 2-.9 2-1 2-1.1 2-1.5 2-2.3 2-.1 2-.5 2-.4 2-.8 2-1.6 2 .8 2 .2 2-.7 2 1.8 2-1.7 2-.7 2 .6 2-5 2 .7 2-1.7 2 .3 2-1.5 2 .3 2-1.3 2 0 2-1 2-.8 2-.6 2-2 2-4.6 2-.9 2 3.1 2-3.2 2 2.6 2-4.2 2-.3 2-.7 2-2.1 2-2 2 .4 2-1 2 .7 2-1.9 2-1.7 2-.7 2-2.7 2-.7 2-5.2 2-3.7 2-3.4 2-2.4 2 .4 2-2.2 2-.7 2-4 2-.5 2-2.7 2-2.3 2-1.9 2-4 2-1.8 2-4.4 2-3.4 2-.7 2-4.3 2-1.5 2-4.5 2 0 2-2.2 2-2.3 2-1 2-2 2-1.8 2 .2 2-2.8 2 .4 2-1.6 2-2.7 2-1.8 2 0 2-2.3 2-1 2 .5 2-2.3 2-3.1 2-3.9 2-3.5 2-2 2-5.5 2-.8 2-2.4 2-3.2 2-1.3 2-.3 2-2 2-2.6 2-5.8 2-1.9 2-4 2-.9 2-3.5 2 .3 2-1.6 2-2.4 2-2.4 2-2.7 2 2 2 .6 2 1.8 2-.7 2-.8 2-2.3 2-2.6 2 1.4 2 .6 2-.2 2-.1 2-.5 2-1 2-3.3 2 .3 2-.8 2-.2 2 .4 2 .4 2 5.2 2 2.7 2 3.1 2 0 2-2.1 2-3.4 2-2 2-.2 2-1.3 2-1.6 2-1.4 2 2.9 2 .2 2-1.1 2 0 2-1.6 2 1.8 2-.8 2 3.3 2-.8 2 1 2-.7 2 1.6 2 5.2 2-.5 2 1.5 2 1.2 2-.7 2 .8 2 1.4 2-.2 2-.3 2 .5 2 1.3 2 .4 2 2.1 2 .2 2-.2 2-.7 2-1 2-1.1 2 0 2-.6 2 2.8 2 .8 2-.3 2-1.3 2-3.3 2-.1 2 0 2 .1 2-1.2 2-2.6 2-2.2 2-2.8 2-2 2-2.1 2-2.7 2 .9 2-3.8 2-.8 2-1.7 2 1 2-1 2-.6 2-1.5 2 .8 2-1.3 2-.8 2-.4 2-.8 2 .3 2-1 2-.5 2 .2 2-2.2 2-2.4 2-3.1 2-4.2 2-2.7 2-2.4 2-2.3 2-3.5 2-2.6 2-.4 2-.3 2-2 2 0 2-2.1 2-.8 2-3.1 2-.9 2-.8 2 .2 2-.3 2-3.6 2-.7 2-4.3 2-2.2 2-.1 2-1.8 2-4.5 2-3.1 2-3.7 2-1.5 2 .5 2 .2 2-1.1 2 2.3 2-1.2 2-2.8 2 1.5 2-1.3 2-2.1 2-3.2 2 1.2 2-1.2 2-.3 2-.6 2-1.2 2-2.4 2-1.6 2 .6 2-1 2-.8 2-.6 2-2.1 2-3.5 2 0 2 0 2 1.7 2-2.8 2-3.1 2-.2 2-1.8 2-2.1 2-1.9 2-.2 2-1 2-.5 2-.8 2-.1 2-1.9 2 .9 2-1.9 2 1.6 2-.6 2 .5 2-4.3 2 1.2 2-2.5 2-1.4 2-1.1 2-1.8 2-.9 2 .2 2 0 2-1.6 2-1.3 2-.3 2 0 2 .2 2 .2 2-1.7 2 0 2-.5 2-1.1 2-3.1 2 2.1 2-.6 2-1.1 2-1.2 2 .6 2-2.3 2 .3 2-1 2-.8 2-2.5 2-1.1 2-1 2-3.6 2 .6 2-.7 2 .5 2-1.8 2 .2 2 .3 2-.7 2-6.1 2-.6 2-3.8 2 0 2-3.2 2-1.1 2-1.2 2-2.6 2-.2 2 .1 2-2.3 2-2.1 2-2.2 2-.4 2-2.2 2-.7 2 1.6 2-.9 2-3.3 2 .2 2 .2 2-.9 2-1.3 2-1.9 2-.3 2-.5 2 .7 2-2.5 2-1.4 2-1.4 2 1.5 2-4.1 2-.8 2-2.6 2-1.5 2-1.2 2-1.8 2-1.7 2-.3 2-.6 2-3 2-1.6 2 .7 2-.5 2 .2 2-1 2-.4 2-.9 2-.3 2 .3 2 .5 2-1.7 2 1.6 2-.5 2 .6 2-1.7 2-1.4 2-3.4 2 .2 2 2.1 2-1.4 2 .9 2-.9 2 2.5 2-.7 2-4.8 2-2.2 2-3.9 2-3.5 2-1.7 2 .4 2-2.4 2 .7 2-2.5 2 1.6 2-2.1 2-.6 2 .5 2-3.5 2 1.7 2-.8 2 .2 2-1.7 2-2.5 2-.6 2 .1 2-.3 2-1.1 2-2.4 2-.7 2 .4 2-.8 2-2.3 2-.8 2 .1 2-2.4 2 .8 2-.9 2 2.1 2-3.5 2-2.6 2 .8 2 .7 2-4.3 2 0 2 .2 2-1.2 2-1.4 2-1 2 0 2-.6 2-1.3 2-.6 2 .2 2-2.8 2 .9 2 0 2-1.4 2 .7 2-1.9 2-.5 2-1.8 2-1 2 .5 2-.5 2-1.1 2-1.2 2 2 2-3.9 2-3.2 2 .2 2-3.6 2-.3 2 .5 2-1.3 2 1 2-1 2-3.4 2-1.8 2-1.7 2-1.3 2-3.2 2 0 2-2.6 2-2.7 2-2.1 2-1.7 2 1.6 2-1.3 2-1.2 2-1.1 2-.8 2-1.8 2 1 2-2.1 2-.8 2-1 2-2.1 2 .2 2 0 2-2.7 2 .3 2-.3 2 .4 2-2.3 2-1.5 2-1.6 2-.3 2-.6 2 1.3 2-2.2 2-1.3 2-.7 2-3.2 2 .1 2-2.7 2 .1 2-.6 2-3.8 2-2 2-1 2-.1 2 1 2 .7 2-1.8 2-.3 2-3.5 2 1.5 2-1.2 2-2.4 2-.8 2 .2 2-.6 2 0 2-2.1 2 0 2-2.3 2-3.3 2-1.3 2-2 2 .1 2-3 2 .4 2-.9 2-1.3 2-1.2 2 .6 2 .3 2 .5 2-1 2-2.4 2 .8 2-1.1 2-3.2 2 1.7 2-3.5 2-3.9 2-.6 2 .4 2 .1 2-3.2 2-.9 2 1 2-.2 2-1.6 2 .9 2 .4 2-1.2 2-.3 2-.9 2-.6 2-1.3 2 .5 2 2.1 2-.9 2-.9 2 1.5 2-2 2-.1 2-1.7 2 1 2-3.1 2-2.4 2-1.2 2-.2 2-2.3 2-1.3 2-1.1 2-1.6 2-.8 2-1.1 2 .8 2 .2 2-.2 2-.2 2-1.5 2-.7 2 2.1 2-1.3 2 .5 2-.8 2-1.1 2-.4 2-3.2 2-.9 2-1.2 2 .4 2-.3 2-1 2-1.4 2 1.4 2-2.4 2 .7 2-1.1 2-5.6 2-5 2-1.3 2-3.4 2-1.1 2 .2 2-1.7 2-2.5 2 .6 2-2.2 2 .6 2-.6 2-2.6 2-3.6 2-2.8 2-1.9 2-1 2-3 2 1.9 2-2.6 2-.2 2 1.3 2-1.1 2-3.1 2-2 2-1.1 2-1.8 2 .7 2-.5 2 1.6 2-1.2 2 1.6 2-1.4 2 .3 2-.3 2-1 2-1.5 2 0 2-.6 2-5.5 2-4.3 2-.2 2-.6 2-.8 2 .6 2 1.6 2 2 2 1 2-.2 2-1.8 2-.4 2-.2 2-2.1 2-2.7 2-.6 2-3 2 1.2 2-1.8 2 .6 2 1.8 2 1.8 2-4 2-.2 2 .3 2 1.7 2-1.3 2 1.9 2-1.1 2-4.2 2-4.6 2-1.5 2-2.9 2-.9 2-1 2 .8 2 1.6 2-1.1 2 .1 2 4.2 2-.7 2 1.5 2-1.3 2-1.2 2 .3 2 1.6 2-1 2 .1 2 .5 2-.4 2-2.2 2-1.5 2-.3 2-.7 2 .1 2-1.6 2 0 2-1.4 2-1.5 2 .9 2 .5 2-1.3 2-1.5 2-1.5 2-.1 2-.9 2-3.2 2-1 2-1.8 2-1.5 2-1.2 2-1.2 2 1.7 2-3.5 2-.6 2 .3 2-1.1 2 2.5 2-1.4 2-4.1 2 1.4 2 .1 2 1.9 2 .4 2-.9 2-.6 2-1.6 2-3.6 2-2.1 2 .6 2-1.5 2-1.7 2 .3 2 .1 2-1.2 2-.9 2-1 2 1.1 2-1.2 2-.8 2 2.4 2 1.8 2-1.1 2 1.6 2-3.8 2-2 2 .7 2-.5 2-2 2 .5 2-1.1 2 .7 2-1.4 2 .9 2 .9 2-1.8 2-1.4 2 .7 2 1.9 2-1.2 2 .2 2-.3 2-.5 2 .1 2-.6 2 1.2 2-1.8 2-1.1 2-1.4 2 1.3 2-1.8 2-1.4 2 2.2 2-.9 2-1.1 2 1 2 .8 2 2.2 2 .2 2-2.8 2-1.5 2-1.5 2-.6 2 .8 2-2.8 2 1.8 2 2.6 2 4 2 3.1 2 3.3 2 3.1 2 2.9 2-3 2 .6 2-1.5 2 3.2 2-2 2 .2 2-2.1 2-2.1 2 .4 2 2.7 2-.3 2 .6 2 2.1 2-1.7 2 .8 2 2.1 2 2.9 2 .9 2 1.9 2-1.7 2-1.7 2 2.4 2-.3 2 1.2 2 1.9 2-.5 2 1.1 2-.9 2 1.2 2-1.2 2 .8 2 1.3 2 1.8 2 .5 2 4 2 1.9 2 3.4 2-1 2 1.5 2 1.9 2 1.7 2 2.3 2 2.8 2 1.1 2 1.3 2-.7 2-1.5 2-.3 2 1.8 2 1 2-1 2-.1 2-1.2 2 2.7 2 4.2 2 2.9 2-1.7 2 1.7 2-1.8 2-4.7 2 2.8 2-.8 2 4.1 2 1.4 2 2 2-.8 2 1.2 2 1 2 1.1 2 3.2 2 1.4 2 1.8 2 1.7 2 .9 2 .4 2-1 2 1.7 2-2.3 2 2.5 2-1.6 2 2 2 2.1 2 1.4 2 1.7 2-.5 2-1.6 2-3.2 2 1.3 2 .1 2-3.2 2-.9 2 .8 2 2.6 2 1.6 2-.2 2 2.6 2-.6 2-2.1 2 1.6 2 .3 2 .1 2 1.3 2-1.6 1.6-.6 0 7.8 -1.6 1.5 -2 2 -2-1.8 -2-.8 -2 1.7 -2-.6 -2 .4 -2 1 -2-2 -2 1.1 -2-3.8 -2 .1 -2-2.5 -2 1.5 -2 2.3 -2-1 -2 .9 -2 1.7 -2 .9 -2 .1 -2 1.7 -2-3 -2-3 -2-2 -2 2.8 -2-1.9 -2 .6 -2 .6 -2-.7 -2 .7 -2-3 -2 .3 -2-1.5 -2-2 -2-1.4 -2-2.9 -2-.8 -2-.7 -2-1.9 -2-.4 -2-.5 -2-3.3 -2-2.6 -2-.8 -2 3.2 -2 2.5 -2-1.5 -2 2.3 -2-1.8 -2-3.2 -2-4.8 -2-.2 -2 1.6 -2 .3 -2-2.1 -2-1.2 -2-.5 -2 1.1 -2 1.8 -2-.2 -2-.2 -2-2.5 -2-1.2 -2-1.4 -2-2.9 -2-2.5 -2 .2 -2-3.4 -2-.8 -2-2.7 -2-1.4 -2-2.6 -2-3.8 -2 1.4 -2 1.1 -2-.8 -2-.1 -2-1.4 -2-.7 -2 1.1 -2-1.3 -2-1.4 -2-1.7 -2 2.2 -2 .3 -2-1.6 -2-1.1 -2-1.6 -2-2.4 -2-1.1 -2 1.3 -2-.7 -2-1.1 -2 .8 -2-4.7 -2 1.2 -2 2.5 -2 .9 -2-.3 -2 .8 -2-2.7 -2 1.9 -2 .2 -2 1.9 -2-1 -2-2.1 -2-2.5 -2-1.3 -2-3.4 -2-5.5 -2-3.1 -2 1.5 -2-1.3 -2 1.3 -2 2.5 -2 1.5 -2 2.2 -2-1.8 -2-.9 -2-1.6 -2-.3 -2 .5 -2-.6 -2 .7 -2-.7 -2 2.7 -2-1 -2 2.1 -2 .3 -2 .2 -2 .5 -2-.1 -2 0 -2 .9 -2 .2 -2 .1 -2 .8 -2-1.2 -2-.5 -2 1.1 -2 1 -2 .2 -2-2.2 -2 1.3 -2 0 -2-.6 -2 1.6 -2 2 -2 1.7 -2-1.6 -2 1.1 -2 2.8 -2 .8 -2 .2 -2-1.5 -2-3.3 -2 1.4 -2-.6 -2-.8 -2 2.4 -2 .8 -2 1 -2-.2 -2-.3 -2 .5 -2 1.9 -2 3.3 -2 .8 -2 3.4 -2 .7 -2-.4 -2 2.4 -2-2.1 -2 .2 -2-1.6 -2-1.1 -2 3.2 -2 1.5 -2-2.4 -2 .9 -2 1 -2 .2 -2 1.8 -2 .5 -2 .3 -2 2.9 -2 1.8 -2-.3 -2 2.8 -2 2.7 -2 .4 -2 .5 -2 1.5 -2 0 -2 .7 -2 1 -2-.9 -2-.1 -2 1.4 -2 .6 -2 3.4 -2-1.6 -2 .6 -2 2.7 -2 0 -2 1.7 -2 .1 -2-.5 -2 .4 -2 .5 -2-1.6 -2 .6 -2-.3 -2 2.5 -2-2.1 -2 1.4 -2-2.9 -2-.5 -2-.4 -2-1.8 -2 .8 -2 1.1 -2 1.4 -2 4.8 -2 2.2 -2 2.9 -2 3.3 -2 .1 -2-2.4 -2 .6 -2-1.4 -2-1.5 -2 1 -2 3.1 -2-1.7 -2-.2 -2-2.3 -2 3.3 -2 1.1 -2 1 -2 .9 -2 3 -2 1 -2 1 -2-1 -2 3.6 -2 .3 -2-.4 -2-2.9 -2-1.1 -2-.5 -2-1.1 -2 .7 -2 3.9 -2 5 -2 2.7 -2 .4 -2-1.7 -2 1.1 -2 2 -2 1 -2-.1 -2-.3 -2-.2 -2 0 -2-.2 -2-.6 -2 .5 -2 1.1 -2 1.7 -2 2.9 -2 1.7 -2 1.4 -2-1 -2-.6 -2 1.1 -2-.2 -2 4.1 -2 2.6 -2 3.7 -2-.1 -2 3.4 -2 1.3 -2 1.2 -2-.9 -2 1.9 -2-1 -2 2.8 -2 1.5 -2 2.2 -2 2 -2 3.4 -2 3.5 -2 4.4 -2 3.3 -2-.2 -2-1.9 -2 2.7 -2-1.6 -2 2 -2-.3 -2 1 -2 .8 -2-.6 -2 4 -2 .7 -2 1.4 -2 .4 -2-.8 -2 .5 -2 .1 -2-.9 -2 1.5 -2 .8 -2 .3 -2-.8 -2 .2 -2 .2 -2 1 -2 2 -2-1.1 -2 2.2 -2 2.2 -2 2.6 -2 .4 -2 2.4 -2 1.8 -2 1.2 -2-2.9 -2 2.9 -2 .2 -2 2.9 -2-.9 -2-.6 -2 .5 -2-1 -2-.4 -2 1.4 -2 .8 -2-1 -2 2.2 -2 .6 -2-1.9 -2 2 -2-1.5 -2 .8 -2 .9 -2 1.2 -2 1.5 -2 .8 -2-1.5 -2 3.7 -2 2.1 -2 4.3 -2-2.1 -2 1.5 -2 1.6 -2 .4 -2 2.7 -2-.9 -2 .8 -2-.4 -2-.9 -2 .4 -2 1.3 -2 2 -2 0 -2 2.7 -2 .9 -2 3.7 -2 .9 -2 1.3 -2 4.1 -2-1.6 -2 1.8 -2-.9 -2 .7 -2 .2 -2-.2 -2 3.8 -2-.2 -2-1.6 -2 2.8 -2 2.7 -2 .7 -2 0 -2-1.3 -2 .3 -2 .8 -2 4 -2 2.2 -2 1 -2-.1 -2 2.4 -2 .2 -2 3.6 -2-.6 -2 1.4 -2 .5 -2 1.4 -2-.6 -2-.1 -2 2.5 -2 2 -2 2.9 -2-2.3 -2 0 -2 1.3 -2 1.7 -2-.2 -2-.1 -2 2.9 -2-.1 -2 1 -2 1.6 -2 .6 -2 .2 -2 2.7 -2-.5 -2 1.1 -2 1 -2 .1 -2 1.9 -2 2.3 -2 2.7 -2 2.8 -2-.2 -2 2 -2 2.4 -2 2.6 -2-.3 -2 3.8 -2 .2 -2-.8 -2 .5 -2 .9 -2 1.2 -2 3.2 -2 1.3 -2 3.2 -2 1.3 -2-1.4 -2-.2 -2 2.3 -2 .8 -2-.1 -2-.4 -2 4.1 -2-.7 -2-.1 -2 .9 -2 .1 -2 .4 -2-.8 -2 3.6 -2-.1 -2 .1 -2 2 -2 .8 -2 .9 -2-.3 -2 .8 -2 2 -2-1.1 -2 1.4 -2 3.3 -2 .7 -2-1.5 -2 2.1 -2 3.3 -2-2.3 -2-.6 -2 .9 -2 2.6 -2 .2 -2 1.3 -2 2.1 -2-1.9 -2 3.2 -2 .4 -2 1.2 -2 .6 -2 1 -2 .3 -2 1.4 -2 1.5 -2 1.2 -2 1.2 -2 .6 -2-1.8 -2 2.8 -2-2.6 -2 1.6 -2 1.9 -2 .1 -2 1.9 -2-.9 -2 1.4 -2 2.8 -2 1.5 -2 4.7 -2 3.7 -2 1.6 -2 1.1 -2 .7 -2-1.7 -2 0 -2-.7 -2 1.9 -2-.9 -2-.3 -2 4.5 -2 .2 -2 1.1 -2 0 -2 .3 -2-2.8 -2 2.8 -2-1.7 -2 1.7 -2 .3 -2-.4 -2-1.2 -2 3.4 -2-.1 -2 1.2 -2-1.8 -2 1.2 -2 3.2 -2 .8 -2-.3 -2 2.5 -2 1.6 -2 2.1 -2 1.7 -2 4.2 -2-1.1 -2 3.6 -2 .1 -2-.1 -2 2.7 -2-.8 -2 .8 -2-1.3 -2 3.4 -2-.1 -2 2 -2-1.3 -2 .9 -2 .7 -2 3.5 -2 2.1 -2-2.5 -2 1.7 -2 1.6 -2 .7 -2 1.8 -2 .6 -2 3.2 -2-.7 -2 2 -2 2.3 -2 1.3 -2 1.3 -2 3.6 -2 1.2 -2 2.4 -2 2.9 -2 2.5 -2 1.1 -2 .2 -2-1.6 -2 1.8 -2 1.1 -2 .1 -2 .1 -2 1.7 -2 2.8 -2 .5 -2 1.5 -2 1.5 -2 1.2 -2 .5 -2-.2 -2-.2 -2 .8 -2 1.6 -2 .7 -2-.7 -2 2 -2 1.6 -2-.5 -2 0 -2 1.6 -2 .8 -2 0 -2-.7 -2 .4 -2 1.8 -2 2 -2-.3 -2 .7 -2-1.2 -2 3.6 -2 2.5 -2 .5 -2 1.1 -2 .4 -2 2.1 -2 .2 -2 .5 -2-2.2 -2 3 -2 .5 -2-.4 -2 1.3 -2 .3 -2-1.4 -2 3.9 -2 1.7 -2-.5 -2 2.3 -2 2.2 -2 1.4 -2 1.4 -2 3.4 -2-4 -2 .3 -2 .4 -2 3.9 -2 2.4 -2 .2 -2 .4 -2 1.2 -2 1.6 -2 .7 -2 2 -2 1.4 -2-.8 -2 .8 -2 .3 -2 1.8 -2 1.4 -2 2 -2 .2 -2 .8 -2 1.6 -2 .1 -2-.7 -2 .1 -2-.5 -2 2.3 -2 1.8 -2 4.7 -2 3.3 -2 1.8 -2 1 -2 1.2 -2 2.8 -2 4.4 -2 1 -2 .7 -2 1.8 -2-.2 -2-.4 -2 2.1 -2 3.5 -2-.2 -2 2 -2 .8 -2 2.2 -2 1.7 -2 1.5 -2 .7 -2 6.1 -2 .7 -2 3.1 -2 2.6 -2 5.1 -2 .8 -2 1.5 -2 1.8 -2-1 -2 .5 -2 1.7 -2-.9 -2 1.7 -2-.6 -2-.4 -2 3.1 -2-.7 -2 2.9 -2-1.8 -2 3.2 -2-2.2 -2 1 -2 3.5 -2 3.1 -2-1.2 -2 3.7 -2 .8 -2 4 -2 2.4 -2 2.4 -2-.8 -2 1.1 -2-.5 -2 .3 -2 2.9 -2 1.7 -2 .6 -2 .7 -2-.8 -2-1.9 -2-.9 -2-.9 -2 1.1 -2 3.8 -2-1.1 -2-.8 -2 1.9 -2-2.2 -2-2 -2 .9 -2-1.3 -2-.8 -2 1.1 -2-1.5 -2-.9 -2-.7 -2 1.4 -2-.7 -2-1.4 -2-3.9 -2-2.2 -2 .7 -2-3.3 -2 1.2 -2-2.4 -2 .6 -2-1.4 -2 1.1 -2 1.7 -2 .2 -2-2.1 -2-.5 -2 .5 -2 3 -2-1 -2 1.9 -2 2.5 -2 1.2 -2 2.2 -2 .8 -2-1.5 -2-1.9 -2-4.2 -2-2.2 -2-2 -2 .9 -2 1.2 -2-1.5 -2 2.9 -2 1.9 -2 .4 -2-.3 -2 .2 -2-.1 -2-.6 -2 2.1 -2 2 -2-.1 -2 .8 -2-.9 -2-1.1 -2-2 -2 3.6 -2 3.3 -2 .9 -2 1.5 -2 .8 -2 3.9 -2 4.4 -2 2.1 -2 3.5 -2 1.9 -2 3.5 -2 1.2 -2 1 -2 1.4 -2 3.7 -2 3.1 -2 2.4 -2 4.6 -2 2.9 -2 3.1 -2 2.6 -2 .8 -2 2.1 -2-1 -2 1.3 -2 1.4 -2 2.5 -2 1.4 -2 1.2 -2 1.6 -2 1.4 -2 1.1 -2-.4 -2 3.2 -2 2.7 -2 0 -2 3.6 -2 3.2 -2-1.6 -2 4.8 -2 4.7 -2 1.4 -2 3.2 -2 1.9 -2 4.9 -2 2.9 -2 2.1 -2 .7 -2 2.3 -2 3 -2 1.1 -2 2.1 -2 .8 -2 2.5 -2 1.3 -2 4.1 -2 5 -2 1.4 -2 3.7 -2 .5 -2 2.1 -2-.1 -2 1.5 -2 2.5 -2-.7 -2-1 -2 1.9 -2 .9 -2 2.7 -2-.6 -2 1.5 -2 3.4 -2-1.1 -2 .3 -2-1 -2 .7 -2 4.6 -2 2.1 -2-.4 -2 1 -2 1.1 -2 0 -2 .8 -2 1.4 -2 .5 -2 .3 -2-.1 -2 2.1 -2 2.7 -2 .8 -2-.4 -2 1.8 -2-1.2 -2 1 -2-1.3 -2 .7 -2 .5 -2 1.2 -2-1 -2 1.5 -2 1.3 -2 1.4 -2 1.3 -2 1.8 -2 1.2 -2-.4 -2 .8 -2-.1 -2-.1 -2 1.8 -2 2.1 -2-2 -2 .2 -2 3.8 -2 .1 -2-.3 -2 .9 -2 .2 -2 .8 -2-.3 -2 .7 -2-1.3 -2 2.2 -2-2.8 -2-.6 -2 2.4 -2 .6 -2 3.5 -2-1.6 -2 3.4 -2 .2 -2 1.2 -2 .1 -2-1.3 -2 3.7 -2-2.9 -2 2.4 -2 1.3 -2 1.1 -2 .6 -2 1.9 -2-2.9 -2 2 -2 .5 -2 2.5 -2-1 -2-.6 -2-2.6 -2 1 -2-1.3 -2 .3 -2 1.2 -2-1.1 -2 1.1 -2 1.3 -2 1 -2-1.3 -2-2.1 -2-1.1 -2 .6 -2-1.2 -2-.2 -2-1.8 -2-.4 -2 4.3 -2-.9 -2-.1z" fill="#0000a0" stroke="none"/>
<path d="M330 1507.6l4 .1 4-2.7 4 2.2 4-.1 4 2.7 4 .3 4-.8 4-1.7 4 1.9 4 1.4 4 1.2 4-3.2 4 2.3 4-4.2 4-.8 4-.6 4-1.5 4-2.7 4-2 4-2 4-2.8 4 2.2 4 .3 4-1.2 4-1 4-.5 4-3.3 4 1.1 4-3.7 4-.8 4-.2 4-2.2 4-3.8 4-1.2 4-1.1 4 .1 4-1 4 .4 4-1.1 4-4.6 4-.4 4-2 4-.5 4-1.7 4-3 4-4.5 4-.3 4-1.8 4-1.2 4-3.4 4-1 4-1.1 4-2.4 4-3.4 4-6.9 4-6.6 4-2.7 4-4.6 4-3.4 4-4 4-4.9 4-7 4-5.5 4-7.1 4-2.5 4-3.2 4-4.6 4-2.1 4-1.8 4-3.9 4-2.4 4-1.7 4-2.8 4-7 4-7.5 4-4.4 4-4.6 4-2 4-6.9 4-6.3 4-6.2 4-2.7 4-3.4 4-1.6 4 2.3 4-1.6 4-4.1 4 .7 4 .8 4-2.4 4-2.2 4-1.5 4 3.1 4 6.7 4 1.6 4-4.6 4-2.8 4-1.7 4-.2 4 .7 4-1.9 4 1.4 4 1.2 4 1.8 4 5.6 4 1.9 4-.5 4 2.1 4 .5 4 .8 4 3.2 4-1.3 4-1.3 4-.7 4 2 4 1.1 4-3.7 4-2.1 4-1 4-2.3 4-6 4-3.8 4-3.2 4-3.7 4 .2 4-2.3 4-1.1 4-.3 4-.8 4-1.6 4-1.5 4-4.6 4-6.8 4-3.7 4-7.1 4-2.2 4-1.5 4-2.9 4-4.8 4 .1 4-3.1 4-5 4-3.5 4-4.9 4-6.9 4-2.5 4 .2 4 .8 4-2.2 4-2.8 4-2.9 4-1.7 4-.7 4-3.1 4-1.7 4-.7 4-6.3 4-.2 4-1.2 4-3 4-3.3 4-2 4-2.1 4-1 4-.5 4-1.2 4-.3 4-2.4 4-2.8 4-4.4 4 .2 4-1.7 4-1.5 4 0 4-2.7 4 .6 4-3.7 4 .6 4-2.9 4 0 4-1.1 4-4.1 4-1.7 4-3.3 4-.9 4-.3 4-1.1 4-5.9 4-3.8 4-3.5 4-3.9 4-1.3 4-4.4 4-2.7 4-2 4-.9 4-2.7 4-1 4-1.8 4-1.7 4-.7 4-2.7 4-2.5 4-3.3 4-3.9 4-3.2 4-1.4 4-3.7 4-.4 4-1.9 4 .2 4-.8 4-1.4 4 1.9 4-1.8 4-3.7 4 1.2 4-1.1 4 1.9 4-3.3 4-6.2 4-5.1 4-3.3 4-1 4-1.4 4 .2 4-1.8 4-1.1 4-3 4-.7 4-3 4-1.5 4-1.5 4-3.4 4-2.2 4 1.2 4-2.3 4-1.6 4-3.8 4-.1 4-2.5 4-.3 4-1.6 4-1.7 4-2.3 4 0 4-1.6 4-2.6 4-.2 4-1.5 4 1.1 4-5.7 4-4.2 4-.8 4-.5 4-4 4-2.9 4-4.7 4-2.9 4-4.1 4-2 4-1.6 4-1.7 4-1.6 4-2.2 4-2.7 4-1.2 4-1.7 4 1.2 4-4.4 4-3.2 4 .9 4-1.9 4-3.3 4-3.7 4-.9 4-5.4 4-1 4 .9 4-2.4 4-1.8 4-3.7 4 .4 4-.8 4-1.1 4-5.2 4-3.7 4-3 4-2.3 4-2.5 4 1.4 4 0 4-2.1 4-3.1 4-2.3 4-5.5 4 .8 4-4.2 4 .2 4-.8 4-.1 4-.6 4-1.8 4 1.4 4-.6 4-1.2 4-2.5 4-.2 4-3.3 4-3.6 4-3.1 4-1.1 4-.6 4 .1 4-2.5 4 1 4-.4 4-.9 4-3.2 4-2.8 4-.1 4-2.8 4-.1 4-.1 4-8.6 4-6.1 4-3 4-3.3 4-1.3 4-.7 4-4.9 4-4.7 4-5.1 4-.5 4 .3 4-3.3 4-3.1 4-2.1 4 1.4 4-.5 4-.2 4-1.9 4 .4 4-5.1 4-6.8 4-.6 4 2.8 4 2.2 4-2.4 4-1.1 4-4.2 4-2.5 4-2.8 4 3 4-1.5 4-.3 4 1 4 .9 4-7.3 4-5.1 4-2.9 4 1.4 4 .3 4 2.9 4-.1 4-.2 4 .8 4-.4 4-2.5 4-1.3 4-1 4-2.4 4-1.2 4-.3 4-1.1 4-1.8 4-3.3 4-3.4 4-3.5 4-.2 4-3.8 4-.4 4 .3 4-1.8 4 1.5 4-.2 4-1.4 4-5.3 4-2.8 4-.4 4-1.2 4-2.6 4 .4 4 1.8 4 1.3 4-2.8 4-1 4-3 4 0 4-1.2 4 1.3 4-2.8 4 2.4 4-.1 4-1.7 4-.1 4-1.1 4-3 4-.1 4 .5 4-1.3 4 1.8 4 2.3 4-3.9 4-2.7 4-.7 4 6.1 4 6.6 4 5.4 4-.7 4-1 4 1.6 4-1.7 4-2.5 4 1.9 4 2.6 4 .4 4 3.6 4 2.5 4-1.9 4 1.9 4 1.7 4 2 4 .3 4-1.4 4 4.2 4 4.4 4 5.2 4 1.2 4 4 4 3.7 4 1.9 4-2.1 4 .8 4 1.2 4-.5 4 6.5 4 .6 4-.7 4-2 4 3.9 4 3.1 4 .6 4 3.8 4 3.3 4 2.6 4 2.6 4-.4 4 .5 4 .5 4 4.5 4-.4 4-4.2 4 1.2 4-3.8 4 2.9 4 2.8 4 .2 4 .5 4-.2 4 0 1.6-1.5" stroke="#0000a0"/>
<g stroke="none"><path d="M340.3 1492L340.3 1528L309.3 1510Z" fill="#0000a0"/><path d="M551.7 1422L551.7 1458L520.7 1440Z" fill="#0000a0"/><path d="M763 1297.8L763 1333.8L732 1315.8Z" fill="#0000a0"/><path d="M974.3 1191.5L974.3 1227.5L943.3 1209.5Z" fill="#0000a0"/><path d="M1185.7 1087.5L1185.7 1123.5L1154.7 1105.5Z" fill="#0000a0"/><path d="M1397 987.1L1397 1023.1L1366 1005.1Z" fill="#0000a0"/><path d="M1608.3 899.5L1608.3 935.5L1577.3 917.5Z" fill="#0000a0"/><path d="M1819.7 809.3L1819.7 845.3L1788.7 827.3Z" fill="#0000a0"/><path d="M2031 777.3L2031 813.3L2000 795.3Z" fill="#0000a0"/></g></g>
<g><path d="M330 1501.5l2-1.9 2 2.4 2-1.4 2 .8 2-.6 2 1 2-3.7 2 1 2 2.9 2-1.9 2-.3 2 0 2-2.6 2-.5 2-1.3 2 1 2 0 2-.9 2 .9 2 .5 2 1.6 2-1.5 2-1.6 2-.3 2 1 2-.6 2-.8 2 1.1 2 .9 2-1.7 2-.1 2-1.3 2-1.9 2-1.1 2 .4 2 .4 2 .5 2-.5 2 0 2 1.3 2-1 2-1 2-.7 2 .7 2 1.7 2-.4 2-1 2 0 2-1.4 2-2.6 2 .8 2-1.6 2-.1 2-2 2 .1 2-1.9 2-.8 2-.8 2-.7 2-1.5 2-1 2 .3 2 .2 2 .5 2 1.4 2-2.1 2-.4 2-.4 2-2.4 2 .2 2-1.4 2 2 2-2.9 2 1.6 2 .1 2-.9 2 .2 2 .1 2-1.7 2-2 2-.5 2 .1 2-.5 2-.4 2 .3 2-2.4 2-1.2 2 .5 2-.7 2-.7 2-.2 2 .4 2-2.8 2-.7 2 .2 2-1.4 2-.7 2 .2 2-.3 2-3.1 2 0 2-1.6 2-1.4 2 .6 2-3.6 2-.3 2-1.1 2-3.3 2 0 2-1.8 2-1.1 2-3.3 2-1.7 2-1.4 2 .2 2-1.8 2-1.4 2-.4 2-.7 2 .5 2-2 2-.6 2 .9 2 .9 2-.8 2 .8 2 1.1 2-2.4 2 1.7 2-2.3 2 .5 2-1.9 2-1.1 2-.3 2-.6 2-.8 2-2.1 2-.9 2-.3 2 .7 2-1.9 2-1.1 2-1.3 2-.9 2-1.7 2-4 2-.6 2 .4 2-2.9 2 .6 2-2.5 2-1.1 2 0 2-4.5 2-2.2 2 .2 2-2.3 2-1 2-.6 2-2.6 2 .9 2-1.2 2 1.5 2 .1 2-1.4 2-2.9 2 .3 2-2.5 2-.5 2-.7 2-.8 2 1.3 2-1.2 2-.2 2-1.1 2-1.8 2-1.7 2-2 2 .8 2-4.9 2-1.4 2 0 2-1.4 2 .1 2 1.8 2-1.1 2-4.6 2 .5 2-.9 2-1.4 2-.9 2-.5 2-1.7 2 1.4 2-.3 2-1.9 2-1 2 .6 2-.7 2 1.9 2-1.7 2-.6 2 1.6 2-2.5 2 .6 2-1 2-1.4 2 .8 2-3.4 2-1.6 2-.6 2 1.5 2-1.6 2-.3 2-1.3 2-2.5 2-.2 2-.6 2-1.7 2 2 2-.8 2-1.7 2-2.8 2 1.2 2-3.4 2-3.3 2 .4 2-1.1 2-.2 2-1 2 1 2 1.1 2-.2 2 .2 2-3.6 2-1.9 2-1.9 2-.4 2-.1 2-2.1 2 .1 2-2.5 2 .1 2-.1 2-.7 2-.2 2 1.6 2-1.2 2-2.2 2-2.2 2-1.2 2-1.3 2-.1 2-2.2 2 .1 2 1.3 2-1.4 2-2.7 2-1.7 2 .6 2-.9 2-.7 2 .3 2-1.5 2 .7 2-.5 2 1.5 2 0 2-.1 2-2.3 2 .5 2-1.5 2-.3 2-1.5 2 .4 2-3.5 2-3.1 2 .8 2-.5 2-1.3 2 .9 2-.9 2-1.4 2 1.6 2 0 2-1.6 2-5 2-2.7 2-1.9 2-1 2-2.3 2-.8 2 .4 2-1 2-2.9 2-1.7 2-2 2-1.1 2-2 2-5.1 2 1.4 2 0 2-3.4 2 .7 2-1.9 2 2.8 2-1.3 2-1.1 2 3.1 2-.9 2 1.5 2 .5 2 2.6 2-1.8 2 .1 2 .3 2 2 2 0 2-3.6 2-3.1 2-4 2-.7 2-2 2 .1 2-.4 2-2.2 2-3.6 2-3.3 2-.6 2-1.5 2 1.4 2-1.8 2-2.5 2-.7 2-1.9 2 1.2 2 0 2-1.7 2 .9 2-2.1 2-.1 2-1.5 2-3.6 2-.2 2-1.2 2 .2 2-1.7 2-1.9 2 .2 2-.1 2 0 2-1.7 2-.4 2-.6 2-1 2-3 2 .2 2-.8 2-4.5 2-2.4 2-.8 2 2 2 .5 2-1 2 .1 2-.5 2 .6 2 1.5 2 2.3 2 .4 2-1.3 2 0 2-2.9 2-2.9 2 .5 2-2.9 2 1.7 2-.7 2-.2 2-3.1 2 1 2-2.9 2 0 2 .8 2-2 2-1.5 2 .7 2-.6 2-1.3 2-.3 2-.9 2 .7 2-2.8 2-2.6 2 .1 2 .8 2-1 2 1.7 2-2.1 2-1.2 2-1.1 2 .8 2 .1 2 .3 2 1.3 2-.9 2 .7 2-3.8 2-.4 2-3.5 2 2.2 2-1.2 2-1.6 2 1.8 2 .1 2-1.9 2-.6 2-.8 2 0 2-.2 2 2.6 2 .9 2-2.5 2-.2 2-2 2-3.2 2 .6 2-3.2 2-.8 2-1.2 2-.4 2-.2 2-.3 2-1.9 2-.6 2 1.1 2 1 2-.1 2-.3 2 .8 2-3.1 2-4.6 2-2.8 2-3.6 2-2.9 2-2 2-2.4 2-1.6 2 1.1 2-2.3 2-2.9 2 1.3 2-.2 2 3.4 2-3 2 4.1 2 .3 2-.7 2-2.8 2-3 2-3.9 2-1.3 2-1.3 2 .4 2-2.3 2-1.6 2-1.4 2 1.4 2-1.5 2-2 2 .7 2-3.5 2 1.4 2 .5 2-.8 2-1.8 2 .5 2 0 2-1.3 2 1.3 2-1.4 2 0 2 2.3 2-.6 2-1.6 2 1.7 2-1.8 2 .5 2-1.9 2-2.6 2 .2 2-1.5 2-3.7 2-.3 2-3.1 2-2.4 2-1 2-.3 2 .2 2-.5 2 1.2 2 .6 2 .7 2-1.1 2 3.7 2 1.9 2-2.8 2 1.9 2-1.6 2-.9 2 .5 2-1.4 2-2.4 2-.8 2-.2 2-1.8 2 .6 2-1.1 2-.4 2-.2 2-2.6 2-.6 2-2 2 1 2-1 2-1.2 2-1.7 2-.8 2 2.3 2-2.4 2-.3 2-2.2 2 3 2-.7 2 .4 2-2.1 2-3.6 2 1 2-2.5 2-2 2 3.2 2-1.8 2 .9 2-.1 2-4.3 2-1.2 2 .9 2-2 2-.3 2-2 2-3 2-3.2 2-.2 2 .4 2 2.3 2-.5 2-1.4 2 1.9 2 .6 2-.3 2 .7 2 1.2 2-4.9 2-5.1 2-2.6 2-2 2-1.4 2-2.8 2-1.6 2-.1 2 .5 2-.1 2 1.3 2-.4 2 .3 2 1.3 2-.3 2-2.7 2-1.6 2-.6 2-1.7 2 .5 2-1.3 2 1.4 2 1.3 2-1.4 2-.4 2-3.9 2 .7 2-4.6 2-1.5 2-2.8 2-1.2 2 .8 2-2 2 .7 2-2.5 2-.7 2-.4 2-2.8 2-1.3 2-2.4 2-2.5 2 1.1 2-1.4 2-1.5 2 .9 2 .7 2-1.2 2 2.3 2 2.4 2-.5 2-.1 2 1.5 2 1.2 2-1.9 2 1.1 2-1.9 2 1.7 2-1.9 2 0 2-3.7 2 1.7 2-1.3 2-.2 2-.4 2-1 2-1 2-1 2-1.3 2-.7 2-.2 2-1.8 2 1.8 2-.8 2-2.7 2-1.6 2-1 2-.1 2-2.3 2 .8 2-3.1 2 .4 2-.4 2-1.6 2-.5 2 .4 2-.1 2 .4 2-.6 2 2 2 1.9 2 2.7 2-1 2-1.3 2-1.8 2-.5 2 .1 2-2.9 2-.8 2-3.3 2 1.8 2-3.2 2 1.3 2-1.1 2-2.7 2-2.7 2-1.1 2-1.6 2 .1 2-3.1 2-1.6 2-2.8 2-1.7 2-2.7 2 .8 2 2.3 2 1 2 1.8 2 2.7 2 2.8 2-.8 2-4.5 2-.1 2-1.5 2-1.7 2-1.5 2-2.6 2-2.3 2-4.6 2 .3 2 .5 2-1.8 2-.5 2-1.9 2-.4 2-.3 2 .2 2 2 2 .9 2 .3 2 .7 2-2.4 2-2.3 2-.1 2-3.4 2-.7 2 .4 2 1.5 2-4.5 2 .2 2 1.7 2-1.3 2-1.6 2-3.3 2-.3 2-1.5 2 .6 2 .2 2 1.1 2 2.3 2 .6 2 .9 2 1.3 2 .8 2 1 2 1.5 2 1 2-.5 2 2.5 2-1.2 2-2.1 2 1.4 2-2.1 2-1.4 2-3.1 2-.8 2 .3 2-.2 2-1.3 2-1.3 2-1.4 2-.4 2-.9 2-.2 2-3.1 2-1.2 2-2.5 2-1 2-.7 2-1.3 2-.5 2-2.6 2 .5 2 .4 2-.6 2 .7 2 1.4 2 1.5 2 2 2 2.2 2-1.1 2 .7 2 3 2-3.2 2-1.7 2-4 2-3.2 2-1 2-1.6 2 1.8 2-.7 2 3.8 2 .6 2-4.8 2-7.6 2-4.8 2 .1 2 .9 2 2.6 2-2.4 2 1.5 2 2.7 2-1.7 2 .1 2 .8 2 .1 2 2.3 2-2.6 2-2.3 2-6.2 2-.5 2-2 2 1.7 2 .9 2 1 2 2.5 2 1.6 2 2.5 2-1.6 2-3.7 2-1.3 2-3.3 2-.3 2 1.8 2 2 2-.2 2 1.9 2 1.3 2-.7 2 .3 2 .9 2 1 2-1.3 2 1.5 2-.7 2-1.1 2 .4 2-.6 2-.8 2 2.3 2 1.4 2-.4 2 2.6 2 1.8 2-1 2 .3 2-.7 2 2.6 2 4 2-.5 2 2.4 2 .9 2-2.9 2 .7 2 3.3 2 2.4 2 1.4 2-1.8 2-1 2-5.3 2-1.5 2-1.4 2-.6 2 .1 2 .7 2 2 2 .8 2 3.1 2-.8 2 .6 2 .9 2-1.8 2 .6 2-.3 2 1.2 2-3.2 2-.9 2-1.7 2-3.1 2 1.6 2-2.6 2 2.2 2 .1 2-1.7 2-2.2 2 1.8 2-2.4 2 1.8 2 3.2 2 4.4 2-.3 2 2.9 2 .1 2-3.3 2-2.6 2-1.1 2-2.3 2-4.5 2-2.9 2-.4 2-.4 2 2.4 2 .1 2 1.2 2 1.7 2 1.9 2-3.4 2-3.7 2-3.7 2-.7 2-3.8 2-.6 2 2.7 2 .7 2 3.6 2 1 2 2.7 2 .5 2 .6 2 1.1 2 3.6 2 1.6 2 4.3 2 1.6 2-5.9 2-3.9 2-1.9 2-.1 2 3.8 2 1.3 2 2 2 7.2 2 4.4 2-4.9 2 .7 2-2.1 2-1.3 2 0 2-.7 2 .1 2-2.4 2 2.5 2-2 2-1 2 2 2 2.4 2-.7 2 1.7 2 .7 2 1.5 2-.9 2 1.4 2-.3 2-1.7 2 0 2-.4 2 2.8 2 2.6 2 6 2 .7 2 4.1 2-.9 2 2.9 2-.3 2 .1 2-4.7 2-1.6 2-3.6 2-4.6 3.1-2 0 13.3 -3.1 3.4 -2 3.3 -2 4.2 -2 1.7 -2 2.5 -2-.9 -2-.2 -2-.7 -2-.8 -2-1.7 -2-.1 -2-4.4 -2-3.8 -2-5.1 -2-1.8 -2 .7 -2 2.1 -2-.8 -2-.6 -2 .3 -2-1.1 -2-1.5 -2 .2 -2 .2 -2-3.3 -2-1.2 -2-.1 -2 3.9 -2-2.6 -2 .6 -2 1.9 -2 .3 -2-1.2 -2 1.4 -2 3 -2-.7 -2 4.2 -2-4 -2-2.2 -2-.5 -2-5.3 -2-4.9 -2-1.2 -2 3.6 -2 4.5 -2 2.8 -2-2.4 -2-1.3 -2-2.9 -2-2.4 -2-1 -2-3.2 -2 .2 -2-1.6 -2-.2 -2-4.9 -2-.6 -2-3.5 -2 .6 -2 6.5 -2 3.3 -2 2.6 -2 1.3 -2 1.9 -2-1 -2-1.7 -2-.7 -2-.6 -2-4 -2 .3 -2 4.3 -2 3.1 -2 3.6 -2 2.3 -2 .2 -2 2 -2 2.5 -2 .1 -2-2.2 -2 .3 -2-2.1 -2-3.7 -2-3.7 -2 1 -2-.3 -2 .7 -2 1.1 -2 .2 -2-1.7 -2 2.9 -2-.9 -2 2.7 -2 1.5 -2 .5 -2 3.1 -2 .2 -2-1.7 -2 1.2 -2 .3 -2-.6 -2 .3 -2-1.4 -2 .3 -2-2 -2-2.5 -2-.7 -2 .3 -2 .2 -2 3.3 -2 3 -2 2.6 -2 2.5 -2-2.3 -2 1.3 -2-3.6 -2-.9 -2-2.8 -2 1.9 -2-.3 -2-1.2 -2-.4 -2-3 -2-1.3 -2-.2 -2-2.2 -2 1.7 -2-2.2 -2-1.7 -2-1.1 -2-.7 -2-1.4 -2 .1 -2 .2 -2-1.1 -2 1.4 -2 .5 -2-.8 -2 1.1 -2-.3 -2-1.4 -2 .9 -2 0 -2-.6 -2-1.3 -2-1.6 -2-2.5 -2-.8 -2 1.4 -2 3.3 -2 2.5 -2 .2 -2 3 -2-1.8 -2-1.8 -2-2.8 -2-.4 -2-1.8 -2-2 -2 3.6 -2 3.8 -2 3.8 -2 1 -2 .6 -2-.2 -2-2.5 -2-.2 -2 .4 -2 1.8 -2-3.7 -2-2.2 -2 3.8 -2-1.7 -2-.3 -2 1.3 -2 6.7 -2 7.4 -2 .7 -2-1.9 -2-1.7 -2-1.2 -2 .1 -2 .6 -2 3.7 -2 4.3 -2 2 -2 1.1 -2 2 -2-2.3 -2-.7 -2-1 -2-.8 -2-2.4 -2-.6 -2-2.2 -2 1 -2-.1 -2-1 -2-1.5 -2 2.5 -2 1.5 -2 1.1 -2 1.9 -2 1.3 -2 2.5 -2 1.3 -2 2.6 -2-1.9 -2 2.2 -2 0 -2 1.6 -2 .8 -2 1.6 -2 .6 -2-.9 -2 .8 -2 2.8 -2 4.3 -2 0 -2-1.5 -2 1.1 -2 1.9 -2-1.6 -2 1.3 -2-3.4 -2-1 -2-.4 -2-2.4 -2 .9 -2-2.2 -2 .8 -2-3.2 -2 .3 -2-3.1 -2 1.7 -2 2.3 -2-.7 -2 1.8 -2 2.7 -2 .7 -2-1.1 -2 .9 -2 1.7 -2-1 -2 1.7 -2 1.8 -2 1.2 -2 2.2 -2 1.5 -2-.2 -2 1.9 -2-1.6 -2 .7 -2-2.8 -2-.1 -2-.4 -2 .3 -2 1.7 -2-.2 -2 2 -2 .8 -2 1.2 -2 3.7 -2 3.4 -2 .8 -2 .9 -2 1 -2 3.5 -2 1.3 -2 1.7 -2 .3 -2-2.1 -2-.5 -2-2 -2-1.5 -2-3.9 -2-.8 -2 4.3 -2 3.3 -2 1.6 -2 .4 -2 3 -2-.5 -2 1.7 -2 3.5 -2 1.5 -2 2.8 -2 .6 -2-.4 -2 .5 -2-.5 -2 2.4 -2 3.8 -2 .9 -2 .3 -2 .5 -2 1.4 -2 .8 -2 1.2 -2-2.9 -2-1.2 -2-2.5 -2-.5 -2 .3 -2-.2 -2-.3 -2 .9 -2 1.9 -2-.1 -2-.6 -2 2.6 -2 .6 -2 .4 -2 1.8 -2 1.2 -2 2.5 -2 1.4 -2 .6 -2-.4 -2 .2 -2 .9 -2 1 -2 0 -2 1.4 -2 .8 -2 2.2 -2-.5 -2 .9 -2 2.1 -2-1.7 -2 1.2 -2 .6 -2 3.1 -2-1.2 -2-1.1 -2 2 -2-1 -2 .9 -2-1 -2-2.4 -2 1.5 -2-.8 -2-3.7 -2 .7 -2-.2 -2-1.3 -2 2.8 -2 1.6 -2-.7 -2 .8 -2 4.7 -2 .8 -2 3.4 -2-1.5 -2 .9 -2 2 -2-.7 -2 1.2 -2 1.8 -2 1.9 -2 3.2 -2 1.8 -2 3.6 -2-.4 -2 .2 -2 1.7 -2 2.4 -2-3.4 -2-.8 -2 1.7 -2 .9 -2 1.3 -2 2.1 -2-1.7 -2 4 -2-1.6 -2 .3 -2 .7 -2-1.2 -2-.6 -2-.9 -2-.4 -2 1.6 -2 3.2 -2 1.9 -2 2.7 -2 2.6 -2 3.9 -2 2.1 -2 3.3 -2-1.5 -2 .4 -2 .4 -2-1 -2-2.7 -2 1.5 -2 .5 -2-.7 -2-1.8 -2 1.3 -2 2.8 -2 4 -2 .7 -2-.4 -2 3 -2-1.2 -2 1.9 -2 4 -2-1.3 -2 1.1 -2-.5 -2-1.9 -2 2.6 -2 2.2 -2-1 -2 2.3 -2 2.7 -2-.7 -2 .7 -2-3.4 -2 1.8 -2 2 -2 1.8 -2-.8 -2-1.7 -2 3.5 -2 .7 -2 .2 -2 1.5 -2-.1 -2 2 -2 .3 -2 1.3 -2-.5 -2 1.7 -2 .8 -2 .3 -2 .4 -2 2.6 -2 .5 -2 1.9 -2-.5 -2-.7 -2 1.8 -2-.1 -2 .9 -2-.8 -2-3.7 -2 2.2 -2-1.4 -2-.9 -2-1.4 -2 1.9 -2-.2 -2-.4 -2 2.6 -2 3.4 -2 1.5 -2 .7 -2 1 -2 3.6 -2-.3 -2 2.2 -2 1.2 -2 .5 -2 .4 -2 .4 -2-.5 -2 .4 -2-1.5 -2-.8 -2 1.2 -2-1.2 -2 2.7 -2-.4 -2 0 -2 .1 -2 2.6 -2-1.7 -2 .1 -2 1.9 -2-.1 -2 .9 -2 3.1 -2-3.1 -2 1.9 -2 1 -2 4 -2-.4 -2 4.1 -2 1.7 -2 2.3 -2 2.4 -2 .8 -2 .5 -2-.3 -2-2.4 -2 .9 -2-.8 -2-.8 -2-.4 -2 1.8 -2 1.8 -2 0 -2 1.6 -2 4.4 -2 1.9 -2 3.9 -2 3.7 -2 2.3 -2 2.7 -2 1.4 -2-2.2 -2 .3 -2 1.4 -2 .2 -2-1.2 -2-.4 -2 2.1 -2 .6 -2-.7 -2 1.8 -2 .9 -2 2 -2 1.1 -2 1.8 -2 1.3 -2 2.9 -2 0 -2 1.2 -2-1.2 -2-2.2 -2 1.2 -2-1 -2 2 -2-.5 -2 1.2 -2 1.7 -2-3.9 -2 2.7 -2 .4 -2-1.4 -2 4.9 -2 .1 -2 1.3 -2 1.1 -2-.2 -2 .5 -2 .3 -2-1.5 -2-.5 -2-.6 -2 1.5 -2 2.8 -2-.9 -2-.6 -2 1 -2 .7 -2 .7 -2 2.7 -2-.1 -2-.4 -2 .6 -2 1 -2 .4 -2 1.3 -2 1.1 -2 .9 -2 1.7 -2-1.9 -2 2.7 -2-.3 -2 2.9 -2-.3 -2 1.3 -2-.4 -2 2.6 -2 1.2 -2 2.4 -2 .9 -2 0 -2-.5 -2 .7 -2-2.3 -2-1 -2 .5 -2-1.1 -2 .6 -2 0 -2 .3 -2-1.3 -2 1 -2 2.5 -2 4 -2 .5 -2 .3 -2 2.6 -2 1.1 -2 1 -2-.5 -2 1.8 -2 .5 -2-.8 -2 .1 -2 1.8 -2 2 -2-.1 -2 1.8 -2 1.2 -2 1.2 -2 2.3 -2 .1 -2 1.8 -2 .7 -2 .7 -2-.9 -2-1.7 -2 2.6 -2 3.3 -2 1.1 -2-.4 -2 .5 -2 .5 -2 2.8 -2 2.1 -2 3.9 -2 1.2 -2 1.3 -2-.3 -2 2.8 -2 2 -2 3.6 -2 1.1 -2 3.2 -2-.9 -2-.1 -2-1.4 -2 0 -2 1.6 -2-2 -2-2.9 -2 .6 -2-1.2 -2-.4 -2-.5 -2 .2 -2-.2 -2 1.5 -2-.4 -2 1.5 -2 1.4 -2 1.2 -2 2.9 -2 4 -2 1.2 -2 0 -2 1.9 -2 2.8 -2 .1 -2-1 -2 3 -2 .9 -2 2.9 -2 4.3 -2 2 -2 1.7 -2 2.8 -2-1.7 -2-1.2 -2 1.1 -2 .7 -2-2 -2 2.5 -2-.1 -2 2.8 -2 1.6 -2 3.5 -2-1.3 -2 2.3 -2 .6 -2 .4 -2-.5 -2 1.6 -2-.5 -2 .6 -2-1.8 -2 1 -2-.8 -2 1.9 -2 .5 -2-1.1 -2 .1 -2 2.1 -2 2.1 -2 2 -2-.5 -2-1.2 -2 1.8 -2 .7 -2 1.2 -2 1.1 -2 .4 -2 3 -2 2.3 -2-1.2 -2 .2 -2 1.4 -2 .6 -2 .8 -2-.4 -2 1.2 -2 .7 -2 1 -2 .5 -2 1.3 -2 1.7 -2 1.8 -2 2.8 -2 0 -2 .3 -2-1.8 -2-1.9 -2 2.2 -2 .3 -2 1.6 -2 0 -2 2.3 -2 4.5 -2-1.1 -2 2.3 -2-.1 -2 .3 -2 .9 -2-1.5 -2 2.6 -2 1.8 -2 2.5 -2-.9 -2-.9 -2 3 -2-.1 -2 .1 -2 2.3 -2 2.9 -2-.8 -2 .9 -2 1.6 -2-1.6 -2 2.7 -2-.9 -2 1.4 -2 0 -2-1.2 -2-.3 -2 .1 -2 1.3 -2 1.8 -2-.8 -2 .4 -2 1.4 -2-.2 -2 2 -2-.5 -2 2.4 -2 .4 -2 2.7 -2-.2 -2-1 -2 1.9 -2-.4 -2 .3 -2 3.8 -2 4.1 -2-.8 -2 0 -2 2.8 -2 .6 -2 1.4 -2 .4 -2 1.6 -2-.7 -2 .4 -2 1.2 -2-1.2 -2 3.1 -2 .7 -2 .8 -2 1.6 -2 .3 -2-1.3 -2 1.1 -2 1.3 -2 1.1 -2-.3 -2 1.9 -2 2.1 -2 2.1 -2 2 -2 3 -2 1.6 -2 .1 -2 .7 -2 .4 -2 2.9 -2 .8 -2 .1 -2 4.6 -2 .1 -2 2.2 -2 .9 -2 1.5 -2 1.8 -2-2.6 -2 1.9 -2-.1 -2 3 -2-.3 -2 2.7 -2-.6 -2 .3 -2 2.3 -2-.6 -2 2.8 -2-1.6 -2 .7 -2-.7 -2-.5 -2 1.2 -2-.6 -2-1.7 -2 1.4 -2 1.8 -2-1.2 -2 1.1 -2 1.4 -2 .4 -2 0 -2 3.1 -2 2.3 -2 .5 -2 3.5 -2-.1 -2 1.2 -2 1.4 -2 2.2 -2 3.2 -2-1.7 -2 2.2 -2 1.6 -2 2.4 -2 .2 -2-.6 -2 4.5 -2-1.5 -2-.7 -2 1 -2 1.4 -2 1.9 -2-.1 -2 1.7 -2-1.7 -2 2 -2-.3 -2 .4 -2 1.9 -2 .1 -2 1.5 -2-.6 -2 .3 -2 .8 -2 .4 -2 1.8 -2 .7 -2 0 -2 1.1 -2-.5 -2 .8 -2 .2 -2 .1 -2 2.4 -2-.7 -2-.2 -2-.5 -2 2.8 -2-.2 -2 2.6 -2 .2 -2-.6 -2-1.7 -2-.3 -2 .4 -2 1.8 -2 1.1 -2 0 -2 1.1 -2 .9 -2 2.2 -2-.3 -2 1.2 -2 2.1 -2 .5 -2 1 -2 .7 -2 1.3 -2 .3 -2 1.3 -2-1 -2 .1 -2-.8 -2-.6 -2 .5 -2 .1 -2 1.3 -2-.3 -2-.5 -2 0 -2-1.2 -2 .6 -2 .9 -2 1.6 -2 0 -2 1.3 -2 1.2 -2-.8 -2-1.4 -2 1 -2 1.5 -2 0 -2-.9 -2 1 -2 2.1 -2-1.7 -2-.3 -2-1.2 -2-.3 -2 .7 -2 0 -2 2.7 -2-.2 -2 2 -2 1.3 -2-.7 -2 1.7 -2-2.4 -2-1.2 -2 1.6 -2-.6 -2 1.5 -2 .8 -2-1.7 -2-1.2 -2 2.1z" fill="#800080" stroke="none"/>
<path d="M330 1506.3l4 .5 4-.3 4-.3 4-1.2 4 .8 4-1.3 4-1.8 4-1.6 4 0 4 1.8 4-.3 4-1.7 4-.5 4-.2 4-.8 4-1.4 4-1.7 4 .5 4-.1 4 .5 4-1.1 4 .8 4 1.3 4-1.5 4-3.4 4-1.3 4-2.5 4-1.5 4-1.9 4-1.9 4-1 4 1.2 4-.4 4-2.2 4-1.4 4-.3 4-1.6 4-.9 4 .3 4-1.7 4-1.4 4-.9 4-2 4-1.4 4-1.5 4 .2 4-2.2 4-1.3 4-1 4-2.6 4-1.3 4-2.2 4-2.6 4-4 4-2.6 4-3.5 4-3.8 4-3.1 4-.3 4-1.1 4-2.8 4 1.7 4 .8 4-1.3 4-.4 4-1.1 4-1.4 4-1.6 4-2.9 4-.1 4-3.4 4-1.7 4-4.7 4-1.7 4-2.5 4-2 4-4.3 4-3.7 4-3.7 4-1.7 4-.9 4 1.2 4-3 4-3.5 4-.3 4 .5 4-2.2 4-2.1 4-3.3 4-3.7 4-3.6 4-.6 4 1.1 4-5 4-1.2 4-1.4 4-1.5 4-.6 4-2.4 4 1.3 4-.5 4-1.4 4-.4 4-1.6 4-4.4 4 .1 4-1.8 4-2.5 4-2.4 4 .7 4-1 4-2.3 4-5.9 4-1 4-2.3 4 3 4-1 4-4 4-3 4-1.8 4-2.3 4-.1 4-1 4 .2 4-5.1 4-1.5 4-2.7 4 .2 4-2.2 4-2.7 4-.6 4-1.5 4-.7 4 1.9 4-1.4 4-.9 4-2.1 4-3.1 4-3.2 4-1.5 4 .2 4 .4 4-1.2 4-5.9 4-5.3 4-3.1 4-.4 4-3.7 4-2.9 4-7.2 4-.4 4-2.6 4 .6 4-1.2 4 1.6 4 3.2 4-.4 4 1.2 4 1.4 4-6.3 4-4.4 4-2.1 4-1.7 4-6.4 4-3.4 4-.7 4-3.4 4-.5 4-1.2 4-2 4-1.3 4-3.5 4-1.8 4-2.8 4-.1 4-2.2 4-.3 4-3.7 4-1 4-6.7 4-.1 4 .2 4 .3 4 .6 4 2.5 4-.5 4-4.1 4-3.3 4-.6 4-1.9 4-1.8 4-.8 4-2.1 4-.5 4-1.6 4-.8 4-4 4 .3 4-.1 4-2.8 4 .7 4 .5 4-.4 4-2.1 4-4.7 4 0 4 1.5 4-2.4 4-1.1 4-.2 4 2.6 4-1.5 4-4.7 4-2.6 4-2.7 4-.4 4-3.2 4 1.4 4 .1 4 .4 4-5 4-6.5 4-5.1 4-5.5 4-1.4 4-1.9 4 2.7 4 .8 4 .4 4-4.1 4-5.1 4-2.8 4-4.3 4 1.3 4-3.7 4-2.4 4 1.8 4-2.7 4 0 4-.9 4-.6 4 1.1 4-.4 4-.1 4-4.5 4-2.2 4-2.1 4-5.7 4-1.7 4-1.1 4 1.8 4 .2 4 4.8 4-1.3 4-1.3 4-1.6 4-3.4 4-.8 4-1.2 4-1 4-2.5 4-2.2 4-1.1 4-2.3 4-.4 4-2.3 4 2.3 4-2.5 4-1.9 4-4 4 1.2 4-.2 4-4.8 4-1.5 4-1.9 4-6.1 4 .4 4 .8 4 .9 4 1 4 .8 4-6.8 4-5.9 4-4.7 4-2.8 4 .7 4 .9 4 .5 4-2.6 4-.9 4-2 4-.3 4 1 4-3.6 4-3.8 4-4.3 4-2.3 4-1.5 4-2.1 4-3 4-4.8 4-1.1 4-3.6 4 1.7 4 2.2 4 1 4 2.7 4-.6 4-1.2 4-.2 4-3.5 4-.2 4-.7 4-2 4-2.4 4-.3 4 0 4-3.1 4-3.5 4-2.3 4-2.1 4-.7 4-2.4 4 .2 4 1.6 4 2.9 4 1.4 4-2.6 4-.2 4-4.5 4-1.1 4-2 4-2.6 4-4.7 4-2.3 4-3 4-5.2 4-2.5 4 5.4 4 3.1 4 1.3 4-3.2 4-4.3 4-3.1 4-6.5 4-1.4 4-1 4-3.7 4 1.9 4 2.3 4 .1 4-3.2 4-3.5 4-2.3 4-1.5 4 .5 4-2.6 4-2 4-2.9 4 2.3 4 2.1 4 2.1 4 1.9 4 3.4 4 1.9 4-3 4-.1 4-5.6 4-1 4-1.1 4-2.5 4-1.8 4-2.1 4-3.9 4-2.8 4-1.2 4-2.5 4 1.1 4 1.5 4 3.2 4 1.2 4 3.3 4-3.9 4-6 4-4.2 4 1 4 4.4 4-9.6 4-7.3 4 2.2 4-.5 4 2.2 4-.7 4 3.5 4-4.6 4-5.8 4-2.1 4 3.2 4 3.7 4-.4 4-3.6 4-4.2 4 3.3 4 2.4 4 .8 4 .8 4-.1 4 .2 4-1.3 4 .4 4 2.1 4 2.3 4 2 4 .2 4 5.6 4 1.3 4-.6 4 3.3 4 2.7 4-1.7 4-6.3 4-1.9 4 .2 4 3.6 4 1.5 4 1.4 4-1.6 4 .9 4-3.5 4-4.6 4-2.2 4 2.2 4-2.1 4-1 4 5.9 4 2.8 4 3 4-4.8 4-4.3 4-6.2 4-2.6 4 2.7 4 3.9 4-1 4-6.6 4-6.3 4 1.9 4 4.2 4 3.1 4 2.8 4 3.9 4 4.4 4-1.8 4-7.7 4 5.3 4 4.3 4 9 4-4 4-3 4-.2 4-3 4 .6 4 .7 4 2.9 4 .7 4 1.3 4 .5 4-1.1 4 3.8 4 8 4 4 4 1.2 4 .8 4-5.2 4-7.5 3.1-3.2" stroke="#800080"/>
<g stroke="none"><path d="M330 1494L347.1 1506.4L340.6 1526.6L319.4 1526.6L312.9 1506.4Z" fill="#800080"/><path d="M541.3 1431L558.5 1443.4L551.9 1463.6L530.8 1463.6L524.2 1443.4Z" fill="#800080"/><path d="M752.7 1342.5L769.8 1354.9L763.2 1375L742.1 1375L735.5 1354.9Z" fill="#800080"/><path d="M964 1257.5L981.1 1269.9L974.6 1290L953.4 1290L946.9 1269.9Z" fill="#800080"/><path d="M1175.3 1174.8L1192.5 1187.3L1185.9 1207.4L1164.8 1207.4L1158.2 1187.3Z" fill="#800080"/><path d="M1386.7 1092L1403.8 1104.5L1397.2 1124.6L1376.1 1124.6L1369.5 1104.5Z" fill="#800080"/><path d="M1598 1014.5L1615.1 1026.9L1608.6 1047L1587.4 1047L1580.9 1026.9Z" fill="#800080"/><path d="M1809.3 956.2L1826.5 968.7L1819.9 988.8L1798.8 988.8L1792.2 968.7Z" fill="#800080"/><path d="M2020.7 926.3L2037.8 938.7L2031.2 958.9L2010.1 958.9L2003.5 938.7Z" fill="#800080"/></g></g>
<g><path d="M330 1501.4l2-.1 2 .8 2-2.1 2 0 2-1.6 2 2.4 2 2 2-2.6 2-2.7 2-1.9 2-1 2 .5 2-1.1 2-.8 2 .7 2-2.6 2-1.5 2-.1 2 0 2-1.2 2 1.3 2 .2 2-.5 2 .6 2 .4 2-1.6 2 2 2-1.9 2-1.2 2-1.7 2-1.1 2-1.4 2-.8 2-.3 2-3.5 2-2 2-1.2 2-1.3 2 .1 2-1.5 2 1.3 2-3.1 2-1.2 2 1.7 2-1.8 2 1.7 2 .2 2-2.8 2-.9 2-1.6 2 .1 2 2 2 .8 2 .9 2 2.6 2-1 2 .2 2 .3 2-2.4 2 .6 2-4.7 2 2.2 2-2.1 2 .1 2-2.6 2-2.6 2-2.6 2-1.9 2-1.6 2-1.9 2 0 2-1.2 2-2.8 2 1.9 2-1.9 2 1.7 2-1.7 2-.2 2-2.2 2-1.4 2 .4 2-1 2 .2 2 .5 2 .4 2-1.4 2-.5 2-.5 2 .7 2-.5 2 0 2-1.6 2 1 2 .5 2-.3 2 1.4 2-.6 2 .7 2-2.1 2-.5 2-1.7 2 0 2-.2 2 .7 2 1 2 0 2-3.7 2 0 2 1.3 2-.3 2-1.5 2-.1 2-1.5 2-2.4 2-2.1 2-1.6 2-4.7 2-3.5 2-3.1 2-1.7 2-1.6 2-4 2-4.2 2-3.5 2-3.5 2-3.4 2-4.4 2-3.5 2-1.4 2-4.7 2-6.7 2-6.5 2-3.4 2-7.6 2-3.4 2-3.7 2-6.3 2-2.4 2-2.8 2-.1 2-5 2-2.8 2-4.4 2-5.4 2-4.1 2-6.5 2-3.2 2-3.3 2-.3 2-2.3 2-1.6 2-4 2-.6 2 .8 2-2.8 2 .5 2-1.3 2-2.9 2-1 2-2.5 2-1 2-.1 2-1.1 2 .2 2-.8 2-.5 2-.6 2-1.9 2 1.2 2 1.3 2 1.1 2 .4 2 2.6 2 2 2 1 2-2.2 2-1.7 2-3.7 2-.4 2-1 2 .8 2-.5 2 2.7 2 .5 2 2.7 2 .2 2 2.5 2 2.9 2 2.2 2 1.5 2 .5 2-.9 2 2 2-.7 2 1.2 2 .6 2 3.3 2 1 2 1.3 2-.2 2-.6 2-1.3 2 1.2 2-2.2 2 0 2-.6 2 1.3 2 1.8 2 3.1 2 2.7 2-1.6 2 .7 2 .3 2 .4 2-.2 2-.5 2 2.1 2 2.9 2-1.4 2 2.4 2 1.3 2 .4 2-.9 2-1.5 2-1 2-2.8 2 2 2 .6 2-.2 2-.2 2-.5 2-.6 2-1.6 2-1.8 2-.2 2-.4 2-4 2-.4 2-.1 2-.2 2-1.5 2-1.4 2-.3 2 .4 2-2 2-2.4 2-1.8 2-3.5 2-2.7 2-.4 2-1.8 2-.3 2-3.8 2-1.4 2 1.4 2-3.7 2-2.3 2-2.1 2-3.7 2-2.3 2-1.5 2-3.3 2-5.3 2-5.7 2-1.9 2-6.8 2-1.9 2-4.4 2-2.9 2-1.2 2-1.4 2 .1 2-.7 2-1.6 2-.8 2-4.3 2-4.9 2-5.3 2-6 2-2.8 2-5.5 2-2.5 2-6.3 2-2.5 2 1.6 2-2.1 2-4 2-1.8 2-2.6 2-.3 2-1.2 2-1.2 2-2 2-3.1 2 .4 2-1 2-1.8 2-2.4 2-1.2 2-1.1 2-1.5 2-1.9 2-.6 2-.6 2-1.1 2-.7 2-1.4 2 .1 2-2.1 2 .9 2 .7 2 1.6 2-.3 2-4.5 2-.3 2 .1 2 1.9 2-2.4 2 1.2 2-2.2 2-1.6 2 1.4 2-.2 2 2.6 2-.6 2 2.2 2-.2 2 .2 2-.8 2-5.3 2 .2 2-1.2 2 .1 2 .2 2 1.4 2 .5 2-2.3 2 2.9 2-.3 2 .8 2 2.2 2-1.1 2 3.3 2-.7 2-1.2 2 0 2-1.4 2-3.2 2-1.5 2 0 2-1.7 2 .5 2-.7 2-1.4 2-2.1 2 1.5 2-2.3 2 1.8 2-2.1 2-1 2 1.5 2-3.8 2-1.9 2 .8 2-.8 2-.3 2 .6 2-3.3 2-1.6 2-2.3 2-2.4 2-1.8 2 2 2 .3 2 2.1 2 .7 2 .5 2-1.9 2-.1 2-1.7 2-3.4 2-1.3 2-.8 2-4.3 2-1 2-1.3 2-2.8 2-2.3 2 0 2-.6 2-2.3 2-1.6 2 1.9 2-1.6 2-2.3 2-2.2 2-1.8 2-2.5 2 1.2 2-2.9 2-.7 2-2.9 2-1.3 2-2.3 2-1.1 2-2.2 2-3.8 2-.9 2-1.1 2-3 2-3 2-1.4 2-2 2-3.9 2-1.8 2-2.2 2-1.2 2 .4 2-2.2 2-1.3 2-4.2 2-2.9 2-.1 2-2.5 2-1.5 2-.2 2-4.1 2-2.7 2-.6 2-2.7 2-.9 2-1.1 2-1.4 2-.7 2-.1 2-.6 2 .6 2 1.4 2-3 2-1.3 2 0 2-2.5 2 .8 2 1.5 2-3.8 2-.6 2-1.3 2-1.7 2-3.4 2-.6 2-1.2 2-.4 2-2.9 2-.5 2-3 2-3.1 2-4.8 2 1 2-4.1 2-.2 2-1.3 2 .8 2-1.4 2 2.9 2-.7 2-.8 2 1.2 2 1.8 2-2.8 2-.7 2 .2 2-.3 2-.1 2-1.4 2 .4 2 .8 2 1.3 2 1.6 2 .2 2 .6 2 1.6 2-2.7 2 1.2 2-.8 2 .7 2-.1 2 .8 2 1.8 2 .3 2-.7 2-3.6 2-1.1 2-3.3 2-2.3 2-.9 2-.3 2 .2 2-.1 2-1.3 2-1.8 2-2.9 2-1.9 2-1.6 2 0 2-.4 2-1.5 2-1.6 2-.5 2-.2 2 .1 2-2.9 2 .6 2-1.7 2 .2 2-1.9 2-.4 2-3.6 2 2.4 2-1.5 2-1.8 2-1.6 2-1 2-.5 2-2.3 2-2.6 2-1.1 2-1.6 2-.5 2-3.9 2-2.2 2-5.9 2 1.4 2-1.4 2-.9 2-.2 2-2.1 2-1.2 2 .2 2-.6 2-1.3 2-2.4 2 0 2-1.4 2-.3 2-.6 2-1.2 2-.7 2-2.3 2-2 2-2.3 2-.2 2-2.5 2-.8 2-1.6 2-4.5 2-.5 2-4.9 2-.5 2-3.3 2 1.1 2-5.1 2-2.8 2 1.6 2 .4 2 .6 2 .5 2-1.5 2 .2 2 .5 2 5.4 2-2.2 2-3.3 2-4.4 2-2.1 2-1.2 2-1.5 2-2.8 2-.1 2-2.7 2-1.5 2-4.1 2-.4 2-2.8 2 1.6 2 3.5 2 3.3 2 .2 2 2.3 2 .8 2-2.3 2-3.3 2-1.9 2-1.3 2-.1 2-1.5 2-.8 2 1.7 2-2.3 2-2.5 2-.4 2-.3 2-.9 2 1 2 .3 2-2.6 2 .5 2-1.9 2-2.5 2-1.3 2 0 2-1.9 2 0 2 .5 2-1.5 2-1.8 2 .4 2-1.3 2 1.3 2-2.1 2 2.7 2 .8 2 3.3 2 3.6 2-2.8 2-5.6 2-1.3 2-.9 2-3 2 .8 2-2.8 2-1.7 2-.2 2-2.8 2-2.3 2-1.7 2-.7 2-2.9 2 .2 2 .5 2-2.1 2-2.1 2-.7 2-2.1 2-1.2 2 1 2 .8 2-1.4 2 2.5 2 1.7 2-5.6 2-1.8 2-1.6 2-2.7 2-2.8 2-4.6 2-2.2 2-.9 2 .3 2-1.4 2 .2 2 .2 2-3.3 2 .2 2-1.8 2-.2 2-.1 2-1.7 2-2.9 2 .5 2-1.5 2-.3 2-.3 2-1.5 2-1.3 2-1.8 2 .2 2-.7 2-1.7 2 1.2 2 1.1 2-2.1 2-1.1 2-1.1 2-2.4 2 .1 2-1.7 2 .8 2 0 2 .9 2-.7 2-1.8 2-.4 2-1.5 2-2.7 2-1.1 2 .2 2 1.7 2-4.2 2-1.9 2 .8 2-2.6 2-2.3 2 .1 2-3.8 2 .4 2-.9 2 .8 2 .7 2-1.7 2-.2 2-.9 2-.4 2 3.4 2-1.6 2 2 2-.8 2-.5 2-1.8 2-2.1 2-1.1 2-.4 2-1.7 2-3.2 2 2.8 2-.8 2-.1 2 .7 2-3.2 2 1.4 2-.8 2-.2 2-2.6 2 .1 2-1.8 2-2 2-3 2-1.6 2-1.3 2-3.5 2-4 2 .7 2-1 2 .9 2-1.5 2-1.8 2-2.8 2-.6 2-1.1 2-.9 2 1.2 2-.9 2 4.1 2 .4 2-.3 2 1.7 2 1.9 2 2.7 2 .2 2-.2 2-.9 2 .4 2-1.1 2-2.3 2-2.7 2 1.2 2 .3 2 .1 2-.8 2-1 2-3.3 2-1.8 2-2.5 2 2.5 2-.5 2-1.8 2-2.4 2-1.8 2 .7 2-1.1 2-.4 2-1 2-.1 2-2.2 2-1.8 2 1.7 2-3.5 2 4 2-1.5 2-1 2 2.8 2-.4 2-.6 2-2.1 2 1.1 2-1.3 2-.4 2 .4 2-1.2 2 1.2 2-1.8 2-2.1 2-3.3 2-1 2 .7 2 1 2-1.1 2-1.6 2 .1 2-.3 2-1.4 2 2 2-1.1 2 .2 2-.9 2 0 2-1.7 2-.4 2-.5 2-.1 2-2.3 2-2 2 .2 2 1.4 2-.6 2 .4 2 2.6 2 1.6 2 2 2-.2 2 3.2 2-1 2-2 2 .7 2 3.5 2-1.2 2 .5 2-1.7 2-.3 2 .2 2-.5 2 0 2-.5 2-2.4 2 .3 2 .1 2 2.3 2 1.3 2-.4 2-2.4 2 .2 2-.2 2-1.1 2 2.1 2-1.4 2 5.9 2-.1 2 4.8 2 3.3 2 2 2-1.1 2 3.5 2-1.1 2-.6 2 1.7 2 6.7 2 4.2 2 5.4 2-1.4 2-1.4 2 1.3 2 1.1 2-.7 2 1.7 2 .9 2-1.1 2 1.5 2-.6 2 .5 2 2.9 2 3.6 2 .6 2-.2 2 1.5 2 4 2 2.3 2 2.9 2 3.9 2 3.1 2 2.4 2 3.3 2 1.9 2 .4 2 .3 2-.2 2 4 2 .2 2-.5 2 .8 2.6 4.4 0 10.2 -2.6-4.8 -2-.5 -2 1.1 -2-1.4 -2-2.9 -2-.6 -2-.3 -2 .1 -2-1.3 -2-2.2 -2-1.8 -2-1 -2-2.6 -2-4.4 -2-2 -2-5.9 -2-3.6 -2 .8 -2-.7 -2-3.3 -2-3.2 -2-1.9 -2-1 -2-.1 -2 .8 -2-.1 -2-.9 -2 .2 -2-.7 -2-2.3 -2 1 -2 2.3 -2-2.2 -2-2.4 -2-6.1 -2-5.4 -2-.1 -2-1.7 -2-2.7 -2 2.3 -2-2.1 -2-3 -2-1.5 -2-2.5 -2-4 -2-1.3 -2-2.4 -2 .7 -2-.1 -2 1.1 -2 1.3 -2-1.5 -2 .4 -2-3 -2-.2 -2 1.5 -2 1.5 -2 .5 -2-.3 -2-.5 -2 2.3 -2-.3 -2 .2 -2 2.2 -2-1.8 -2-2.3 -2 .2 -2 1.1 -2 .6 -2-2.5 -2 1.6 -2-2.3 -2-.9 -2-3.7 -2-1.4 -2-.1 -2-.8 -2 1.8 -2-1.5 -2 3.2 -2-.2 -2 1.7 -2 1.4 -2-.7 -2 1.6 -2-.3 -2 .1 -2 1.2 -2-1.7 -2 1.1 -2 1.3 -2-.1 -2 .6 -2 1.5 -2-1.3 -2-.2 -2 2 -2 3.3 -2 1.9 -2 1.5 -2-2.7 -2 1.9 -2 .1 -2-.3 -2 1.8 -2-.5 -2 1.5 -2 .3 -2-.5 -2-1.7 -2-.1 -2 2 -2-2.2 -2 2 -2-1.5 -2 2.5 -2 .7 -2 2.2 -2 .1 -2 .5 -2 .3 -2 .7 -2 .6 -2 4.2 -2 .1 -2-.3 -2-1.3 -2 2.3 -2 3.2 -2 2.3 -2 1.3 -2-1 -2 .6 -2 .1 -2-1.4 -2 3.4 -2 .8 -2 1.9 -2-.7 -2 .2 -2 .3 -2 1.1 -2-2.2 -2-1.1 -2-2.7 -2-1 -2-.9 -2-2.1 -2 .1 -2-1.1 -2-.7 -2 2.6 -2 1.7 -2 2 -2 1.2 -2 .7 -2 .4 -2 2.2 -2 .4 -2 2.6 -2 4 -2 2.8 -2-.1 -2 3.8 -2 .7 -2 2.7 -2-1.3 -2 1.1 -2 2.8 -2-.1 -2-2.3 -2 3.2 -2 .1 -2-.9 -2 .4 -2-1.4 -2 2 -2 2.2 -2 1.7 -2-.5 -2 2 -2 2.9 -2-.3 -2 .1 -2-.4 -2 .2 -2-1.6 -2-.4 -2-.1 -2 0 -2 2 -2-.1 -2-.1 -2-1.3 -2 3.2 -2 .9 -2 3.4 -2 0 -2 1.7 -2 2 -2-.9 -2 4.5 -2-1.8 -2 1.1 -2 .6 -2 2.7 -2 2.5 -2-1.3 -2 1.3 -2 1.3 -2-.5 -2-2.4 -2 1.6 -2 1 -2 .8 -2 2.3 -2 .9 -2 2.2 -2-.4 -2-.7 -2-1.7 -2 1.6 -2 1.3 -2 .7 -2 1 -2 3.3 -2 .6 -2-1.7 -2 3 -2-.6 -2 .6 -2 1.6 -2 3.1 -2-.1 -2-.2 -2 1.5 -2 1.2 -2 1.9 -2-.7 -2 0 -2 2.2 -2 .4 -2 2.9 -2 2.6 -2 4.1 -2 2.2 -2 2.3 -2 2.3 -2 2.3 -2 1.1 -2 .5 -2-2.4 -2 .4 -2 .7 -2-1.7 -2 .4 -2 2.3 -2 2.5 -2 .3 -2 2.2 -2 .4 -2-.8 -2 4.5 -2 .5 -2 .2 -2 3.5 -2 2.9 -2 .6 -2-1.1 -2 4.4 -2 .1 -2 2.6 -2 2.1 -2 2.1 -2 2.5 -2 2.3 -2-1.2 -2-2.5 -2-2 -2-2.6 -2 .7 -2-2.5 -2 1.6 -2 .8 -2 1 -2 2.2 -2-.9 -2 .8 -2 1.8 -2-.6 -2 2.5 -2 .4 -2 3.3 -2-.1 -2 1 -2 0 -2-1.1 -2 1.6 -2 1.7 -2-.3 -2 1.3 -2 2.3 -2-1.6 -2 1.1 -2 1.9 -2 .1 -2 1.8 -2 4.2 -2 .3 -2 1.4 -2-.4 -2-1.4 -2-.3 -2-.4 -2-6 -2-2 -2 3.7 -2 1 -2 2.9 -2 2.3 -2 3 -2-.3 -2 1.5 -2 3.1 -2 1.4 -2 2.6 -2 3.5 -2 .3 -2 3.1 -2-5 -2-1.2 -2 .5 -2 1.4 -2-.2 -2-.3 -2-1.5 -2 1.2 -2 1.5 -2 5.5 -2 .6 -2 1.5 -2 3 -2 2.5 -2 3 -2 1 -2 3.8 -2-1.8 -2 3 -2 1.4 -2 2.3 -2 .3 -2 2.9 -2 .1 -2 .1 -2 2.5 -2-.4 -2 3.1 -2-1.7 -2 2.6 -2 2.4 -2-1 -2 .2 -2 2.7 -2-.8 -2 1.3 -2 1.2 -2 2.5 -2 1.9 -2 4.1 -2 3.6 -2 .6 -2 .8 -2 1.3 -2 1.9 -2 .3 -2 3.7 -2 .3 -2 .9 -2 2.4 -2 .6 -2 1.3 -2-1.7 -2 3.4 -2 .9 -2-.3 -2 2.3 -2-.1 -2-.3 -2 3.6 -2-.7 -2 .1 -2 2.1 -2-.5 -2 2.4 -2 .8 -2-.4 -2 2.3 -2 3 -2 2.1 -2 2.5 -2-.8 -2 .9 -2-.1 -2 1.6 -2 0 -2 3.1 -2 2.7 -2 .7 -2 1.5 -2 1.6 -2 .6 -2-2.3 -2 0 -2 .1 -2-1.2 -2 0 -2-.2 -2 .5 -2-1.3 -2 .7 -2 0 -2-1.4 -2-2.6 -2 1.9 -2-1.8 -2 .1 -2 1.4 -2-1.9 -2 2.7 -2 .7 -2 1.5 -2-2.2 -2-.6 -2 1.3 -2-.4 -2-.6 -2-.3 -2-.8 -2 1.3 -2 2 -2 4.5 -2 1.2 -2 3.6 -2 1.6 -2 1.9 -2 1 -2 1.9 -2 1.8 -2 0 -2 1.6 -2 3.4 -2 1.1 -2 1.6 -2-.3 -2 3.2 -2-1.1 -2-1.6 -2 2.3 -2 .7 -2 2.7 -2 1.2 -2-1.5 -2 .8 -2 1.6 -2-.4 -2-.8 -2 2.1 -2 2.5 -2 .3 -2 2.2 -2 1.7 -2 2 -2 4.7 -2-.5 -2 2.5 -2 3.7 -2-.2 -2 3.2 -2 3.1 -2 .7 -2 .3 -2 2.5 -2 .8 -2 1.8 -2 3.4 -2 3 -2 3 -2 .5 -2 1.8 -2 2.1 -2 2.4 -2 2.7 -2 2 -2 2.2 -2 2.6 -2-.4 -2 2.1 -2 1.9 -2 .9 -2 3.2 -2-1.3 -2 4.3 -2 .9 -2 2.8 -2-.1 -2 .7 -2 .6 -2 .6 -2 2.4 -2 2.4 -2 0 -2 1.7 -2 3.4 -2 .5 -2 2.5 -2 2.4 -2 2.8 -2 .2 -2 2.9 -2 .8 -2 1.1 -2 .1 -2-.5 -2-1.4 -2 1.1 -2-3.3 -2-.8 -2 1.4 -2 3.8 -2 2.2 -2 1.2 -2 .9 -2 .9 -2 .4 -2 1.2 -2 .3 -2 2.7 -2 2.4 -2-.4 -2-1.8 -2 3.3 -2-1.4 -2-.1 -2 1.5 -2 .9 -2-.2 -2 .7 -2 1.9 -2 0 -2 1.9 -2 2.2 -2 1.8 -2 1.2 -2 0 -2 1.2 -2-.3 -2-2.9 -2 1.4 -2-.8 -2-1.6 -2-1.3 -2-.1 -2 1.9 -2-2.4 -2-.7 -2-1.8 -2 1.7 -2 1.9 -2-.1 -2 3.8 -2 .9 -2-1.8 -2 2.2 -2-2.4 -2 .6 -2-.8 -2-3.2 -2 .4 -2 1.3 -2 2.3 -2-1.2 -2 1.6 -2-1 -2 1.2 -2-.4 -2 3.9 -2 1.4 -2-1.9 -2-1.7 -2-.6 -2 1.1 -2 1 -2 2.4 -2-.7 -2 2.2 -2 0 -2 1.7 -2 .4 -2 2.7 -2 1.3 -2 2.2 -2 1.1 -2 .7 -2 1.3 -2 1.1 -2 1.7 -2 1.8 -2 1.5 -2 2 -2 .6 -2 3.1 -2 2.2 -2 4.3 -2 .9 -2-.4 -2 3.4 -2 7.7 -2 3.8 -2 4.5 -2 4.2 -2 3.9 -2 4.9 -2 5.3 -2 1.9 -2-1.4 -2 2.2 -2 1 -2 .2 -2 .6 -2 4.9 -2 2.3 -2 5.6 -2 4 -2 5.2 -2 3.5 -2 5.1 -2 4.5 -2 .5 -2-.6 -2 4.7 -2 3.5 -2 1.8 -2 .7 -2 2.3 -2-.3 -2 1 -2 4.8 -2 1.9 -2 1 -2 .3 -2 4.7 -2 2.9 -2 .9 -2 1.4 -2-.1 -2 1.1 -2 .7 -2 1.7 -2 1.6 -2-2.7 -2 3 -2 .6 -2 3.5 -2-.2 -2 .7 -2 1.6 -2 1.5 -2 1.4 -2-2.1 -2 1 -2 .2 -2-1.1 -2-.8 -2 2 -2 2.3 -2-.1 -2 .6 -2 .3 -2-2.4 -2-.7 -2 1.1 -2-1 -2-3.7 -2 .7 -2-1.1 -2-1.6 -2 .9 -2-.8 -2 2.4 -2-1.6 -2-2.1 -2-3.3 -2-1.2 -2-.1 -2 .1 -2 2.2 -2-.9 -2 .6 -2 .4 -2 .3 -2-1.4 -2-.7 -2-1.6 -2-.9 -2-2.3 -2 0 -2-1.6 -2 .8 -2 1.1 -2-.7 -2-2.5 -2-3.1 -2-1.7 -2-1 -2-2.2 -2-2.3 -2-2.5 -2-1.5 -2 .8 -2 .8 -2 1.4 -2 3.2 -2 2.4 -2 1 -2-.5 -2-.6 -2-3.5 -2-1.1 -2-.6 -2-.9 -2-2.7 -2 1.8 -2 .7 -2 .5 -2 .6 -2 .6 -2 .7 -2 .8 -2 1.7 -2 1.6 -2 2.9 -2 1 -2 1.9 -2-1.5 -2 1.7 -2 1.2 -2 2.4 -2 4.3 -2 1.6 -2 1.9 -2 1.3 -2 4.9 -2 3.7 -2 5.1 -2 6.2 -2 3.4 -2 7.3 -2 .2 -2 2.3 -2 2.7 -2 2.6 -2 3.6 -2 6.8 -2 2.5 -2 3.9 -2 6.1 -2 6 -2 4.2 -2 6.3 -2 5.7 -2 2.4 -2 4 -2 3.4 -2 3.2 -2 5 -2 3.2 -2 1.9 -2 4.1 -2 1 -2 1.5 -2 5.2 -2 2.1 -2 3.7 -2 3.2 -2-1.6 -2 1.7 -2 1.4 -2 .9 -2-.7 -2-.3 -2 1.9 -2-.8 -2 2.5 -2 1.6 -2-.6 -2-2.3 -2 1 -2 1.6 -2-.1 -2 2.2 -2 1 -2 .1 -2-1.7 -2-2.2 -2 1.7 -2-.6 -2-.8 -2 .5 -2 1.8 -2-1.5 -2 .6 -2 0 -2-.1 -2 1.7 -2 .4 -2-.6 -2-.7 -2 2.1 -2 0 -2 1.9 -2 1 -2-1.9 -2 3.6 -2-1.3 -2 .3 -2-1.3 -2 2.4 -2 3.5 -2-1.3 -2 4.1 -2 2.5 -2 .9 -2 2.6 -2 2.3 -2 .3 -2 .9 -2 1.7 -2 .3 -2 2.1 -2 1.1 -2 .1 -2 1.3 -2-.1 -2-1.3 -2-.8 -2-.5 -2-1.2 -2-2.3 -2-1.7 -2 2.8 -2 1.8 -2 .5 -2 1.8 -2-2.5 -2 2.6 -2-1.6 -2 .4 -2 4.4 -2-1.7 -2-1.1 -2 2.4 -2 1.8 -2 1.6 -2 1 -2 3.5 -2 0 -2-.1 -2 1.7 -2 2.4 -2 2.3 -2 1.3 -2 .2 -2-1.8 -2 2 -2-.3 -2 .4 -2-2.6 -2-.4 -2-.5 -2 1.8 -2 .8 -2-1.2 -2 2.2 -2 1.4 -2 1.1 -2 .1 -2 1.7 -2-.6 -2 1.1 -2 3.6 -2 1.6 -2 1.1 -2-2.5 -2-2.4 -2 1.1 -2 2.7 -2 1.3 -2-.3 -2-1.8z" fill="#800080" stroke="none"/>
<path d="M330 1505.5l4 1.6 4-3.1 4 1.4 4 .3 4-4.7 4-1.3 4-1.9 4-2.2 4-1.3 4-.7 4 .9 4 .7 4-.5 4 .1 4-3.7 4-2.9 4-.6 4-4.1 4-3.4 4-1.5 4-1.5 4-.2 4 .1 4-1.9 4-3.9 4 3.4 4 .8 4 2.1 4-.1 4-2.3 4-1.2 4-3 4-3.2 4-5 4-4.7 4-2 4-.3 4-.3 4-.7 4-3.6 4-1.9 4 1.8 4-2 4-.3 4-.2 4-1.3 4 .8 4 1.1 4 .9 4-3.1 4-1.9 4 1.4 4 .4 4-3.4 4 .1 4-1.1 4-2.7 4-3.8 4-6.1 4-6.6 4-4.1 4-7.5 4-7.1 4-7.2 4-8 4-11.3 4-11 4-7.6 4-9.5 4-4.1 4-5.2 4-10.1 4-11.4 4-6.7 4-3.3 4-5.8 4-2.1 4-.9 4-3.9 4-3.1 4-2.7 4-.2 4-2.2 4-1.3 4 2.4 4 2 4 4.3 4-1.8 4-5.3 4-1.8 4 .7 4 4.1 4 3.3 4 4.6 4 3.2 4 .2 4 .7 4 2.7 4 2.6 4 1.2 4-.5 4-1.6 4-1 4 4.1 4 4.4 4-1.2 4 1 4 .3 4 3.8 4 1.1 4 2.1 4-1.1 4-4 4 1.4 4-.2 4-.2 4-3.4 4-1 4-4.1 4-.1 4-3.1 4-1.1 4-2.3 4-5.1 4-4 4-2.6 4-5.5 4-1.1 4-4.6 4-6.9 4-2.3 4-10.4 4-8.5 4-7.9 4-5.7 4-.6 4-3.1 4-3.2 4-10.3 4-7.9 4-9.1 4-8.3 4-1.3 4-6 4-4.4 4-2.1 4-4.4 4-2.2 4-2.2 4-3.7 4-2.2 4-1.6 4-2.2 4-1.6 4-1.4 4 3.1 4-4.1 4-1.7 4-.7 4-.7 4-.8 4 2.8 4 1.6 4 .2 4-5 4-1.2 4-.3 4 2.2 4 .1 4 1 4 1.2 4 1.6 4 .1 4-3.7 4-3.5 4-1.7 4-2.1 4-.7 4-.2 4-1.6 4-2 4-3.1 4-.9 4-1.2 4-4.3 4-4.1 4 2.6 4 1.9 4-.8 4-1.7 4-4.5 4-4.7 4-3.3 4-4.7 4-1.2 4-3.6 4 0 4-4 4-4.1 4-1.8 4-3.1 4-3.2 4-4.4 4-4.3 4-4.3 4-3.4 4-5.9 4-4.4 4-2.3 4-2.6 4-6 4-3.1 4-2.9 4-5.9 4-3 4-3.8 4-1.4 4-.7 4 .9 4-3.4 4-2.7 4 1.9 4-3.7 4-3.3 4-3.8 4-.9 4-3.9 4-4.7 4-4.9 4-5.2 4 .1 4 .5 4-.4 4 2 4-2.6 4-.6 4-.9 4 .5 4 3.6 4 0 4-.8 4 1.2 4-.1 4 2.9 4-1.3 4-3.4 4-4.9 4-1.9 4-.8 4-2.3 4-5.6 4-1 4-2.6 4-1 4-1.4 4-1.9 4-1.8 4-1.8 4-2 4-2 4-3.4 4-2.5 4-2.9 4-3.1 4-4.5 4-5.5 4-2.2 4-2 4-1.5 4-2 4-1.8 4-2.8 4-1.7 4-2.6 4-3.9 4-3 4-2.6 4-4.5 4-5.8 4-2.3 4-6.8 4 .8 4 1.4 4-1.4 4 4.8 4-3.9 4-6.2 4-3.8 4-1.9 4-4.6 4-4 4-1.4 4 6.2 4 2 4-.7 4-4.5 4-3.2 4-2.4 4-.3 4-1.9 4-2.8 4 1.5 4-1 4-4.5 4-.5 4-2.8 4-.8 4-1.8 4-.2 4 1.3 4 4.7 4-.8 4-4.9 4-4.3 4-3.2 4-1.2 4-5.4 4-1.9 4-2.5 4-3.1 4-2 4-4 4 2.7 4 1.4 4-3.2 4-4 4-5.2 4-7.1 4-1.7 4-1.4 4-2 4-1.8 4-.6 4-4.3 4-.7 4-1.4 4-3.4 4-1.5 4-1.8 4 2 4-2.8 4-3.5 4-1.9 4 1.3 4 0 4-1.5 4-4.3 4-1.4 4-2.2 4-1.1 4-3.7 4-4.1 4-1 4 .2 4-1.4 4-.5 4 1.7 4 1.1 4-3.4 4-1.8 4-3.3 4-.4 4 .3 4-2.6 4 .6 4-3.2 4-1.6 4-4.6 4-3.1 4-6.8 4-1 4-1.6 4-3.7 4-3.2 4 1 4 2.8 4 1.5 4 4 4 1.3 4-.4 4-1.1 4-4.2 4 .7 4-.5 4-2.9 4-4.9 4 .3 4-3 4-2.2 4 .1 4-2.3 4-3.5 4-1.6 4 2 4 1.3 4-.3 4-1.8 4-1.4 4-1 4 .3 4-4.7 4-.8 4-.6 4-1.4 4-1 4 0 4 .2 4-2.3 4-1.7 4-2.6 4-1.5 4 1.8 4 3.6 4 2.9 4 2.3 4-2.3 4 3.5 4-1.2 4-.4 4-1.3 4-.1 4-2.6 4 2.2 4 .9 4-2 4-.3 4 1.7 4 6.6 4 5.9 4 1.1 4 2.1 4 4.1 4 10.1 4 .7 4 .9 4 1.1 4 2.2 4-.8 4 .8 4 6.6 4 .3 4 7.2 4 6.5 4 6.1 4 3.9 4 1.2 4 1.2 4 3.3 4 .9 2.6 4.1" stroke="#800080"/>
<g stroke="none"><path d="M330 1492.4L334 1504.6L346.7 1504.6L336.4 1512.1L340.3 1524.2L330 1516.7L319.7 1524.2L323.6 1512.1L313.3 1504.6L326 1504.6Z" fill="#800080" stroke="#800080" stroke-width="1.6" stroke-linejoin="miter"/><path d="M541.3 1427.4L545.3 1439.6L558.1 1439.6L547.7 1447.1L551.7 1459.2L541.3 1451.7L531 1459.2L534.9 1447.1L524.6 1439.6L537.4 1439.6Z" fill="#800080" stroke="#800080" stroke-width="1.6" stroke-linejoin="miter"/><path d="M752.7 1296.6L756.6 1308.7L769.4 1308.7L759.1 1316.2L763 1328.4L752.7 1320.9L742.3 1328.4L746.3 1316.2L735.9 1308.7L748.7 1308.7Z" fill="#800080" stroke="#800080" stroke-width="1.6" stroke-linejoin="miter"/><path d="M964 1139.1L968 1151.3L980.7 1151.3L970.4 1158.8L974.3 1170.9L964 1163.4L953.7 1170.9L957.6 1158.8L947.3 1151.3L960 1151.3Z" fill="#800080" stroke="#800080" stroke-width="1.6" stroke-linejoin="miter"/><path d="M1175.3 1039.3L1179.3 1051.5L1192.1 1051.5L1181.7 1059L1185.7 1071.2L1175.3 1063.7L1165 1071.2L1168.9 1059L1158.6 1051.5L1171.4 1051.5Z" fill="#800080" stroke="#800080" stroke-width="1.6" stroke-linejoin="miter"/><path d="M1386.7 940.5L1390.6 952.7L1403.4 952.7L1393.1 960.2L1397 972.4L1386.7 964.9L1376.3 972.4L1380.3 960.2L1369.9 952.7L1382.7 952.7Z" fill="#800080" stroke="#800080" stroke-width="1.6" stroke-linejoin="miter"/><path d="M1598 833L1602 845.2L1614.7 845.2L1604.4 852.7L1608.3 864.8L1598 857.3L1587.7 864.8L1591.6 852.7L1581.3 845.2L1594 845.2Z" fill="#800080" stroke="#800080" stroke-width="1.6" stroke-linejoin="miter"/><path d="M1809.3 736.9L1813.3 749.1L1826.1 749.1L1815.7 756.6L1819.7 768.8L1809.3 761.2L1799 768.8L1802.9 756.6L1792.6 749.1L1805.4 749.1Z" fill="#800080" stroke="#800080" stroke-width="1.6" stroke-linejoin="miter"/><path d="M2020.7 697.7L2024.6 709.8L2037.4 709.8L2027.1 717.3L2031 729.5L2020.7 722L2010.3 729.5L2014.3 717.3L2003.9 709.8L2016.7 709.8Z" fill="#800080" stroke="#800080" stroke-width="1.6" stroke-linejoin="miter"/></g></g>
<g><path d="M330 1502.4l2 2.1 2-1 2-.4 2-1 2-.5 2 .1 2-.4 2-.8 2 1.9 2-1.7 2 .6 2 1.3 2-4.1 2-.3 2-.3 2 .7 2-1.8 2-2.6 2-1.5 2 0 2 .6 2-.8 2-2.1 2-2 2 1.8 2-2 2-1.7 2 1.1 2 0 2-.2 2-1.2 2 4.8 2-1.2 2-3.1 2 .6 2 0 2-.4 2-1.8 2 1.3 2 1.5 2 .3 2-.3 2-1.7 2-.2 2-.7 2-1.9 2-1 2 2.2 2 .3 2-.4 2-3.4 2 .9 2-.6 2 1.4 2 .8 2-4.3 2-2.3 2 1.6 2 1.1 2 1.3 2 1.6 2 .4 2-.8 2 0 2-1.3 2-1.1 2-.3 2-1.3 2-2.6 2-1.5 2 1.3 2-1.4 2-2 2 1.1 2-1.2 2-.1 2-2.8 2-2.7 2-.2 2-1.7 2 .1 2-2.1 2 1.2 2-.6 2-2.1 2 .5 2-1.9 2 .2 2-.3 2-.2 2-1.9 2-2.1 2 .1 2-1 2-.2 2-1.1 2-2.9 2 .6 2-2.6 2-1.5 2-2.1 2-2.1 2-.7 2 .9 2-3.6 2-.4 2-4.3 2-6.1 2-3.3 2-2.7 2-3.2 2-6.2 2-2.3 2 .9 2 2.3 2 2.5 2 3.5 2 1.9 2-3.3 2-4.4 2-3.3 2-.6 2 0 2-4.3 2-1.4 2-3.7 2-2 2-1 2-2 2 .8 2-2.8 2 0 2-2 2-1.9 2-1.5 2-.6 2-1.3 2-3 2 1.1 2-2.5 2-2.9 2-3.4 2 .8 2-.8 2-2.1 2-.3 2-.9 2-.1 2-3.3 2-.3 2-1.8 2 .1 2-5 2-1.8 2 .1 2-1 2 1 2-2.3 2-1.9 2-.8 2-.9 2-.5 2-1.7 2 1.2 2-1.5 2 1.8 2-.4 2-1.1 2-2.4 2 .3 2-1.9 2-1.5 2-1 2-3.7 2 1.1 2-3.2 2-.2 2-.7 2-3.8 2-.4 2-2.2 2-3.4 2 .6 2-3.8 2-4.4 2-1.8 2-3.8 2 .1 2-.8 2-1.2 2 2.2 2 2.2 2 1.3 2 1.3 2 .6 2 2.6 2-1 2-2.5 2-1 2-.1 2-.6 2-1 2-3.7 2 .9 2-1.3 2-.3 2-1.3 2-.6 2-1.2 2 .5 2-3.3 2-.8 2-.2 2-1.5 2-3.1 2 1.8 2-1.5 2-2.3 2-.4 2 .2 2-.6 2 .4 2-3.2 2 .4 2 1.1 2-1.3 2-1.2 2-.1 2-.8 2-1.1 2 .1 2 .3 2-2.4 2-3 2 .7 2-1.3 2 .4 2-.4 2-.2 2-.4 2-.2 2-3.2 2-.4 2-4.4 2 .5 2 .3 2 0 2 0 2-.9 2-.6 2-3.1 2 1.1 2-2 2-.7 2 .5 2-.5 2 .5 2-5.2 2 1.5 2-2.4 2-.9 2-.8 2 .6 2-2.1 2-2.2 2-1.7 2-.9 2-.1 2-.4 2 1.1 2 .3 2-2 2 1.7 2 3.3 2 1.4 2-1.4 2-4.6 2-1.1 2-3.1 2-1.2 2 .8 2-3.6 2-3.3 2 .2 2-1.5 2-1.9 2-.8 2-2.5 2-1.7 2-.8 2-1.1 2-.4 2-.6 2 .4 2-2.5 2-2.7 2-1.7 2-4 2-3.1 2-.1 2 1.5 2-3.1 2-1 2-.2 2-.4 2-1.5 2-.5 2-2.2 2-1.8 2-1.2 2-1.7 2 2.6 2 .2 2-3.4 2 2.7 2-1.2 2-.9 2-1 2-4.3 2-3.6 2-2.8 2-2.8 2-4.9 2-2.6 2-3.4 2-3.1 2-2 2 1.6 2-.4 2 1.9 2 1.4 2 1.9 2 1.2 2 3.7 2 2.6 2-1.4 2 0 2-2.4 2-3.7 2-1.6 2 .8 2-4.4 2-2.9 2-.8 2-3.4 2-2.4 2-1.2 2-.8 2-2.5 2 1 2-1.7 2-.3 2-.9 2-1.5 2 .5 2-1.7 2-.5 2-1 2 4.2 2 .1 2 1.4 2-.3 2-.6 2 .1 2-1.2 2-1.7 2-2.8 2-.6 2 1.1 2-2.3 2-2 2-.9 2-.9 2 1 2-3.6 2 1.6 2-1.6 2-.2 2-1.4 2 2.1 2 1.3 2 .8 2 2.9 2 2 2-4.6 2-2.6 2-2.8 2-1.5 2-1.2 2-1.8 2-.4 2 .8 2-1.7 2 1.8 2-1.2 2 .6 2-1.3 2-2.7 2-5.3 2-3.3 2 0 2-.7 2-2.8 2 .2 2-3.5 2 0 2-.7 2-.5 2-1.9 2-.7 2-3.9 2-.2 2 .2 2 .4 2-3.9 2-.2 2 .2 2 1.4 2-.6 2-3.9 2 .7 2-1.7 2-1.2 2-1.5 2-.6 2-4.1 2-.7 2-2.9 2-4.3 2-2.4 2-2.3 2-1.1 2-.4 2-2.7 2 .7 2-1.9 2-3.8 2-1.3 2 .6 2-1.3 2-.1 2-1.3 2 .5 2-.1 2-.5 2-3.2 2-.5 2-2.1 2-3.6 2-1.1 2-.7 2-3.9 2-1.1 2 2.3 2 .5 2-3.8 2-1.6 2-.2 2-2.1 2 .3 2-1.9 2-1.1 2-1.2 2 1.7 2 2.8 2 1 2-1.7 2-.5 2-2.4 2-.3 2-2 2 2.5 2-2.8 2 3.3 2-1.3 2 .6 2-1.9 2 1.4 2-1.3 2-2.4 2 1.3 2 1.3 2 2.1 2 .2 2-.5 2 .3 2-3.4 2-.9 2-2 2-2.9 2-2.7 2-1.6 2-.4 2-1.5 2-.4 2-.4 2-.2 2-.9 2-.8 2-2.2 2 0 2-.5 2-1.8 2-3.9 2 1.4 2-1.2 2-.8 2 .1 2-3.4 2-1.3 2 1.3 2-3 2-2.4 2 3.6 2-1.8 2-1.3 2-1.5 2-.3 2-1 2 0 2-.9 2-.7 2-1 2-1.3 2-3.2 2-2.3 2 0 2-1 2 .2 2-2 2-.4 2-2.1 2-1.9 2-1.4 2-3.3 2 .8 2-.7 2-1.1 2-1.7 2-2.6 2 .3 2-2.7 2-1.8 2-.6 2-2 2-2.2 2 1.8 2 .2 2-3.6 2-.5 2 1.7 2-2.4 2-1.4 2 1.1 2-2.1 2-.6 2 .2 2-1.7 2 1.5 2-1.1 2-1 2-2.1 2 0 2-.2 2-.4 2-2.6 2-.3 2-1 2-1.9 2 .1 2-2.3 2-.6 2-2.1 2-1.6 2-2.5 2-.4 2 1.3 2 .2 2 1 2-2 2-.5 2 1.4 2 2.6 2 .5 2 2.2 2-3.1 2 .2 2-1.7 2-3 2 .5 2-2 2-.9 2 1.3 2-3.7 2 .7 2-1.1 2 0 2-.4 2 .8 2-.4 2 1.5 2-2.3 2-.2 2-.3 2-2.5 2-.7 2 .8 2-2.7 2-3.2 2-.6 2-3 2-.6 2-4.3 2-2.5 2 .8 2-2.7 2-.6 2 2 2-1.3 2 3.6 2-2.5 2 .8 2-1.7 2-.8 2 2.4 2 .8 2-4.2 2-3.5 2-2.9 2-1.7 2-4.3 2-.3 2-.7 2-3.5 2-1 2-1.7 2-.7 2-2.1 2-1 2-.6 2-3.3 2-2 2-2.4 2 1.5 2-3.1 2 .7 2-1 2-1.5 2-.7 2 .2 2-.9 2 1.8 2-1.2 2-1.8 2-.7 2 2.8 2-1.2 2-.8 2-3.5 2 .9 2-1.4 2-1.7 2-2.7 2-.6 2-.7 2-.3 2-2.4 2-.8 2 3.9 2-2.3 2-1.8 2-3.2 2-.4 2-2.4 2 .4 2-2.6 2-3 2-2.6 2-3.2 2-.1 2-1.2 2 2 2 2.3 2 .1 2 3.9 2 2.7 2 .7 2 1.1 2 2.2 2-1.6 2-2.2 2-.1 2-.5 2-1.8 2 .9 2-3 2 0 2-2.3 2-1.9 2-4.8 2-1.3 2 .5 2 1 2-.2 2-2.8 2-.2 2 .5 2 1.8 2-.9 2-.9 2 .3 2-1.1 2 3 2 1 2 1.1 2-4.3 2-.4 2-2.2 2-4.6 2 .4 2-2.9 2 1 2-1.2 2 .7 2-.7 2-2.1 2-.9 2-1.5 2-2.6 2 .8 2 2.4 2 1 2 1.2 2-2.7 2-3.9 2-4.5 2-2.3 2-3.3 2 .4 2-2.4 2-1.3 2-.1 2-1 2 .1 2-.9 2-.5 2-.4 2-.5 2-1.5 2-1.2 2-1.4 2 2.1 2 0 2-2.9 2 .5 2-.3 2-2.4 2-1.8 2-.6 2-1.6 2 .3 2-1.1 2-1.2 2-.2 2 .2 2-.7 2-2.6 2-.5 2 1 2-.5 2-1.1 2-.5 2 .7 2-.6 2-.1 2 2.6 2-.4 2-2 2 .5 2 .3 2-2 2-.1 2-.4 2 1 2 .3 2-1.9 2-1.6 2-3.5 2 2 2-1.8 2-1.9 2-.4 2 .2 2 .9 2 3.9 2 2.3 2 1.6 2 .4 2 2.5 2 .1 2 .5 2 3.7 2-3.8 2-.3 2-1.4 2-1.1 2-1.6 2-2.8 2-1.2 2-.1 2 1.1 2 .3 2-1.2 2 .8 2 4.1 2 3.7 2-1.6 2-2.5 2 1.1 2-1.6 2-1.2 2-.9 2-1.7 2-.1 2-2.6 2 .9 2-1.9 2-.3 2-1 2-.7 2 1.9 2 .5 2 1.2 2-.3 2 1.2 2 1.4 2-.2 2 4.2 2 3.5 2 .6 2-3.5 2-4.2 2-2.3 2-.6 2-3.7 2 2.5 2 .8 2 0 2-.1 2 .2 2-2.6 2 .7 2 3 2 .6 2 1 2-2.1 2 1.3 2 1 2 1.1 2 .3 2 1.5 2 1.9 2 .1 2-.7 2 4 2-.2 2-1.4 2-.2 2-3.7 2 2.8 2-.6 2-1 2 2.2 2-.6 2 1.3 2-.5 2 .7 2 .1 2 1.1 2 1.8 2-.2 2 1.7 2 .5 2 .5 2-1 2 1.2 2 .8 2 2.3 2 .6 2 4.3 2-.6 2 .2 2 1.5 2 2.1 2-.8 2-.7 2 1.6 2 1.6 2 .8 2-.6 2 2.6 2 .6 2 3.3 2 3.1 2 2.6 2 1.5 2 1.8 2-3.1 2-3.5 2-2.7 2-1 2 0 2-2.9 2 1.2 2-3.1 2 2.9 2-.4 2-.2 2-1.6 2 1.3 2-.1 2 1.2 2 3 2-.5 2-.7 2 4.4 2 .3 2-2.4 2 1.8 2-1.4 2 .5 2 .4 2 3.4 2 .1 2-.9 2 2.5 2-.1 2 3.6 2 4.3 2 1.5 2-4.2 2-7.1 2-1.7 2-2.8 2 .9 2 2 2-1.1 2-2 2 1 2.1 1.1 0 9.8 -2.1-.4 -2-1.8 -2 .2 -2 1.3 -2-.2 -2-.4 -2 5.6 -2 5 -2 2.3 -2 3.4 -2-1.8 -2-1.7 -2-3 -2-4.6 -2-1.9 -2 1.2 -2-.3 -2-2.6 -2-1 -2 .1 -2-.5 -2-1.6 -2 3.1 -2-1.1 -2-2.3 -2 .2 -2-1.1 -2-1 -2-2.1 -2-1.4 -2-.3 -2 1.7 -2-.3 -2 .8 -2-1.3 -2 .8 -2-.2 -2 3.5 -2 1.5 -2 .7 -2 2.6 -2 3.6 -2 1.2 -2-1.7 -2 .7 -2-2.9 -2-2 -2-3.4 -2-2.6 -2-1.9 -2 .2 -2-.9 -2-.9 -2-3 -2 .7 -2 .3 -2-.3 -2-3.2 -2-.2 -2 .5 -2-2.6 -2 .1 -2-3.3 -2-.6 -2-1.6 -2-1.6 -2-.2 -2 1.7 -2-2.7 -2 1.1 -2-2.9 -2 0 -2-.6 -2-1.7 -2-.4 -2-.7 -2 .8 -2-1.4 -2 1.4 -2-.5 -2-2.6 -2 2.7 -2 .8 -2 1.8 -2 .4 -2-4.9 -2 2.3 -2-.8 -2-1.5 -2-.8 -2-1.5 -2-.8 -2-1.7 -2 .8 -2 .9 -2-1.8 -2 1.2 -2-3.9 -2-.4 -2 1.4 -2-.1 -2 1.1 -2-2 -2 .9 -2-1.5 -2 2.9 -2 2.3 -2 2.7 -2 3.3 -2 2 -2-1.8 -2-.3 -2-2.4 -2-2.6 -2-2.6 -2-.3 -2-1.6 -2 .7 -2-1.5 -2-2.3 -2 1.4 -2 1.9 -2 .5 -2 .2 -2 .3 -2 3.1 -2-.6 -2 1.7 -2 .8 -2 2.1 -2-.5 -2 .2 -2 1.8 -2 .9 -2-1.2 -2-4.9 -2 .4 -2 .1 -2-1 -2-.3 -2-.7 -2 2.3 -2 2.4 -2 2.6 -2 .2 -2 1.5 -2-.5 -2 2.3 -2-2.4 -2-.5 -2-.3 -2-2.6 -2 .9 -2-2 -2-1.8 -2-1.8 -2-4.3 -2 .5 -2 1.8 -2 .3 -2 2.7 -2-2.7 -2 4.4 -2 .2 -2 2.5 -2-.3 -2-.8 -2-1.1 -2-1 -2 3.8 -2-.6 -2-.5 -2 2 -2 .1 -2-2.3 -2-.1 -2 .3 -2-1.1 -2 .3 -2 3.1 -2 .1 -2-1.4 -2 .1 -2 1.9 -2 1.7 -2-.1 -2-.2 -2 1.2 -2 2.3 -2-.1 -2 .8 -2 1 -2 2.9 -2 .6 -2 .4 -2 .8 -2 .2 -2 1.4 -2-2.3 -2 .7 -2 2.3 -2 1.6 -2-1.1 -2 1.7 -2 .8 -2 1.6 -2-.9 -2 1.6 -2 1.3 -2 .2 -2 1.9 -2 3.6 -2 2.3 -2 2.6 -2 3.7 -2 2.7 -2 1.7 -2-.5 -2-1.1 -2-4.5 -2 1.3 -2 1.5 -2 2.2 -2-.3 -2 2.4 -2 .1 -2-.3 -2 .2 -2 .9 -2 2.4 -2 3.6 -2 1.5 -2 2.1 -2 .3 -2 2 -2 .7 -2-2 -2-2 -2 .6 -2 .7 -2 .9 -2-.6 -2-.3 -2-.9 -2-.7 -2 3.5 -2-.9 -2-.9 -2 3 -2 2 -2 3.4 -2 1.5 -2 1.3 -2 0 -2 2.6 -2-1.6 -2 2.8 -2 1 -2 .1 -2 .9 -2 .7 -2-.3 -2 0 -2-2.4 -2-.7 -2-4.1 -2 .8 -2-4.4 -2-4.3 -2 3 -2 3.4 -2 1.3 -2 4.3 -2 1.3 -2 2.5 -2-.6 -2 2.7 -2 1.6 -2 2.5 -2-.2 -2 1.9 -2-3.2 -2 1.6 -2 2 -2-.7 -2 1.9 -2-.8 -2 3.9 -2 1.5 -2 1.6 -2-.7 -2 1.6 -2 2.5 -2-1.1 -2-.3 -2-.3 -2 .8 -2 1.1 -2-2 -2 1.3 -2 .6 -2 2.1 -2-.4 -2 1.8 -2 .5 -2 2.5 -2-.9 -2 1.8 -2 3 -2 3.3 -2-.1 -2 .7 -2 1.1 -2 .7 -2 2.4 -2 2 -2 2.2 -2 3.1 -2 1.9 -2 2 -2 3.7 -2 3.4 -2 1.1 -2 1.7 -2-1.6 -2-1.4 -2 1.3 -2 1.2 -2 .2 -2 .9 -2-1.5 -2 .2 -2-1.8 -2 2 -2 2 -2 2.4 -2 1.3 -2 3.2 -2 1.2 -2 1.7 -2 2.5 -2 2.2 -2 0 -2-.1 -2 2.1 -2 1.8 -2-.7 -2 .1 -2 .9 -2 .9 -2-.3 -2 .5 -2-2.2 -2 .9 -2 1.4 -2 .6 -2 1.8 -2 .7 -2 .5 -2 2.7 -2-.9 -2 2.7 -2 2.2 -2-.5 -2 .8 -2-.8 -2-.6 -2-2.1 -2-1.3 -2 .7 -2 .7 -2-.4 -2 1 -2-1.9 -2-.4 -2 2 -2 4.2 -2 1 -2 .1 -2 2.5 -2 .4 -2-.4 -2 2.3 -2 .5 -2 1.1 -2 1.8 -2-.3 -2-.5 -2 2.4 -2 .4 -2 1.4 -2-1.4 -2 2.1 -2 .5 -2 .9 -2-.2 -2 .7 -2 1.5 -2 2.1 -2 0 -2-.5 -2 2.1 -2 1.2 -2-.9 -2 1.6 -2 3.5 -2 0 -2 1.5 -2 .8 -2 2 -2 .5 -2 2.4 -2 1.5 -2 .6 -2-.3 -2 2.6 -2 3.7 -2 1.3 -2-.1 -2 .7 -2 1.3 -2 .4 -2 1.3 -2 .3 -2 2.6 -2 2.2 -2 1.5 -2-.5 -2 1.7 -2 .7 -2 .2 -2 1.1 -2 .6 -2 .2 -2 2.1 -2 1.1 -2-2.2 -2 3.3 -2 3.1 -2-2.6 -2 1.6 -2 3.1 -2 .8 -2-.4 -2 .7 -2 1.3 -2 2.3 -2 2.1 -2 1.5 -2-1.6 -2 .7 -2 2.3 -2 0 -2 .8 -2 .6 -2 .8 -2 2.5 -2 .6 -2 .6 -2 5.9 -2-.2 -2 1.6 -2 1.6 -2 2.9 -2-1.1 -2 .1 -2-1.1 -2 1.2 -2-2.4 -2-2.6 -2 4.3 -2 1.5 -2-2.5 -2 .9 -2 .5 -2 .4 -2-1.8 -2 .3 -2-.4 -2 2.8 -2-.2 -2 2.9 -2 .4 -2-.1 -2 0 -2-2.1 -2-1.5 -2-.6 -2 1.2 -2 2.1 -2-.4 -2 1.3 -2 2 -2 .8 -2 2.9 -2 1 -2-1.9 -2-.4 -2 4.6 -2 3 -2-.1 -2 3.2 -2 3.8 -2-.6 -2 2.4 -2 1.1 -2-1.3 -2 0 -2 .7 -2-.2 -2 .9 -2 .9 -2 3.2 -2 1.5 -2 2.8 -2-.5 -2 2.8 -2 .6 -2 1.8 -2 3.7 -2 4 -2 1.5 -2 2.6 -2 1.1 -2 2.6 -2 1 -2 .4 -2 1.6 -2 2.3 -2-1.3 -2 1.4 -2 1.7 -2-1.9 -2 2.4 -2-.5 -2 3 -2-.2 -2 .3 -2 1.1 -2 4.1 -2-1.7 -2 2.3 -2 1.6 -2 1.7 -2-.2 -2 2.1 -2 2 -2-.5 -2 2.3 -2 2.2 -2 5.4 -2 2.7 -2 2.5 -2-2.3 -2 1.6 -2 .2 -2-3.6 -2 2.8 -2 .1 -2 0 -2 4.5 -2 0 -2 3.1 -2 2.6 -2 2.4 -2 1.3 -2-.8 -2-1.3 -2-1.4 -2-2.7 -2-3.1 -2 1.1 -2 .3 -2 3.2 -2-.4 -2 2.2 -2 .2 -2 0 -2 .8 -2 2.8 -2 .7 -2 1.4 -2-.2 -2 2 -2 2.7 -2-1.6 -2 2.3 -2-1.7 -2 2.4 -2-1.4 -2-.1 -2-3.7 -2-.6 -2 .6 -2 2.7 -2-1.5 -2 1 -2 1.5 -2-1.3 -2 3.8 -2 .4 -2 1.2 -2 2.2 -2 1.5 -2 3.8 -2 .8 -2 3.8 -2-.7 -2 3.5 -2 .8 -2 2.3 -2 2.9 -2 3.3 -2-2.1 -2 1.8 -2-3.5 -2-.4 -2-1.8 -2-1.9 -2-3.3 -2 0 -2-1.2 -2-1.3 -2 2.4 -2 7.6 -2 3.1 -2 3.1 -2 4.9 -2 2.7 -2 2 -2 .5 -2 4.2 -2-1.1 -2 2.1 -2-.9 -2-1.1 -2 1.6 -2 .4 -2-2 -2 2 -2 1.6 -2 1.8 -2 3.9 -2-2.3 -2 1.9 -2 2.2 -2-.1 -2 .9 -2 2.3 -2-.5 -2-.1 -2 5 -2 3.2 -2 2.3 -2 2 -2 1.7 -2-1.7 -2-.2 -2 .5 -2 2.8 -2 2.8 -2 .7 -2 2.4 -2-.2 -2 .7 -2 2 -2 2.7 -2 1.9 -2 3 -2 1.1 -2-.7 -2 4.7 -2 1.2 -2 3 -2 .4 -2-1.8 -2-2.3 -2-1.4 -2 2.4 -2-3.6 -2-.1 -2 1.4 -2 .8 -2 1.2 -2 .5 -2 1.7 -2 1.1 -2 1.2 -2 1.9 -2-.3 -2 2.8 -2-.2 -2 3.7 -2-.6 -2 0 -2 1.1 -2-.4 -2 .8 -2 .1 -2 2.3 -2 0 -2 .8 -2 1 -2 1 -2-1 -2 1.1 -2 3.8 -2 1.8 -2-.3 -2 1.5 -2-.9 -2-.7 -2 2.4 -2 .4 -2 .4 -2 1.6 -2 0 -2 2.7 -2-.7 -2 .5 -2 1.3 -2 1.6 -2 1 -2-.4 -2 .7 -2 0 -2-.2 -2 1.8 -2-.5 -2 0 -2 .6 -2 .3 -2 1.8 -2 3.2 -2-.5 -2 2.3 -2 .7 -2-.1 -2 .9 -2 2.8 -2 .7 -2 1.5 -2 .1 -2 1.1 -2-.9 -2 2.4 -2-.4 -2 1.9 -2 2.1 -2-.9 -2 2 -2 1.2 -2 .9 -2 .6 -2-.6 -2-.9 -2-1.6 -2 .3 -2-1.8 -2-3.5 -2 .1 -2 2.7 -2 .6 -2 5.6 -2 2.6 -2 1.9 -2 2 -2 2.2 -2 .8 -2 4.2 -2-.2 -2 1.3 -2 3.3 -2-1 -2 3.5 -2-1.2 -2 2.2 -2 3.2 -2 .9 -2 1.5 -2-.3 -2 .4 -2 1.8 -2-.1 -2-.9 -2 1.2 -2-.8 -2 1.8 -2 2 -2-.2 -2 1.4 -2 .7 -2 2.8 -2-2 -2 1.7 -2 1.7 -2 1.6 -2 4.6 -2-.7 -2 1 -2 2.7 -2 .4 -2-.3 -2 2.7 -2-.7 -2 1.9 -2 2.8 -2-.4 -2 1.5 -2 4.2 -2 .8 -2-.6 -2 3 -2 2 -2 .7 -2 1.5 -2 1.8 -2 2 -2 .9 -2 .1 -2 1.7 -2 1.7 -2 2.4 -2 .9 -2 4.6 -2 1.9 -2 2.8 -2 .7 -2 1.9 -2 1.8 -2 3.7 -2 .1 -2-1 -2 .6 -2-4 -2-5.7 -2 3.5 -2 5.4 -2 6.3 -2 3.4 -2 3.5 -2 1.2 -2 3.9 -2 4.7 -2-2.5 -2 1.8 -2 1.5 -2 .4 -2 3.4 -2 .9 -2 2.7 -2 1.8 -2-1.2 -2 2.6 -2 .5 -2 .4 -2 1.9 -2 1.2 -2 1.8 -2 .9 -2-1.5 -2 1.7 -2 .4 -2-.3 -2 1.4 -2 .7 -2 .9 -2-.1 -2 1.4 -2 1.1 -2 1.8 -2 1.6 -2 1.5 -2 1.5 -2 1 -2-1.3 -2 1.5 -2 .4 -2 2.6 -2-1 -2 2.8 -2 .5 -2 1.5 -2-.1 -2 .4 -2 .6 -2 .8 -2 1.5 -2-1.2 -2 .4 -2-2.2 -2-1.4 -2 .1 -2 2.1 -2 2.7 -2-1 -2-.3 -2-.6 -2-.6 -2 3 -2-.6 -2 0 -2-1 -2 1.8 -2 2 -2 .9 -2-.7 -2 1.2 -2 1 -2-1.5 -2 1 -2-3.7 -2 3.2 -2 .4 -2-1.4 -2-.5 -2 4 -2-.2 -2-4 -2 2.4 -2-1 -2-.8 -2-.4 -2 2.1 -2 1.6 -2-1.3 -2 2.1 -2 2.2 -2 .1 -2 .1 -2 .2 -2 2.2 -2 3.1 -2-.5 -2 .9 -2 1 -2-.5 -2 2.8 -2-1.6 -2 .2 -2 1.2 -2-1.6 -2-.3 -2 1.9 -2-.2 -2 .3 -2-.6 -2 2.9 -2 .6 -2-2.2z" fill="#000000" stroke="none"/>
<path d="M330 1508.2l4 .7 4-2.6 4 0 4-.6 4 .3 4 .7 4-2.6 4-.4 4-3.2 4-2.3 4-1.2 4-3 4 0 4-1.8 4 .5 4 2.3 4-3.1 4 1 4-2.5 4 1.9 4 .1 4-1.1 4-2.6 4 .7 4-.4 4-2.6 4 1.1 4-2.4 4-1.8 4 3.5 4 .3 4-.5 4-2.2 4-.4 4-3.8 4-1.8 4-1.4 4-.4 4-4.1 4-2 4-3.1 4 0 4-1.9 4-.6 4-1.3 4-2.4 4-1.4 4-1.8 4-2.7 4-3.7 4-3.2 4-1.7 4-2.3 4-8.2 4-6.2 4-8.7 4-6 4 6.8 4 3.4 4-5.1 4-3.9 4-3.9 4-5.8 4-3.6 4-2.5 4-1.6 4-3.3 4-3.7 4-3.1 4-2.1 4-5.3 4-1.3 4-1.8 4-1.3 4-3.2 4-2.3 4-5.1 4-3.2 4 .2 4-3 4-1 4-2.4 4 1.4 4-1.9 4-1.5 4-2.2 4-4.9 4-2.6 4-1.8 4-2.6 4-5 4-4.8 4-4.6 4-4.8 4-2.2 4 4.5 4 2 4 2.6 4-3.7 4-1.1 4-1.3 4-1.8 4-2.2 4-2 4-1.2 4-3.8 4-1.4 4-1.6 4-3.5 4-.7 4-.8 4-1.6 4-.5 4-1.3 4-2.9 4 .8 4-3.5 4-1.7 4-1.1 4 1 4-3.3 4-4.8 4 .5 4-1.2 4-1.3 4-2.3 4-1.4 4-.4 4-3.8 4-2.4 4-1.5 4-1.8 4-2.7 4-2.2 4 .5 4-.5 4 4.5 4 .9 4-4.8 4-4.5 4-3.8 4-3.6 4-2.9 4-3.1 4-3.1 4-1.8 4 .3 4-3.3 4-6.4 4-3.8 4-1.6 4-1.5 4-2.6 4-2.5 4-3.1 4 .4 4-1.9 4 .8 4-1.2 4-6.2 4-5 4-8 4-8.4 4-1.5 4 2.5 4 3.5 4 3.6 4 1.9 4-1.8 4-5.2 4-4.1 4-3.1 4-4.8 4-4.2 4-1.2 4-2.4 4-1.5 4-1.9 4-.5 4 3.8 4 0 4-.6 4-1.4 4-2.9 4-1.8 4-2.9 4-1.2 4-1.3 4-2.2 4 1 4 2.7 4 4.3 4-6.1 4-4.6 4-3.3 4-.7 4 0 4-.5 4-2.9 4-6.8 4-3.2 4-2 4-2.5 4-2.6 4-1.1 4-5 4 .2 4-3.4 4 0 4-2.9 4-1.6 4-2.1 4-4 4-4.4 4-5.2 4-5.2 4-2.7 4-1.6 4-5.1 4-.6 4-1.1 4 .1 4-3.1 4-2.6 4-5 4-5.2 4 1.4 4-4.2 4-1.4 4-2.1 4-3.3 4 1.3 4 3 4-.4 4-3.3 4-1 4 1.1 4-.7 4 .5 4-4.9 4 3.8 4 1.8 4-.4 4-4.1 4-3 4-5.5 4-2.3 4-2 4-.4 4-2.9 4 .2 4-5.2 4-.9 4-.5 4-4.6 4-1.2 4-.5 4-2.5 4-.6 4-2.3 4-1.8 4-2 4-4 4-1.8 4-1.3 4-2.6 4-3.9 4-2.2 4-2.2 4-3.4 4-2.7 4-2.3 4-4.1 4 .7 4-3.2 4-1.6 4-.7 4-1.4 4-2.5 4 .2 4-2.8 4 .4 4-3 4-2.4 4-.6 4-3.5 4-3.8 4-2.1 4 1.8 4-1.5 4 1.6 4 1.4 4 .6 4-2.6 4-1.9 4-2.4 4-2.9 4-1.6 4 1.2 4-.5 4 0 4-.9 4-3.4 4-1 4-4.7 4-2.1 4-6.2 4-3.4 4 .1 4 2.8 4-2 4-1.8 4 2 4-4.5 4-6 4-4.9 4-3.5 4-4.3 4-1.4 4-2.4 4-4.7 4-1.7 4-3.1 4-1.7 4-1.3 4 1 4-1.6 4 .8 4-1.8 4-2.7 4-2.4 4-2.9 4-.6 4-4.1 4 .7 4-2.9 4-3.2 4-1.9 4-6 4-3.2 4 .4 4 3.4 4 4.7 4 2.2 4 1.2 4-3.4 4-1.7 4-1.5 4-2.5 4-5.5 4-2.7 4 .4 4-2.1 4 1.2 4-.8 4-.2 4 2.6 4-2.4 4-2.7 4-4.8 4-2.2 4-.8 4-1.8 4-2 4-2.2 4 3.9 4-1.5 4-6.7 4-5.6 4-4.3 4-.9 4-1 4-1 4-1.9 4-2.8 4 .4 4-1.6 4-1 4-2.8 4-2.2 4-1.8 4-1.8 4-.8 4-1.5 4 .5 4-2.6 4 .1 4 2.2 4-1.4 4-.5 4-1.3 4 1.2 4-1.6 4-4.5 4-.6 4-3 4 2.9 4 4.8 4 2 4 2.1 4 3.7 4-2.9 4-1.3 4-4.5 4-2.4 4 1.2 4 .4 4 6.2 4-3 4-.4 4-3 4-.9 4-2.5 4-2 4-1.6 4 2.4 4 1.8 4 1.4 4 4.8 4 2.8 4-5.3 4-4.6 4-1.1 4 1.2 4-.7 4-1 4 2.6 4 .3 4 1.5 4 2.2 4 2.9 4-1.1 4 3.1 4-1.5 4-.6 4-.7 4 1.2 4-.2 4 1.9 4 2.5 4 1.7 4 .5 4 1.6 4 3 4 3.7 4 .7 4 2.2 4-.2 4 3.2 4 0 4 4.5 4 5.5 4 3.9 4-1.5 4-6 4-1.5 4-2.5 4 .9 4-.5 4-1.5 4 2.9 4 2.1 4 2.2 4-1.8 4 1.3 4 1.7 4 2.4 4 1.3 4 5.3 4 5 4-8.4 4-7.8 4 1.6 4-2.9 4.1 2.3" stroke="#000000"/>
<g stroke="none"><path d="M319.7 1492L319.7 1528L350.7 1510Z" fill="#000000"/><path d="M531 1425L531 1461L562 1443Z" fill="#000000"/><path d="M742.3 1293.9L742.3 1329.9L773.3 1311.9Z" fill="#000000"/><path d="M953.7 1195.5L953.7 1231.5L984.7 1213.5Z" fill="#000000"/><path d="M1165 1099.4L1165 1135.4L1196 1117.4Z" fill="#000000"/><path d="M1376.3 995.4L1376.3 1031.4L1407.3 1013.4Z" fill="#000000"/><path d="M1587.7 896.2L1587.7 932.2L1618.7 914.2Z" fill="#000000"/><path d="M1799 809.3L1799 845.3L1830 827.3Z" fill="#000000"/><path d="M2010.3 776L2010.3 812L2041.3 794Z" fill="#000000"/></g></g>
</g>
<g>
<text transform="translate(254.9 1523.2) scale(0.96 1)" font-size="63" letter-spacing="0.00">0</text>
<text transform="translate(171.5 1287.2) scale(0.96 1)" font-size="63" letter-spacing="-2.54">1000</text>
<text transform="translate(171.5 1051.2) scale(0.96 1)" font-size="63" letter-spacing="-2.54">2000</text>
<text transform="translate(171.5 815.2) scale(0.96 1)" font-size="63" letter-spacing="-2.54">3000</text>
<text transform="translate(171.5 579.2) scale(0.96 1)" font-size="63" letter-spacing="-2.54">4000</text>
<text transform="translate(171.5 343.2) scale(0.96 1)" font-size="63" letter-spacing="-2.54">5000</text>
<text transform="translate(171.5 107.2) scale(0.96 1)" font-size="63" letter-spacing="-2.54">6000</text>
<text transform="translate(316.3 1596) scale(0.96 1)" font-size="63" letter-spacing="0.00">0</text>
<text transform="translate(513.7 1596) scale(0.96 1)" font-size="63" letter-spacing="-2.54">20</text>
<text transform="translate(725.1 1596) scale(0.96 1)" font-size="63" letter-spacing="-2.54">40</text>
<text transform="translate(936.4 1596) scale(0.96 1)" font-size="63" letter-spacing="-2.54">60</text>
<text transform="translate(1147.7 1596) scale(0.96 1)" font-size="63" letter-spacing="-2.54">80</text>
<text transform="translate(1345.2 1596) scale(0.96 1)" font-size="63" letter-spacing="-2.54">100</text>
<text transform="translate(1556.5 1596) scale(0.96 1)" font-size="63" letter-spacing="-2.54">120</text>
<text transform="translate(1767.8 1596) scale(0.96 1)" font-size="63" letter-spacing="-2.54">140</text>
<text transform="translate(1979.2 1596) scale(0.96 1)" font-size="63" letter-spacing="-2.54">160</text>
<text transform="translate(2190.5 1596) scale(0.96 1)" font-size="63" letter-spacing="-2.54">180</text>
</g>
<g>
<rect x="384" y="82" width="57" height="6" fill="#0000ff" shape-rendering="crispEdges"/>
<rect x="477" y="82" width="57" height="6" fill="#0000ff" shape-rendering="crispEdges"/>
<circle cx="459" cy="85" r="15.6" fill="#0000ff"/>
<text transform="translate(552 108.4) scale(0.96 1)" font-size="76" letter-spacing="-2.68">v=5.64m/s</text>
<rect x="384" y="164" width="57" height="6" fill="#00ff00" shape-rendering="crispEdges"/>
<rect x="477" y="164" width="57" height="6" fill="#00ff00" shape-rendering="crispEdges"/>
<path d="M441 167L459 148L477 167L459 186Z" fill="#00ff00"/>
<text transform="translate(552 190.8) scale(0.96 1)" font-size="76" letter-spacing="-2.68">v=5.06m/s</text>
<rect x="384" y="247" width="57" height="6" fill="#ff00ff" shape-rendering="crispEdges"/>
<rect x="477" y="247" width="57" height="6" fill="#ff00ff" shape-rendering="crispEdges"/>
<path d="M441 239.7L477 239.7L459 270.7Z" fill="#ff00ff"/>
<text transform="translate(552 273.3) scale(0.96 1)" font-size="76" letter-spacing="-2.68">v=3.46m/s</text>
<rect x="384" y="329" width="57" height="6" fill="#800080" shape-rendering="crispEdges"/>
<rect x="477" y="329" width="57" height="6" fill="#800080" shape-rendering="crispEdges"/>
<path d="M459 314.4L463 326.6L475.7 326.6L465.4 334.1L469.3 346.2L459 338.7L448.7 346.2L452.6 334.1L442.3 326.6L455 326.6Z" fill="#800080" stroke="#800080" stroke-width="1.6" stroke-linejoin="miter"/>
<text transform="translate(552 355.8) scale(0.96 1)" font-size="76" letter-spacing="-2.68">v=3.04m/s</text>
<rect x="384" y="412" width="57" height="6" fill="#ff0000" shape-rendering="crispEdges"/>
<rect x="477" y="412" width="57" height="6" fill="#ff0000" shape-rendering="crispEdges"/>
<circle cx="459" cy="415" r="15.6" fill="#ff0000"/>
<text transform="translate(552 438.2) scale(0.96 1)" font-size="76" letter-spacing="-2.68">v=2.95m/s</text>
<rect x="384" y="494" width="57" height="6" fill="#0000a0" shape-rendering="crispEdges"/>
<rect x="477" y="494" width="57" height="6" fill="#0000a0" shape-rendering="crispEdges"/>
<path d="M469.3 479L469.3 515L438.3 497Z" fill="#0000a0"/>
<text transform="translate(552 520.6) scale(0.96 1)" font-size="76" letter-spacing="-2.68">v=2.69m/s</text>
<rect x="384" y="576" width="57" height="6" fill="#000000" shape-rendering="crispEdges"/>
<rect x="477" y="576" width="57" height="6" fill="#000000" shape-rendering="crispEdges"/>
<path d="M448.7 561L448.7 597L479.7 579Z" fill="#000000"/>
<text transform="translate(552 603.1) scale(0.96 1)" font-size="76" letter-spacing="-2.68">v=2.61m/s</text>
<rect x="384" y="659" width="57" height="6" fill="#800080" shape-rendering="crispEdges"/>
<rect x="477" y="659" width="57" height="6" fill="#800080" shape-rendering="crispEdges"/>
<path d="M459 644L476.1 656.4L469.6 676.6L448.4 676.6L441.9 656.4Z" fill="#800080"/>
<text transform="translate(552 685.5) scale(0.96 1)" font-size="76" letter-spacing="-2.68">v=2.14m/s</text>
<rect x="384" y="741" width="57" height="6" fill="#0000ff" shape-rendering="crispEdges"/>
<rect x="477" y="741" width="57" height="6" fill="#0000ff" shape-rendering="crispEdges"/>
<path d="M441 754.3L477 754.3L459 723.3Z" fill="#0000ff"/>
<text transform="translate(552 768) scale(0.96 1)" font-size="76" letter-spacing="-2.68">v=1.70m/s</text>
</g>
<g>
<text transform="translate(1883.1 90.2) scale(0.96 1)" font-size="76" letter-spacing="-1.89">Failure</text>
<text transform="translate(2241.1 498.2) scale(0.96 1)" font-size="76" letter-spacing="-1.42">Yield</text>
<text transform="translate(2075.9 1288.6) scale(0.96 1)" font-size="76" letter-spacing="-2.26">Unyield</text>
<text transform="translate(1526.9 1363.7) scale(0.96 1)" font-size="76" letter-spacing="0.00">V</text>
<text transform="translate(1149.3 1701.6) scale(0.96 1)" font-size="76" letter-spacing="-2.30">Time (μs)</text>
<text transform="translate(95.7 882.6) rotate(-90) scale(0.96 1)" font-size="76"><tspan x="-2.3" letter-spacing="-1.60">Force </tspan><tspan x="196" letter-spacing="-2.79">(N)</tspan></text>
</g>
<g>
<line x1="2001.7" y1="107.7" x2="1912.1" y2="266.6" stroke="#000" stroke-width="5" stroke-linecap="round"/><path d="M1900.8 286.6L1906.5 261.1L1919.6 268.5Z" fill="#000" stroke="#000" stroke-width="2" stroke-linejoin="round"/>
<line x1="2195.3" y1="496.5" x2="2076.6" y2="549.3" stroke="#000" stroke-width="5" stroke-linecap="round"/><path d="M2055.6 558.6L2075.4 541.6L2081.5 555.3Z" fill="#000" stroke="#000" stroke-width="2" stroke-linejoin="round"/>
<line x1="2266.6" y1="521.5" x2="2135.5" y2="746.7" stroke="#000" stroke-width="5" stroke-linecap="round"/><path d="M2123.9 766.6L2130 741.2L2143 748.8Z" fill="#000" stroke="#000" stroke-width="2" stroke-linejoin="round"/>
<line x1="2075.7" y1="1175.7" x2="1933.2" y2="1129.8" stroke="#000" stroke-width="5" stroke-linecap="round"/><path d="M1911.3 1122.7L1937.4 1123.2L1932.8 1137.5Z" fill="#000" stroke="#000" stroke-width="2" stroke-linejoin="round"/>
</g>
<g>
<line x1="1279.2" y1="683.2" x2="1289.7" y2="716.7" stroke="#0000ff" stroke-width="13"/>
<line x1="1296.5" y1="738.2" x2="1307.1" y2="771.7" stroke="#0000ff" stroke-width="13"/>
<line x1="1313.9" y1="793.2" x2="1324.5" y2="826.7" stroke="#0000ff" stroke-width="13"/>
<line x1="1331.2" y1="848.2" x2="1341.8" y2="881.7" stroke="#0000ff" stroke-width="13"/>
<line x1="1348.6" y1="903.2" x2="1359.2" y2="936.7" stroke="#0000ff" stroke-width="13"/>
<line x1="1366" y1="958.2" x2="1376.5" y2="991.7" stroke="#0000ff" stroke-width="13"/>
<line x1="1383.3" y1="1013.2" x2="1393.9" y2="1046.7" stroke="#0000ff" stroke-width="13"/>
<line x1="1400.7" y1="1068.2" x2="1411.3" y2="1101.7" stroke="#0000ff" stroke-width="13"/>
<line x1="1418" y1="1123.2" x2="1428.6" y2="1156.7" stroke="#000000" stroke-width="13"/>
<line x1="1435.4" y1="1178.2" x2="1446" y2="1211.7" stroke="#000000" stroke-width="13"/>
<line x1="1452.8" y1="1233.2" x2="1463.3" y2="1266.7" stroke="#000000" stroke-width="13"/>
<line x1="1277.2" y1="677" x2="1202.4" y2="440" stroke="#ff0000" stroke-width="14"/>
<path d="M1187.2 388.8L1188 461.2L1207 447L1228 449.6Z" fill="#ff0000"/>
<path d="M1188 461.2L1187.2 388.8L1228 449.6" fill="none" stroke="#ff0000" stroke-width="14" stroke-linejoin="round" stroke-linecap="round"/>
</g>
</svg></body></html>
